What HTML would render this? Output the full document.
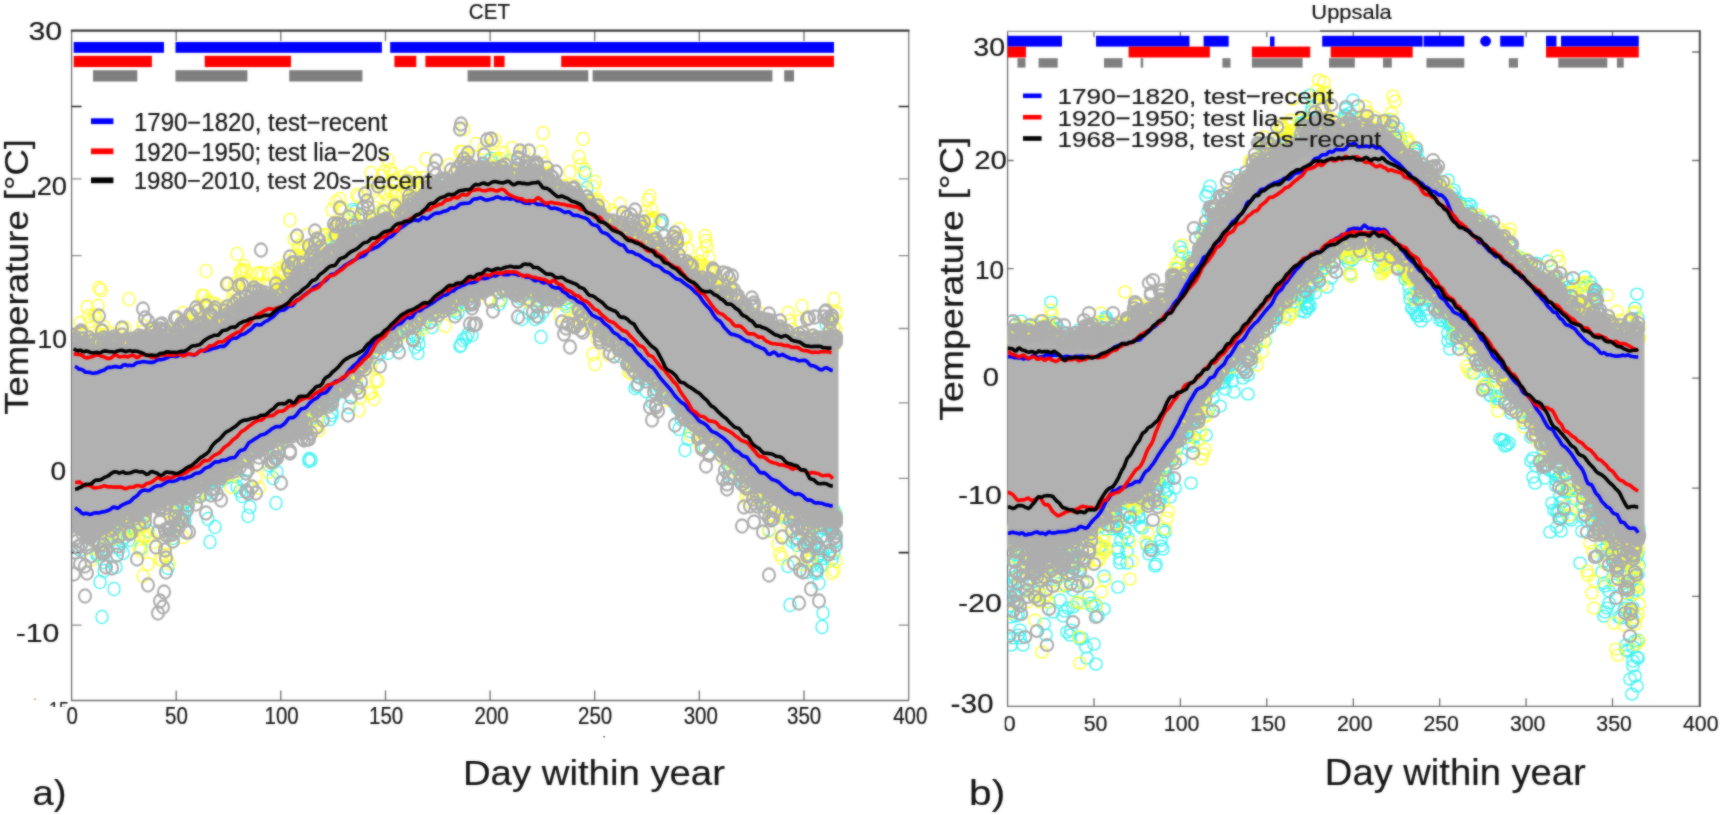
<!DOCTYPE html>
<html lang="en"><head><meta charset="utf-8"><title>Temperature by day within year: CET and Uppsala</title>
<style>html,body{margin:0;padding:0;background:#fff}body{width:1720px;height:815px;overflow:hidden}svg{display:block;font-family:"Liberation Sans", sans-serif}</style>
</head><body>
<svg width="1720" height="815" viewBox="0 0 1720 815">
<defs>
<marker id="mga" markerUnits="userSpaceOnUse" markerWidth="20" markerHeight="20" refX="10" refY="10" viewBox="0 0 20 20"><ellipse cx="10" cy="10" rx="6.0" ry="6.6" fill="none" stroke="#adadad" stroke-width="2.1"/></marker>
<marker id="mya" markerUnits="userSpaceOnUse" markerWidth="20" markerHeight="20" refX="10" refY="10" viewBox="0 0 20 20"><ellipse cx="10" cy="10" rx="6.0" ry="6.6" fill="none" stroke="#ffff30" stroke-width="1.3"/></marker>
<marker id="mca" markerUnits="userSpaceOnUse" markerWidth="20" markerHeight="20" refX="10" refY="10" viewBox="0 0 20 20"><ellipse cx="10" cy="10" rx="6.0" ry="6.6" fill="none" stroke="#3cf2f2" stroke-width="1.3"/></marker>
<marker id="mgb" markerUnits="userSpaceOnUse" markerWidth="20" markerHeight="20" refX="10" refY="10" viewBox="0 0 20 20"><ellipse cx="10" cy="10" rx="6.2" ry="5.9" fill="none" stroke="#adadad" stroke-width="2.1"/></marker>
<marker id="myb" markerUnits="userSpaceOnUse" markerWidth="20" markerHeight="20" refX="10" refY="10" viewBox="0 0 20 20"><ellipse cx="10" cy="10" rx="6.2" ry="5.9" fill="none" stroke="#ffff30" stroke-width="1.3"/></marker>
<marker id="mcb" markerUnits="userSpaceOnUse" markerWidth="20" markerHeight="20" refX="10" refY="10" viewBox="0 0 20 20"><ellipse cx="10" cy="10" rx="6.2" ry="5.9" fill="none" stroke="#3cf2f2" stroke-width="1.3"/></marker>
<clipPath id="ca"><rect x="72" y="31" width="836.5" height="669"/></clipPath>
<clipPath id="cb"><rect x="1007.6" y="31" width="692" height="675"/></clipPath>
<clipPath id="c15"><rect x="40" y="700.5" width="30" height="6.5"/></clipPath>
<clipPath id="c0b"><rect x="1004.8" y="710" width="20" height="30"/></clipPath>
<filter id="soft" x="0" y="0" width="1720" height="815" filterUnits="userSpaceOnUse" color-interpolation-filters="sRGB"><feGaussianBlur stdDeviation="0.80" result="b"/><feComposite in="SourceGraphic" in2="b" operator="arithmetic" k1="0" k2="0.45" k3="0.55" k4="0"/></filter>
</defs>
<rect width="1720" height="815" fill="#fff"/>
<g filter="url(#soft)">
<g stroke="#6e6e6e" stroke-width="1.3" fill="none">
<path d="M71.6 30.5V700.5H909"/>
<path d="M908.7 30.5V700.5" stroke="#7a7a7a"/>
<path d="M71.6 106.5h10M908.7 106.5h-10" stroke="#222" stroke-width="1.7"/>
<path d="M71.6 178.8h10M908.7 178.8h-10" stroke="#8a8a8a"/>
<path d="M71.6 255.7h10M908.7 255.7h-10" stroke="#8a8a8a"/>
<path d="M71.6 328.5h10M908.7 328.5h-10" stroke="#8a8a8a"/>
<path d="M71.6 402.8h10M908.7 402.8h-10" stroke="#8a8a8a"/>
<path d="M71.6 478.4h10M908.7 478.4h-10" stroke="#8a8a8a"/>
<path d="M71.6 552.6h10M908.7 552.6h-10" stroke="#222" stroke-width="1.7"/>
<path d="M71.6 625.2h10M908.7 625.2h-10" stroke="#8a8a8a"/>
<path d="M176.2 700.5v-10M176.2 31v10"/>
<path d="M280.8 700.5v-10M280.8 31v10"/>
<path d="M385.5 700.5v-10M385.5 31v10"/>
<path d="M490.1 700.5v-10M490.1 31v10"/>
<path d="M594.7 700.5v-10M594.7 31v10"/>
<path d="M699.3 700.5v-10M699.3 31v10"/>
<path d="M804.0 700.5v-10M804.0 31v10"/>
</g>
<path d="M70.9 30.6H909.4" stroke="#3a3a3a" stroke-width="2.2" fill="none"/>
<g stroke="#6e6e6e" stroke-width="1.3" fill="none">
<path d="M1007.6 31.3V706.3H1700.5"/>
<path d="M1007.6 52.0h6M1699.6 52.0h-7.5"/>
<path d="M1007.6 160.5h6M1699.6 160.5h-7.5"/>
<path d="M1007.6 268.7h6M1699.6 268.7h-7.5"/>
<path d="M1007.6 378.2h6M1699.6 378.2h-7.5"/>
<path d="M1007.6 488.1h6M1699.6 488.1h-7.5"/>
<path d="M1007.6 596.3h6M1699.6 596.3h-7.5"/>
<path d="M1094.0 706.3v-8M1094.0 31.3v6"/>
<path d="M1180.4 706.3v-8M1180.4 31.3v6"/>
<path d="M1266.8 706.3v-8M1266.8 31.3v6"/>
<path d="M1353.3 706.3v-8M1353.3 31.3v6"/>
<path d="M1439.7 706.3v-8M1439.7 31.3v6"/>
<path d="M1526.1 706.3v-8M1526.1 31.3v6"/>
<path d="M1612.5 706.3v-8M1612.5 31.3v6"/>
<path d="M1007 31.3H1320" stroke="#9a9a9a" stroke-width="1.2"/>
</g>
<path d="M1320 31.2H1700.6" stroke="#555" stroke-width="1.8" fill="none"/>
<path d="M1699.8 30.4V707" stroke="#4a4a4a" stroke-width="2" fill="none"/>
<g clip-path="url(#ca)">
<path d="M493 278 598 217 154 504 152 494 491 177 227 477 124 515 357 385 832 559 389 336 466 338 413 321 723 444 589 312 535 292 353 230 809 505 729 447 497 278 177 486 504 290 169 491 89 521 421 312 727 452 192 481 319 260 179 487 307 414 824 516 133 514 535 285 514 279 135 504 141 548 606 330 723 450 250 507 502 178 409 319 815 514 596 323 118 539 76 516 229 468 120 519 267 438 307 409 342 386 275 298 290 294 510 276 711 436 118 520 430 192 332 412 834 520 656 376 629 348 183 505 221 466 729 474 727 457 416 315 616 335 834 533 125 510 75 513 405 215 353 376 108 526 185 521 415 347 152 497 824 558 129 515 242 496 100 533 83 521 819 514 825 519 548 283 827 521 288 422 242 454 717 448 437 301 795 539 543 289 200 334 152 353 347 383 735 453 175 516 426 309 832 340 315 267 158 496 127 514 349 407 834 520 778 494 122 514 472 302 376 357 827 513 144 503 719 443 545 187 671 396 173 488 185 515 380 338 723 442 101 526 334 393 395 328 363 359 300 283 129 508 135 529 712 439 821 510 545 291 570 302 813 519 750 465 292 291 836 521 773 488 541 337 171 489 394 327 820 522 353 210 705 447 530 281 275 302 641 357 240 491 382 338 811 508 158 492 776 497 300 420 806 508 656 378 380 339 363 356 122 517 614 334 765 506 168 343 681 409 708 294 778 494 463 340 453 306 832 510 114 589 662 392 591 317 131 505 661 388 807 506 127 510 386 339 415 336 487 176 648 248 131 512 192 479 240 467 537 177 489 282 236 459 795 498 398 213 204 478 424 324 585 173 666 397 560 289 621 347 440 305 432 198 518 283 154 492 577 203 832 521 158 492 317 403 797 545 719 441 744 484 825 511 644 362 93 519 721 445 169 488 443 185 514 277 727 445 719 439 260 440 307 430 355 230 311 419 803 506 815 572 794 498 830 511 181 488 208 473 223 467 549 190 244 481 786 500 294 290 267 443 558 299 495 171 99 536 280 433 319 404 185 492 769 481 819 521 89 521 116 517 581 207 585 307 93 530 430 313 106 526 815 512 237 487 254 447 809 541 526 178 384 343 334 397 378 347 204 472 746 462 110 515 355 212 369 235 704 428 828 512 390 333 641 360 658 380 305 281 302 411 668 267 122 521 836 517 414 321 629 348 610 337 97 555 650 370 537 178 313 409 271 442 106 524 419 344 294 287 807 507 167 352 710 432 110 514 482 281 263 441 282 436 648 364 97 525 407 321 340 387 305 277 721 439 529 313 118 523 624 345 436 303 526 181 690 431 572 199 206 494 171 486 127 518 202 480 645 366 129 509 397 220 436 191 547 282 631 349 317 260 112 538 183 512 451 310 393 334 302 422 790 605 665 385 836 541 328 402 587 188 562 191 460 292 309 270 302 414 367 355 455 311 340 381 788 501 426 309 139 502 455 297 700 425 340 382 207 476 834 510 192 479 545 298 796 499 81 517 225 464 127 530 156 498 190 481 526 281 625 346 181 510 807 572 482 288 380 214 792 519 836 540 83 521 121 518 388 333 799 502 700 424 154 491 631 348 677 408 281 427 455 298 490 288 397 326 455 297 332 249 195 496 757 483 275 447 687 280 87 519 131 506 434 303 97 523 788 566 85 349 589 312 644 363 596 218 478 279 279 433 231 470 164 489 346 247 403 328 828 511 338 388 275 437 809 504 669 390 474 325 774 488 301 284 160 492 730 467 668 395 470 288 823 613 183 485 309 459 455 291 102 522 662 224 405 324 156 496 129 509 319 399 397 346 141 524 171 346 345 378 811 547 717 435 304 422 369 354 298 416 351 372 177 507 656 252 652 402 456 190 813 565 817 558 95 519 801 507 821 518 508 280 342 384 566 306 587 309 688 439 167 346 311 406 175 493 122 513 459 292 246 304 754 325 489 161 483 182 691 416 179 488 376 344 825 529 828 519 721 451 323 267 524 282 313 408 100 582 834 520 526 293 384 341 319 397 141 498 108 532 118 351 648 366 773 484 830 520 202 476 350 378 349 376 336 391 723 448 664 253 204 480 394 334 158 491 725 450 355 372 154 491 704 429 123 513 436 196 158 493 137 508 162 498 595 219 560 297 683 410 104 571 476 180 666 259 646 391 279 447 497 176 784 517 447 299 815 543 807 514 112 517 804 509 411 209 342 383 242 317 472 335 108 522 759 495 80 550 809 505 547 283 112 519 677 407 560 289 817 573 319 268 386 332 525 291 330 390 131 506 328 390 361 360 418 353 359 235 480 285 112 515 769 487 823 527 679 406 792 502 229 463 342 252 648 368 150 493 257 444 388 331 635 388 750 473 420 206 350 246 434 307 382 338 457 297 802 508 505 174 809 524 121 519 612 333 206 470 683 409 118 516 623 350 342 382 794 498 623 343 813 538 665 392 750 316 827 517 539 317 658 251 150 496 363 239 198 480 817 527 733 456 453 298 514 279 432 327 821 566 807 514 562 295 809 511 788 496 664 390 775 488 508 178 229 462 137 502 77 343 658 378 317 400 493 171 227 469 796 503 307 408 348 377 633 349 832 518 221 466 644 368 520 298 817 518 116 519 828 338 395 338 133 510 802 503 504 178 836 536 225 472 740 459 313 269 564 299 332 397 782 338 449 301 671 391 392 331 395 329 767 479 811 527 595 219 177 487 311 460 252 452 145 502 120 516 426 306 555 292 125 518 715 434 826 548 421 317 635 361 706 435 493 276 330 419 654 373 660 223 811 506 805 529 365 354 346 381 658 377 522 319 123 553 794 503 650 377 644 366 771 483 340 389 411 317 334 236 560 196 200 481 122 522 832 517 353 376 336 394 119 549 303 275 738 463 428 308 269 444 309 461 355 371 706 430 470 292 484 179 85 526 709 430 819 525 298 276 348 233 315 408 732 451 420 318 677 404 708 429 286 425 273 463 345 379 771 494 796 499 150 498 231 465 767 480 823 511 148 531 746 471 796 504 633 366 564 291 187 501 707 436 825 520 225 464 516 282 160 492 106 524 198 495 771 482 654 252 166 493 217 466 382 335 710 434 748 313 238 463 683 409 221 470 438 301 541 181 378 225 95 528 441 187 763 485 472 289 380 353 495 277 510 161 443 189 129 533 127 515 455 186 112 525 269 465 74 348 187 481 710 287 298 275 834 512 139 504 545 283 826 514 168 489 221 465 819 583 208 519 627 344 96 526 445 297 755 469 660 388 459 299 484 282 708 438 799 511 541 297 481 285 121 515 568 298 123 510 652 373 792 541 786 516 177 344 338 384 765 484 156 497 93 528 539 280 428 311 447 193 371 348 79 523 301 277 190 481 116 536 646 367 225 466 715 435 392 337 397 332 215 527 267 440 196 482 263 440 543 297 259 445 539 290 468 334 329 404 807 505 263 439 336 391 662 381 627 348 116 567 704 433 282 435 131 507 106 519 210 542 334 391 172 488 424 322 667 387 780 493 780 491 539 180 332 387 668 388 271 306 117 520 522 286 681 419 344 382 374 352 420 313 522 278 589 206 426 310 125 514 200 476 648 372 277 472 388 353 537 300 371 348 391 345 637 386 137 500 399 331 512 280 597 218 357 240 732 449 640 356 185 485 112 515 797 500 493 276 823 347 332 415 367 235 537 289 102 617 185 347 458 313 212 480 418 337 493 278 125 537 167 492 497 277 231 461 817 508 219 466 359 366 487 278 156 496 639 370 99 525 719 447 150 353 259 442 167 487 830 346 236 468 265 448 361 238 729 448 152 349 121 511 803 503 765 483 392 224 830 521 242 459 583 193 594 212 248 516 733 456 763 482 501 300 685 450 282 431 414 327 299 415 533 295 648 368 834 553 681 408 307 274 828 521 780 337 315 402 530 286 83 346 121 512 125 515 625 346 662 386 300 418 154 497 529 178 181 488 821 550 349 383 330 393 189 483 223 479 168 568 378 226 391 333 275 438 193 478 124 513 453 292 233 466 457 305 376 234 830 513 185 481 225 469 250 312 760 497 123 510 156 499 171 528 535 319 160 497 221 469 832 520 468 305 461 345 836 518 179 487 242 458 131 513 338 383 591 317 715 433 183 342 713 433 618 349 826 519 405 321 512 287 742 475 120 518 461 294 675 397 217 476 305 416 100 519 796 499 254 450 828 512 273 478 296 418 351 233 311 266 518 275 826 324 727 445 98 554 732 450 265 441 225 464 529 285 750 468 708 428 809 515 227 477 284 436 303 282 229 470 302 411 338 254 675 397 591 206 114 513 444 187 76 348 206 483 160 499 830 519 836 521 534 183 633 350 824 528 271 433 533 278 491 159 460 346 93 524 158 493 453 299 830 516 409 321 819 508 221 329 629 349 746 463 533 288 321 402 805 507 219 466 474 284 208 473 276 503 87 522 284 436 407 319 753 475 122 541 135 526 836 514 257 440 91 520 794 497 687 412 794 505 415 314 730 447 98 523 114 513 539 282 187 491 114 526 380 337 566 303 434 195 834 523 432 304 261 446 819 555 133 503 137 516 120 513 543 312 133 508 436 319 458 186 323 400 344 377 537 294 432 305 187 487 570 297 767 498 95 524 378 343 145 514 411 332 118 513 137 507 315 411 415 314 357 243 179 485 443 191 817 533 271 442 809 508 778 496 217 478 744 461 815 512 219 482 541 301 296 283 173 538 129 540 530 178 213 492 162 489 552 287 822 627 821 517 620 356 123 512 476 286 104 562 407 318 234 465 642 369 129 512 830 517 800 505 604 328 319 399 382 232 748 470 721 439 417 316 679 429 828 514 524 284 133 511 285 427 237 476 769 530 725 445 470 292 147 346 273 437 394 334 265 436 499 304 246 470 278 433 439 193 438 299 160 489 131 510 166 504 679 401 527 279 441 191 305 413 187 490 798 503 300 285 799 506 237 460 190 490 522 282 214 467 137 500 307 408 102 517" fill="none" stroke="none" marker-start="url(#mca)" marker-mid="url(#mca)" marker-end="url(#mca)"/>
<path d="M830 346 119 335 315 426 229 310 499 300 602 214 317 263 317 404 646 229 384 172 480 283 669 263 629 230 599 222 367 233 596 207 384 335 784 514 141 519 321 249 409 216 420 320 405 217 581 202 371 234 424 184 587 211 788 496 192 347 526 297 177 345 644 238 495 140 352 215 755 323 463 180 166 512 367 237 566 199 790 321 763 486 417 206 834 299 811 527 317 261 388 226 344 377 476 179 447 188 336 256 171 346 710 434 683 278 296 285 476 177 792 500 474 182 250 302 803 564 660 255 315 250 332 261 376 234 211 330 340 199 705 236 397 221 401 210 95 343 505 171 202 326 702 288 125 349 723 299 428 198 432 192 579 157 727 284 443 193 179 343 491 279 434 191 206 271 357 195 815 346 412 197 93 350 834 326 355 239 689 277 417 320 746 496 533 280 595 319 344 249 167 349 669 267 734 306 606 227 283 285 124 511 79 341 265 307 304 248 369 233 317 420 694 283 589 208 403 177 139 338 442 299 172 513 233 317 97 351 629 242 788 313 202 339 150 332 145 349 367 237 782 501 102 352 271 285 135 505 748 469 593 354 246 310 376 229 143 500 396 196 399 214 683 274 210 470 388 344 692 263 780 554 739 464 200 477 194 487 401 215 459 182 390 170 673 264 426 159 188 344 589 202 535 281 696 286 480 175 759 319 430 201 765 326 589 215 254 443 322 263 545 187 413 204 150 495 568 194 183 537 665 257 200 482 453 191 443 308 110 514 690 283 596 216 344 242 332 393 761 475 436 308 520 283 223 328 436 194 227 317 177 346 572 193 411 212 196 497 269 439 543 173 187 349 483 182 244 304 114 350 198 495 114 519 227 318 466 285 642 242 338 223 311 266 259 306 788 498 334 257 79 515 294 239 141 505 692 277 104 335 162 351 290 220 794 502 368 235 646 243 250 313 637 238 798 500 380 344 143 501 509 173 363 361 700 277 357 370 809 345 254 288 819 345 424 207 269 304 102 332 386 341 778 544 80 516 702 290 602 219 616 232 210 332 156 498 531 280 280 427 210 335 141 501 709 288 392 225 357 238 208 334 802 502 537 174 800 515 154 491 550 181 277 296 106 518 198 477 208 330 656 254 673 262 460 187 644 245 562 292 348 376 543 186 112 340 474 182 638 230 342 244 175 492 669 243 319 404 368 236 598 213 227 462 684 273 610 337 612 232 145 500 313 260 384 336 390 335 418 199 284 430 761 321 694 282 279 269 539 181 625 353 129 299 87 345 545 181 148 345 619 230 807 347 635 244 616 334 727 447 623 238 401 217 380 226 146 504 780 498 696 288 461 304 576 309 158 493 242 270 150 495 712 286 87 307 117 343 717 438 317 267 332 257 196 331 818 348 196 340 171 492 236 464 734 308 191 326 363 358 202 473 323 267 298 265 721 447 210 331 664 263 263 274 677 237 357 243 281 272 805 345 313 414 298 415 296 270 372 233 116 349 455 185 175 495 189 338 307 235 122 341 87 522 548 183 832 321 514 275 351 377 685 265 430 198 258 306 533 177 259 488 361 232 116 344 488 178 594 209 85 526 390 223 290 427 715 282 193 344 114 347 667 254 673 260 623 227 200 325 137 347 750 489 91 560 535 180 91 523 162 490 583 208 696 420 422 206 292 288 412 216 826 511 276 434 352 246 177 347 581 200 782 333 167 350 516 172 687 278 179 350 133 504 181 343 650 244 673 270 817 509 401 216 384 338 642 244 269 472 721 298 570 197 117 348 528 283 345 252 712 285 721 441 229 473 336 392 717 279 357 369 564 189 204 330 152 492 677 269 466 170 740 459 202 482 397 221 813 517 336 384 426 307 340 382 440 194 413 187 754 470 122 351 240 319 206 325 593 215 832 518 323 266 229 324 481 173 585 201 212 330 171 348 673 266 629 372 154 352 748 477 80 323 470 179 677 268 434 305 641 246 160 348 275 294 769 495 93 349 489 173 652 374 532 280 372 235 621 339 729 284 116 339 543 169 340 255 290 277 158 491 526 279 319 255 340 207 137 530 367 226 457 289 537 181 355 239 807 341 212 330 313 403 539 173 419 206 462 175 177 521 489 277 773 496 593 208 813 348 338 236 206 472 413 214 227 318 512 276 394 335 463 181 658 253 156 497 87 527 139 508 723 441 342 249 537 182 514 173 181 349 723 301 656 249 637 240 275 301 702 284 716 273 608 225 784 536 148 499 282 285 679 229 87 348 679 274 177 484 127 345 725 454 580 318 748 471 717 446 723 284 430 199 294 275 543 133 633 231 497 179 591 211 664 400 202 337 242 313 610 224 541 302 305 279 583 139 262 307 660 379 476 177 689 276 413 319 234 460 409 185 451 192 746 320 214 314 412 339 577 201 366 239 667 386 834 570 382 176 223 318 242 311 246 309 422 199 518 181 83 521 367 228 721 298 342 379 185 481 468 181 206 309 463 187 773 492 618 336 775 327 432 312 116 513 365 362 547 186 794 498 95 524 700 281 305 277 353 247 273 434 420 210 355 245 137 505 131 509 275 433 409 320 493 276 698 285 627 232 244 283 606 223 593 321 223 324 359 235 129 345 591 327 650 196 352 380 173 351 809 507 288 292 675 270 528 301 591 313 480 179 646 247 652 220 765 497 735 462 363 241 183 487 336 202 478 294 510 278 499 180 757 325 820 342 696 426 96 319 77 349 468 174 234 474 585 170 437 308 506 275 131 351 233 295 110 347 216 326 273 299 610 228 250 304 464 129 629 232 261 303 386 211 378 225 803 504 700 423 372 235 834 337 315 427 705 288 635 367 334 386 311 404 350 240 296 283 482 180 696 284 121 329 79 527 640 236 340 381 562 197 258 308 135 514 256 309 671 264 604 336 641 239 405 188 200 332 698 282 778 330 428 193 267 435 434 305 140 535 376 231 631 233 369 231 219 471 530 179 267 440 499 176 76 347 455 182 238 315 191 338 256 292 501 159 277 292 160 492 418 208 250 313 830 520 767 487 294 418 650 252 627 355 135 350 685 278 196 340 798 505 305 276 393 207 250 311 668 265 830 342 76 526 574 203 380 213 323 267 99 347 737 459 773 332 200 477 260 298 154 354 95 524 384 228 119 514 713 284 792 330 330 394 575 316 131 508 830 334 150 493 752 315 474 283 708 428 102 520 652 250 254 309 602 214 694 286 300 246 497 159 135 502 535 173 286 430 407 215 298 276 562 190 533 281 365 217 135 502 326 394 321 399 719 297 328 259 633 363 127 528 167 351 823 346 120 344 663 262 470 182 319 263 165 493 371 173 240 317 189 324 414 197 265 286 98 519 753 472 541 152 497 277 370 234 380 223 667 255 698 422 742 463 76 514 120 528 401 331 305 410 282 293 416 178 612 232 238 315 388 160 298 419 587 208 746 489 738 464 343 245 181 343 715 280 501 180 154 493 568 197 422 329 529 300 273 303 367 367 325 246 211 326 399 221 493 179 424 308 221 329 593 187 637 367 568 198 535 287 836 314 315 267 145 500 405 208 419 199 594 318 551 184 424 200 240 272 263 438 595 182 750 487 79 515 595 203 244 266 786 337 526 176 832 340 104 327 696 285 332 210 278 429 177 347 253 307 643 243 95 348 416 314 233 460 324 235 547 180 231 323 296 288 213 329 85 334 418 207 388 200 145 535 658 254 300 281 811 345 438 305 79 334 627 238 673 266 520 176 204 337 474 157 445 193 415 212 828 512 615 214 158 352 355 369 162 331 219 323 146 507 625 240 185 482 280 434 137 506 708 428 631 220 834 513 229 317 675 270 723 442 95 523 290 431 612 211 371 366 206 336 133 507 206 335 355 372 616 231 98 522 160 493 280 430 692 278 827 344 589 209 194 320 512 148 593 212 466 186 625 236 81 521 537 286 208 477 468 182 144 517 319 254 606 336 319 407 692 267 235 459 390 217 733 454 652 210 271 304 412 200 799 506 405 218 589 212 805 511 254 446 631 373 152 499 212 332 361 397 290 288 156 352 237 309 794 506 311 267 463 159 405 183 488 179 495 180 436 195 357 377 250 311 256 478 281 427 532 172 158 502 493 177 208 334 365 236 277 438 508 172 553 188 280 440 671 264 393 225 725 444 750 323 252 312 232 465 815 517 327 264 411 216 273 434 298 419 133 531 158 499 325 394 102 345 604 222 499 181 706 435 430 197 709 291 348 239 345 379 528 180 807 515 748 320 453 309 357 241 692 276 208 328 263 303 729 449 418 204 246 315 830 514 361 361 689 275 76 342 209 327 242 311 204 296 589 317 278 435 313 414 275 449 401 216 809 562 616 227 734 452 447 297 257 285 422 197 769 484 537 178 363 358 479 290 462 152 147 494 617 233 554 290 597 215 631 241 738 473 81 517 572 199 474 281 497 177 704 431 202 477 487 181 206 306 319 430 807 520 434 197 357 240 803 339 790 499 804 507 821 508 112 517 514 275 277 302 139 499 342 244 187 345 154 542 815 348 294 282 409 209 817 348 95 315 484 148 369 191 466 182 792 496 104 529 137 509 232 466 836 561 164 491 169 487 648 248 732 304 192 483 152 504 104 346 325 236 315 412 733 460 108 347 98 306 365 240 704 289 273 304 108 344 420 326 828 347 650 221 221 473 248 284 319 268 518 277 229 469 832 511 202 335 641 236 526 282 307 273 409 205 635 238 286 291 597 331 579 324 612 336 771 514 527 292 759 313 231 487 811 507 819 514 340 232 836 330 227 463 127 348 585 204 123 346 773 490 373 192 309 273 102 522 707 246 641 233 97 546 501 180 654 218 581 305 321 265 441 309 395 180 231 321 644 243 731 288 217 322 461 180 742 316 656 242 631 243 384 335 539 183 257 307 265 308 250 310 288 287 225 324 451 192 405 217 698 286 773 487 662 250 629 240 198 306 120 340 131 506 183 343 110 519 93 339 164 491 415 206 409 212 242 297 386 334 639 243 805 532 595 316 284 271 698 280 740 457 89 529 204 306 675 248 120 512 591 216 231 321 160 353 101 339 719 298 125 514 102 351 342 208 397 218 340 241 688 249 495 180 501 166 600 215 595 364 215 328 119 343 200 336 125 515 125 513 391 191 135 525 757 323 372 234 196 330 654 255 258 292 257 274 269 437 644 217 386 194 252 306 669 263 164 495 148 352 644 240 306 270 306 276 549 190 143 497 462 181 355 377 564 186 271 440 520 175 125 510 677 274 645 238 620 223 600 326 415 201 83 519 497 160 303 282 83 524 334 228 439 195 200 340 296 256 763 325 300 281 215 304 198 329 775 517 727 305 750 491 106 342 652 252 786 521 466 155 612 229 357 242 709 257 99 350 715 441 271 441 277 301 481 177 215 322 486 177 363 358 300 283 501 287 204 480 710 290 474 292 256 309 160 493 518 284 317 407 145 351 413 213 633 243 458 179 587 210 487 284 315 269 650 220 593 216 761 482 654 244 225 323 399 336 537 178 371 233 575 201 171 351 393 174 675 260 694 425 706 284 769 325 284 271 779 335 235 284 164 349 633 240 179 488 753 475 599 223 572 188 370 234 560 315 221 326 811 559 275 295 280 302 99 288 346 219 775 491 350 245 168 341 698 421 700 282 187 482 265 438 248 455 568 193 223 321 445 326 219 326 167 488 817 523 290 294 602 323 181 492 570 199 179 504 711 440 324 396 355 221 727 450 277 287 694 264 825 343 116 528 432 198 658 255 234 289 236 319 301 260 284 296 775 492 148 498 124 340 257 311 123 351 367 237 439 301 344 377 267 300 375 208 380 348 93 527 430 202 78 524 662 396 143 326 568 196 646 242 407 206 286 294 575 186 81 518 350 243 746 319 451 300 822 518 336 250 612 331 395 216 143 519 298 286 604 221 742 311 108 342 597 339 97 347 704 266 401 211 378 381 524 276 259 309 104 518 637 240 731 451 145 510 775 332 248 313 765 481 426 195 426 202 411 173 604 220 75 513 499 178 137 500 813 507 696 429 660 256 79 522 823 343 474 173 457 180 591 206 223 327 179 350 804 333 801 554 114 350 599 220 522 174 648 200 204 320 539 280 292 269 491 171 704 270 323 410 401 216 616 228 702 429 491 167 746 308 236 463 761 474 127 347 108 350 709 268 242 312 311 275 131 343 123 518 348 376 756 471 729 453 700 423 618 226 100 337 407 179 828 347 414 212 267 436 767 493 692 280 344 243 828 518 329 239 212 474 95 524 432 190 344 231 179 351 700 262 359 368 803 343 501 173 261 310 554 191 411 204 625 230 531 176 585 203 328 258 407 319 369 393 748 501 196 331 79 348 227 320 541 183 112 345 172 350 237 316 342 253 116 350 671 251 158 349 784 338 620 204 688 277 809 534 455 295 168 496 836 312 139 348 710 286 221 317 290 289 227 465 141 551 261 302 618 226 260 273 545 184 403 212 524 277 292 277 462 288 805 508 189 349 346 382 545 294 503 180 156 499 643 243 614 229 359 242 120 533 74 529 715 289 472 293 169 352 717 298 710 271 277 303 763 497 499 171 614 226 229 317 759 479 143 349 183 313 568 322 110 351 654 219 185 338 77 514 606 220 784 492 143 576 269 274 317 271 729 303 644 248 110 341 300 264 399 220 493 143 384 192 686 236 361 235 342 379 282 276 208 333 374 399 240 307 520 289 250 308 709 289 623 213 784 336 185 341 830 520 160 559 711 281 438 302 359 410 583 206 455 299 505 177 744 466 688 279 639 237 280 291 763 482 294 290 505 177 690 416 189 346 74 338 106 530 108 340 336 233 359 368 326 262 409 212 187 482 746 470 158 349 449 165 524 287 353 372 731 461 317 427 449 297 321 398 684 238 483 175 771 487 572 198 254 303 480 174 482 278 359 230 480 172 185 334 257 300 179 348 409 207 313 268 727 453 260 302 231 463 660 253 283 294 152 331 566 187 721 292 434 194 87 532 288 295 311 268 453 189 625 341 617 230 277 282 627 233 698 422 229 462 148 502 539 172 347 246 413 213 89 524 524 153 183 343 618 341 702 279 420 315 146 506 570 172 124 340 635 240 363 216 160 493 271 434 246 306 591 325 725 285 380 221 721 447 212 468 395 222 571 199 711 291 426 202 648 239 539 292 156 350 668 264 389 219 158 495 114 349 468 177 106 520 127 347 168 340 520 181 642 243 560 192 719 442 723 451 564 298 574 197 353 239 131 512 133 510 167 497 786 337 553 185 566 292 332 245 129 516 165 543 662 382 562 293 744 473 727 449 330 253 145 353 173 336 834 346 407 192 639 361 248 303 388 332 708 295 468 167 549 288 495 170 348 249 263 306 169 487 631 234 342 383 229 284 309 249 640 247 545 164 417 318 650 253 618 338 723 458 127 515 99 345 342 380 464 186 114 518 348 245 648 221 763 328 244 313 522 286 365 238 242 271 767 495 581 165 589 315 167 499 200 333 142 509 252 302 543 174 135 504 227 319 77 349 141 497 702 253 556 295 694 419 807 504 177 349 376 380 361 236 589 214 89 527 549 182 579 204 696 280 367 238 196 337 489 178 504 153 691 435 294 285 725 446 732 464 137 346 188 489 139 504 345 380 476 281 497 175 549 187 652 236 413 199 282 432 608 333 110 344 154 497 309 257 328 261 160 353 714 434 286 291 825 342 597 219 315 267 526 178 675 268 135 351 118 349 405 323 217 311 761 485 382 344 702 280 303 251 769 531 478 175 140 503 652 251 129 349 148 500 591 210 619 229 294 288 508 165 244 313 650 245 101 290 267 299 204 335 476 180 547 189 194 323 524 285 221 326 453 187 82 345 208 301 405 208 663 252 460 175 577 201 108 534 773 334 89 316 171 499 598 319 656 381 786 513 302 256 288 289 89 523 296 285 317 403 98 334 646 212 99 521 198 338 292 287 629 242 560 189 346 251 336 258 832 348 282 286 746 463 77 338 765 483 689 272 732 451 231 315 123 519 484 172 123 513 436 198 694 280 313 266 309 268 428 193 104 342 106 523 365 232 550 182 194 337 141 349 744 314 238 296 106 350 91 519 166 487 633 237 165 490 581 305 131 507 135 503 216 324 125 347 428 199 284 296 217 330 476 144 646 236 298 246 642 247 815 338 528 283 160 493 758 477 91 345 796 509 321 237 665 264 520 283 248 456 532 181 399 220 530 280 286 267 261 309 610 334 696 283 348 246 819 520 296 418 478 172 616 335 817 346 796 502 311 275 150 334 225 323 639 245 811 507 650 251 752 323 311 407 104 536 374 348 261 299 518 181 401 212 164 351 472 168 288 296 478 172 254 306 371 393 625 240 311 270 694 279 281 444 382 210 169 563 290 293 311 253 700 422 503 284 202 476 137 512 235 311 792 496 131 506 77 519 788 339 424 178 725 303 334 254 591 213 93 341 640 240 292 436 279 274 495 173 166 555 780 491 139 548 127 351 190 482 328 243 803 513 353 232 453 191 623 239 836 516 204 334 229 461 734 301 482 181 598 200 148 353 250 446 212 330 202 473 194 320 635 230 591 213 602 222 378 227 296 429 733 460 215 326 587 211 416 206 704 290 689 264 334 230 531 280 824 511 407 322 212 331 232 302 114 538 531 181 797 499 681 248 401 217 700 445 746 318 271 436 313 264 137 343 122 348 175 329 374 233 696 279 288 261 129 530 284 289 149 535 610 224 263 444 221 323 164 350 417 203 596 317 472 180 643 236 723 441 734 454 334 391 796 341 121 343 583 205 466 295 361 239 713 292 369 222 445 195 202 339 87 519 322 398 141 505 608 354 656 255 472 185 541 173 169 494 675 267 397 221 240 319 177 350 142 332 376 231 162 489 359 197 156 497 800 509 719 285 227 322 237 254 200 331 144 537 209 303 610 223 173 348 654 255 259 310 629 238 474 181 548 189 633 244 424 187 777 505 149 498 790 503 646 248 788 507 587 208 752 468 698 265 218 306 681 277 593 315 246 271 137 506 470 182 554 186 798 337 405 215 451 301 489 278 104 520 744 309 112 346 647 246 702 423 173 343 338 230 162 560 815 348 102 522 684 277 369 235 156 495 110 333 353 246 493 175 807 514 248 448 652 246 482 182 221 321 246 461 719 438 175 342 399 203 336 389 832 339 378 225 363 230 91 321 175 331 363 236 394 221 539 181 202 296 539 289 732 451 292 265 407 214 252 305 281 429 292 284 359 239 587 208 694 269 430 316 80 520 742 467 832 573 166 490 479 176 449 192 139 504 557 294 746 316 165 489 248 309 782 558 597 202 432 201 83 343 148 564 99 346 516 279 516 275 531 279 403 219 736 457 112 350 236 307 802 306 166 488 242 308 225 315 671 244 681 271 685 279 277 432 279 297 706 241 633 239 355 240 744 314 120 343 349 245 622 349 403 195 616 233 696 264 177 340 800 321 127 518 489 298 248 281 125 328 460 152 413 191 604 207 434 198 798 514 644 247 403 219 129 512 589 211 658 251 150 338 223 323 141 496 317 264 376 342 98 348 415 213 765 504 476 289 172 490 210 324" fill="none" stroke="none" marker-start="url(#mya)" marker-mid="url(#mya)" marker-end="url(#mya)"/>
<path d="M68.3 341.4 74.4 341.5 76.5 342.0 78.6 342.4 80.7 342.8 82.8 343.2 84.9 343.6 86.9 343.9 89.0 344.2 91.1 344.4 93.2 344.5 95.3 344.7 97.4 344.7 99.5 344.7 101.6 344.6 103.7 344.6 105.8 344.5 107.9 344.4 110.0 344.3 112.1 344.2 114.1 344.1 116.2 344.0 118.3 344.0 120.4 343.9 122.5 343.9 124.6 343.9 126.7 344.1 128.8 344.4 130.9 344.7 133.0 345.1 135.1 345.5 137.2 345.9 139.3 346.3 141.4 346.6 143.4 346.9 145.5 347.1 147.6 347.2 149.7 347.2 151.8 347.1 153.9 347.0 156.0 346.8 158.1 346.6 160.2 346.4 162.3 346.2 164.4 345.9 166.5 345.6 168.6 345.3 170.6 345.0 172.7 344.8 174.8 344.5 176.9 344.2 179.0 343.9 181.1 343.6 183.2 343.3 185.3 342.8 187.4 342.4 189.5 341.8 191.6 341.1 193.7 339.7 195.8 337.8 197.8 335.7 199.9 333.7 202.0 332.2 204.1 330.9 206.2 329.7 208.3 328.5 210.4 327.4 212.5 326.3 214.6 325.3 216.7 324.2 218.8 323.1 220.9 322.0 223.0 320.9 225.1 319.7 227.1 318.5 229.2 317.3 231.3 316.1 233.4 314.9 235.5 313.8 237.6 312.6 239.7 311.5 241.8 310.5 243.9 309.4 246.0 308.4 248.1 307.4 250.2 306.4 252.3 305.7 254.3 305.0 256.4 304.3 258.5 303.5 260.6 302.8 262.7 302.1 264.8 301.5 266.9 300.8 269.0 300.1 271.1 299.4 273.2 298.6 275.3 297.6 277.4 296.6 279.5 295.3 281.5 293.8 283.6 292.2 285.7 290.5 287.8 288.8 289.9 287.0 292.0 285.3 294.1 283.6 296.2 281.8 298.3 279.9 300.4 278.0 302.5 276.1 304.6 274.3 306.7 272.5 308.8 270.8 310.8 269.2 312.9 267.6 315.0 266.0 317.1 264.5 319.2 263.0 321.3 261.5 323.4 260.0 325.5 258.6 327.6 257.1 329.7 255.7 331.8 254.3 333.9 252.9 336.0 251.5 338.0 250.0 340.1 248.6 342.2 247.2 344.3 245.8 346.4 244.3 348.5 242.9 350.6 241.5 352.7 240.1 354.8 238.8 356.9 237.5 359.0 236.2 361.1 235.0 363.2 233.8 365.2 232.7 367.3 231.6 369.4 230.5 371.5 229.5 373.6 228.5 375.7 227.4 377.8 226.4 379.9 225.4 382.0 224.4 384.1 223.4 386.2 222.4 388.3 221.3 390.4 220.2 392.5 219.1 394.5 218.0 396.6 216.9 398.7 215.8 400.8 214.7 402.9 213.6 405.0 212.5 407.1 211.3 409.2 210.1 411.3 208.9 413.4 207.6 415.5 206.2 417.6 204.7 419.7 203.2 421.7 201.6 423.8 200.0 425.9 198.4 428.0 196.9 430.1 195.4 432.2 194.0 434.3 192.7 436.4 191.5 438.5 190.5 440.6 189.5 442.7 188.5 444.8 187.6 446.9 186.8 448.9 186.0 451.0 185.2 453.1 184.4 455.2 183.7 457.3 183.0 459.4 182.2 461.5 181.5 463.6 180.8 465.7 180.0 467.8 179.3 469.9 178.6 472.0 177.9 474.1 177.3 476.2 176.7 478.2 176.3 480.3 175.8 482.4 175.3 484.5 174.9 486.6 174.4 488.7 174.1 490.8 173.8 492.9 173.7 495.0 173.7 497.1 173.7 499.2 173.8 501.3 173.9 503.4 174.0 505.4 174.1 507.5 174.2 509.6 174.3 511.7 174.4 513.8 174.5 515.9 174.7 518.0 174.8 520.1 174.9 522.2 175.0 524.3 175.2 526.4 175.3 528.5 175.5 530.6 175.7 532.6 175.8 534.7 176.0 536.8 176.2 538.9 176.5 541.0 177.4 543.1 178.9 545.2 180.7 547.3 182.6 549.4 184.3 551.5 185.6 553.6 186.7 555.7 187.8 557.8 188.8 559.9 189.7 561.9 190.6 564.0 191.6 566.1 192.5 568.2 193.4 570.3 194.4 572.4 195.5 574.5 196.6 576.6 197.9 578.7 199.3 580.8 200.8 582.9 202.4 585.0 204.0 587.1 205.8 589.1 207.5 591.2 209.3 593.3 211.1 595.4 212.8 597.5 214.4 599.6 216.0 601.7 217.5 603.8 219.0 605.9 220.5 608.0 221.9 610.1 223.4 612.2 224.8 614.3 226.2 616.3 227.6 618.4 229.0 620.5 230.3 622.6 231.6 624.7 232.8 626.8 234.1 628.9 235.2 631.0 236.3 633.1 237.3 635.2 238.3 637.3 239.2 639.4 240.2 641.5 241.2 643.6 242.2 645.6 243.3 647.7 244.4 649.8 245.6 651.9 246.9 654.0 248.3 656.1 249.9 658.2 251.5 660.3 253.2 662.4 255.0 664.5 256.8 666.6 258.7 668.7 260.5 670.8 262.3 672.8 264.0 674.9 265.7 677.0 267.3 679.1 268.9 681.2 270.5 683.3 272.0 685.4 273.6 687.5 275.1 689.6 276.6 691.7 278.1 693.8 279.6 695.9 281.0 698.0 282.4 700.0 283.8 702.1 285.0 704.2 286.2 706.3 287.4 708.4 288.5 710.5 289.5 712.6 290.6 714.7 291.6 716.8 292.6 718.9 293.7 721.0 294.8 723.1 296.0 725.2 297.2 727.3 298.4 729.3 299.8 731.4 301.4 733.5 302.9 735.6 304.6 737.7 306.3 739.8 308.0 741.9 309.6 744.0 311.3 746.1 312.9 748.2 314.3 750.3 315.7 752.4 317.0 754.5 318.2 756.5 319.3 758.6 320.4 760.7 321.4 762.8 322.4 764.9 323.4 767.0 324.3 769.1 325.3 771.2 326.2 773.3 327.1 775.4 328.0 777.5 328.9 779.6 329.8 781.7 330.7 783.7 331.6 785.8 332.5 787.9 333.4 790.0 334.2 792.1 335.1 794.2 335.9 796.3 336.6 798.4 337.4 800.5 338.2 802.6 339.0 804.7 339.8 806.8 340.5 808.9 341.1 811.0 341.4 813.0 341.5 815.1 341.6 817.2 341.6 819.3 341.7 821.4 341.7 823.5 341.7 825.6 341.7 827.7 341.7 829.8 341.6 831.9 341.6 834.0 341.5 836.1 341.5 838.5 341.4 L838.5 517.5 836.1 517.5 834.0 517.4 831.9 517.2 829.8 516.9 827.7 516.6 825.6 516.1 823.5 515.7 821.4 515.2 819.3 514.6 817.2 514.1 815.1 513.5 813.0 512.9 811.0 512.2 808.9 511.4 806.8 510.5 804.7 509.6 802.6 508.6 800.5 507.6 798.4 506.6 796.3 505.5 794.2 504.3 792.1 503.2 790.0 502.0 787.9 500.8 785.8 499.5 783.7 498.2 781.7 496.7 779.6 495.3 777.5 493.7 775.4 492.2 773.3 490.6 771.2 489.0 769.1 487.3 767.0 485.7 764.9 484.0 762.8 482.4 760.7 480.8 758.6 479.1 756.5 477.4 754.5 475.7 752.4 474.0 750.3 472.2 748.2 470.5 746.1 468.7 744.0 466.9 741.9 465.1 739.8 463.3 737.7 461.5 735.6 459.6 733.5 457.6 731.4 455.7 729.3 453.7 727.3 451.7 725.2 449.7 723.1 447.7 721.0 445.8 718.9 443.8 716.8 441.9 714.7 440.1 712.6 438.3 710.5 436.6 708.4 435.0 706.3 433.4 704.2 431.8 702.1 430.2 700.0 428.6 698.0 427.0 695.9 425.3 693.8 423.5 691.7 421.6 689.6 419.6 687.5 417.4 685.4 415.0 683.3 412.6 681.2 410.1 679.1 407.6 677.0 405.1 674.9 402.5 672.8 400.0 670.8 397.6 668.7 395.2 666.6 392.8 664.5 390.4 662.4 388.0 660.3 385.6 658.2 383.2 656.1 380.8 654.0 378.4 651.9 376.1 649.8 373.7 647.7 371.4 645.6 369.0 643.6 366.6 641.5 364.2 639.4 361.9 637.3 359.6 635.2 357.4 633.1 355.3 631.0 353.3 628.9 351.4 626.8 349.5 624.7 347.8 622.6 346.0 620.5 344.4 618.4 342.7 616.3 341.1 614.3 339.5 612.2 337.8 610.1 336.2 608.0 334.5 605.9 332.7 603.8 330.8 601.7 328.9 599.6 327.0 597.5 325.0 595.4 323.0 593.3 321.1 591.2 319.2 589.1 317.3 587.1 315.5 585.0 313.7 582.9 312.1 580.8 310.4 578.7 308.8 576.6 307.2 574.5 305.6 572.4 304.0 570.3 302.5 568.2 301.0 566.1 299.6 564.0 298.2 561.9 296.9 559.9 295.7 557.8 294.6 555.7 293.6 553.6 292.5 551.5 291.5 549.4 290.5 547.3 289.6 545.2 288.7 543.1 287.8 541.0 287.1 538.9 286.3 536.8 285.7 534.7 285.1 532.6 284.6 530.6 284.2 528.5 283.7 526.4 283.3 524.3 282.8 522.2 282.4 520.1 282.1 518.0 281.7 515.9 281.4 513.8 281.2 511.7 281.0 509.6 280.9 507.5 280.9 505.4 280.9 503.4 281.1 501.3 281.3 499.2 281.5 497.1 281.8 495.0 282.2 492.9 282.6 490.8 283.0 488.7 283.5 486.6 284.0 484.5 284.6 482.4 285.1 480.3 285.7 478.2 286.3 476.2 286.9 474.1 287.5 472.0 288.2 469.9 289.1 467.8 290.0 465.7 291.0 463.6 292.1 461.5 293.2 459.4 294.4 457.3 295.6 455.2 296.8 453.1 297.9 451.0 299.1 448.9 300.2 446.9 301.3 444.8 302.4 442.7 303.5 440.6 304.6 438.5 305.7 436.4 306.9 434.3 308.0 432.2 309.2 430.1 310.4 428.0 311.6 425.9 312.8 423.8 314.1 421.7 315.3 419.7 316.6 417.6 317.9 415.5 319.3 413.4 320.6 411.3 322.0 409.2 323.4 407.1 324.8 405.0 326.2 402.9 327.6 400.8 329.1 398.7 330.5 396.6 332.0 394.5 333.4 392.5 334.8 390.4 336.2 388.3 337.6 386.2 339.1 384.1 340.6 382.0 342.2 379.9 344.0 377.8 345.8 375.7 347.7 373.6 349.7 371.5 352.2 369.4 354.9 367.3 357.6 365.2 360.1 363.2 362.7 361.1 365.2 359.0 367.8 356.9 370.3 354.8 372.7 352.7 375.0 350.6 377.3 348.5 379.4 346.4 381.4 344.3 383.4 342.2 385.3 340.1 387.1 338.0 388.9 336.0 390.7 333.9 392.4 331.8 394.1 329.7 395.8 327.6 397.5 325.5 399.3 323.4 401.0 321.3 402.7 319.2 404.4 317.1 406.1 315.0 407.8 312.9 409.5 310.8 411.2 308.8 412.8 306.7 414.5 304.6 416.1 302.5 417.7 300.4 419.3 298.3 420.9 296.2 422.5 294.1 424.1 292.0 425.7 289.9 427.2 287.8 428.8 285.7 430.3 283.6 431.8 281.5 433.2 279.5 434.6 277.4 435.9 275.3 437.1 273.2 438.2 271.1 439.3 269.0 440.3 266.9 441.2 264.8 442.2 262.7 443.2 260.6 444.3 258.5 445.4 256.4 446.7 254.3 448.2 252.3 449.9 250.2 451.9 248.1 454.0 246.0 456.1 243.9 458.2 241.8 460.3 239.7 462.1 237.6 463.7 235.5 465.0 233.4 466.1 231.3 467.1 229.2 468.1 227.1 468.9 225.1 469.7 223.0 470.5 220.9 471.2 218.8 472.0 216.7 472.8 214.6 473.6 212.5 474.4 210.4 475.4 208.3 476.4 206.2 477.5 204.1 478.6 202.0 479.8 199.9 481.0 197.8 482.1 195.8 483.4 193.7 484.6 191.6 485.7 189.5 486.7 187.4 487.7 185.3 488.5 183.2 489.3 181.1 490.0 179.0 490.6 176.9 491.2 174.8 491.8 172.7 492.3 170.6 492.9 168.6 493.4 166.5 494.0 164.4 494.6 162.3 495.3 160.2 496.0 158.1 496.8 156.0 497.5 153.9 498.2 151.8 498.9 149.7 499.6 147.6 500.4 145.5 501.3 143.4 502.2 141.4 503.3 139.3 504.5 137.2 506.1 135.1 508.1 133.0 510.2 130.9 512.3 128.8 514.1 126.7 515.6 124.6 516.5 122.5 517.2 120.4 517.7 118.3 518.2 116.2 518.6 114.1 519.0 112.1 519.5 110.0 520.1 107.9 520.9 105.8 521.8 103.7 522.8 101.6 523.8 99.5 524.7 97.4 525.5 95.3 526.0 93.2 526.3 91.1 526.3 89.0 526.0 86.9 525.6 84.9 525.0 82.8 524.3 80.7 523.4 78.6 522.2 76.5 521.0 74.4 520.0 68.3 520.0 Z" fill="#b1b1b1"/>
<path d="M279 434 164 497 139 507 633 236 434 190 447 189 591 207 376 226 99 316 593 212 635 357 506 290 474 173 108 345 221 322 732 276 664 256 87 537 629 225 557 185 181 488 208 475 470 174 767 320 87 345 752 298 420 199 571 193 160 498 177 331 152 345 736 296 577 196 131 514 825 516 445 179 493 170 813 522 474 303 256 301 520 284 704 287 311 267 662 221 802 339 119 519 365 229 164 332 727 489 539 295 171 497 137 513 801 512 319 409 168 337 292 424 765 486 118 523 690 418 443 184 414 199 587 197 296 281 516 169 457 184 598 206 198 486 436 175 738 460 556 188 285 432 384 225 472 179 472 308 417 207 384 222 819 515 533 312 788 500 600 331 738 460 510 280 374 230 179 491 549 179 351 378 256 493 432 192 771 488 704 285 190 315 378 346 367 358 478 288 470 288 760 319 562 296 487 175 600 342 380 224 288 434 714 271 97 524 296 424 750 506 690 421 453 301 485 284 652 420 163 338 104 345 625 232 828 516 248 493 269 442 635 372 165 550 80 564 481 170 194 339 405 213 133 346 807 510 275 436 344 391 242 308 771 489 248 308 631 365 428 195 698 283 206 306 819 548 342 388 522 173 95 527 608 344 760 486 76 341 807 509 183 323 799 334 428 183 444 188 258 444 528 283 443 311 658 243 208 475 556 172 219 320 137 345 167 497 141 506 118 523 761 323 736 300 296 424 535 288 175 495 179 517 709 453 250 451 832 519 137 511 330 399 698 281 503 168 430 322 462 180 292 431 803 507 805 515 815 518 286 436 675 425 158 532 796 504 520 291 244 460 214 311 378 186 298 274 391 336 533 284 179 491 740 467 173 534 190 343 386 338 324 259 374 227 265 296 512 281 321 403 487 283 434 192 87 573 476 287 465 179 514 294 518 159 771 508 524 284 93 531 637 238 796 526 200 496 99 530 140 503 154 348 602 332 757 476 530 172 807 319 752 472 428 187 482 173 368 208 144 346 740 307 246 310 145 349 545 179 171 344 478 177 368 231 162 324 681 272 152 329 135 346 275 298 464 166 137 510 487 169 642 370 177 346 183 489 478 177 297 236 673 258 102 331 482 177 290 257 186 487 258 298 713 269 819 520 254 307 87 547 595 213 798 511 188 505 118 341 277 446 150 345 135 342 154 337 98 340 248 308 836 518 309 270 535 294 773 492 484 283 683 414 769 327 476 293 811 589 579 197 143 309 302 274 204 478 193 487 472 302 541 291 549 186 491 285 145 318 183 489 420 319 246 459 439 182 421 203 555 300 154 342 317 411 326 402 466 292 147 502 141 507 298 420 687 262 415 326 828 340 300 418 449 187 815 317 298 420 292 263 608 337 342 389 74 336 635 361 104 346 645 370 148 336 568 324 727 484 819 601 145 522 156 336 470 302 76 523 345 244 466 166 158 505 723 452 541 175 165 330 510 283 516 281 759 483 277 458 221 476 112 519 821 341 460 178 675 263 447 301 476 288 836 337 175 491 786 502 683 270 89 338 282 294 133 345 832 319 769 325 677 269 254 302 106 340 206 329 240 306 545 288 543 290 348 415 217 324 236 313 112 537 560 191 179 526 530 166 331 393 459 299 183 521 175 343 261 293 635 358 754 475 667 244 347 244 702 284 614 222 616 340 430 309 125 517 782 537 776 492 250 450 757 478 286 436 254 288 239 286 811 513 129 534 173 495 172 498 74 523 317 406 635 228 140 506 587 207 438 305 401 332 290 435 464 172 127 343 541 289 127 522 338 224 599 214 160 500 300 424 225 473 179 491 658 383 158 613 537 285 164 592 470 303 763 484 204 332 539 176 832 531 311 433 91 525 763 506 240 308 558 296 834 343 451 307 824 317 825 312 834 522 79 527 786 499 158 500 629 350 81 331 188 498 758 319 344 246 522 296 566 328 259 291 505 282 715 441 440 191 260 443 321 403 380 342 116 339 740 481 219 470 198 311 148 585 91 531 330 253 146 506 261 298 700 427 145 338 709 455 573 196 830 551 146 509 813 515 171 494 533 174 173 343 185 326 76 343 832 339 102 553 568 194 401 214 221 319 158 348 419 205 200 485 332 251 299 421 303 265 363 366 261 298 106 567 832 517 799 338 483 290 212 316 476 285 160 496 553 292 173 493 160 503 240 299 192 337 719 447 641 368 189 532 476 324 658 384 160 329 493 285 824 514 426 199 193 335 271 462 489 289 286 287 78 342 719 292 181 520 149 343 177 495 166 340 771 520 535 173 403 212 189 333 156 497 281 483 710 435 512 289 767 486 650 373 529 151 110 519 455 181 773 491 574 197 255 451 313 252 560 188 547 299 89 530 156 342 625 352 503 290 85 566 374 352 265 293 633 357 294 263 822 514 721 455 802 528 175 336 579 200 520 293 441 181 137 346 545 180 823 517 574 197 296 422 797 509 288 429 332 251 74 339 139 503 675 233 177 342 669 260 769 314 160 507 359 392 200 329 453 182 82 533 177 494 170 528 669 257 255 450 252 451 648 375 160 495 600 213 409 205 560 295 217 472 804 545 363 365 146 339 700 284 93 526 271 300 367 232 175 511 754 303 252 292 621 226 323 420 489 172 154 339 100 545 104 338 173 345 248 461 219 474 342 243 694 276 188 486 361 366 744 304 753 499 507 290 354 236 782 497 363 208 815 547 357 232 294 424 296 283 263 302 99 524 627 364 396 342 541 178 514 175 596 322 171 342 127 339 524 282 227 468 635 210 169 528 373 225 529 176 227 307 179 328 640 223 256 447 822 519 769 490 122 328 742 308 234 304 108 524 734 460 480 288 662 396 279 452 692 421 137 347 719 294 232 469 579 311 633 370 355 237 166 558 148 321 631 355 303 433 246 297 744 312 426 195 470 324 336 226 300 263 223 322 334 254 330 253 240 467 652 378 834 518 773 519 758 480 679 255 365 369 140 340 537 289 760 320 819 343 533 176 212 489 179 341 162 494 813 336 727 293 363 365 91 525 150 349 740 310 141 342 275 299 767 486 656 389 198 324 344 382 455 316 712 437 326 401 304 440 292 433 765 487 152 349 550 182 105 524 638 384 384 212 804 341 298 426 463 297 794 563 242 461 830 520 91 526 811 512 424 199 181 493 664 392 160 331 411 325 512 175 830 322 717 293 484 171 757 486 763 532 187 510 108 519 813 515 809 555 733 456 481 286 231 318 234 313 361 236 759 484 169 492 206 481 171 493 811 540 746 476 181 345 784 503 734 457 631 215 324 257 78 547 727 450 104 524 102 528 834 521 167 502 244 310 288 289 200 483 725 452 412 205 518 301 595 324 369 228 779 330 188 341 428 310 805 546 685 273 294 283 119 536 294 428 252 303 627 350 348 238 160 342 288 267 575 327 585 318 248 470 256 452 315 231 461 174 386 221 345 235 200 479 782 330 171 492 204 478 294 285 315 407 361 227 706 466 826 311 204 324 564 192 819 518 91 533 461 293 491 301 150 506 217 494 330 397 489 287 807 543 418 321 112 568 200 326 537 165 721 293 815 519 160 601 610 353 763 482 160 521 820 514 754 306 510 281 744 466 334 224 359 234 468 291 267 298 442 302 767 489 336 235 158 501 468 169 255 305 332 401 805 338 780 498 367 201 552 292 256 305 263 445 790 500 725 453 177 318 809 318 717 285 169 535 612 221 355 239 725 450 759 481 351 380 836 338 144 349 108 522 177 496 522 282 618 229 371 230 343 229 166 495 235 315 142 346 334 251 731 460 298 281 759 482 234 312 328 406 74 574 786 331 275 440 834 518 702 449 367 227 187 341 624 348 675 402 432 193 589 207 290 272 562 322 470 180 163 607 470 174 384 223 817 514 788 332 413 204 259 457 645 371 256 306 815 513 250 305 459 179 727 274 355 238 581 200 365 359 167 495 660 250 485 289 583 332 775 511 378 223 811 513 331 254 758 482 79 523 656 239 740 466 309 246 75 524 487 140 212 474 77 523 319 404 235 314 332 255 792 502 196 504 85 528 725 293 468 299 317 239 788 508 581 330 221 478 173 494 177 507 501 174 813 340 158 495 158 333 710 280 148 347 804 508 405 212 602 218 98 525 181 345 510 287 539 292 828 515 265 442 797 506 516 295 438 315 786 502 819 515 712 437 776 494 599 326 834 516 135 515 325 258 91 556 518 158 514 175 288 433 359 235 368 230 677 239 248 305 679 270 483 164 317 261 478 174 365 362 150 342 152 345 514 294 296 282 135 508 499 171 633 358 175 531 160 509 154 500 162 343 169 497 591 209 175 490 290 453 543 287 261 299 514 284 104 346 610 338 478 178 827 338 344 382 422 198 422 200 821 537 623 230 435 313 216 478 372 230 438 188 142 337 170 499 742 467 694 422 800 570 776 493 520 281 654 379 144 502 426 195 259 451 380 366 755 503 608 334 89 531 252 487 673 237 464 293 326 258 650 374 627 235 688 418 650 407 455 180 619 350 160 522 698 438 313 264 208 475 219 473 114 529 252 307 231 469 426 311 122 335 344 242 284 437 93 525 160 496 104 344 637 237 468 153 449 305 802 341 183 344 744 507 707 284 445 307 474 325 81 333 656 407 214 488 190 486 225 311 598 324 809 531 309 269 108 521 175 492 125 344 704 434 209 316 319 262 99 526 484 155 83 339 761 485 166 535 238 310 602 217 483 292 116 343 93 525 204 328 794 520 193 484 664 236 541 178 302 423 93 341 97 530 545 295 828 519 296 425 493 169 183 497 727 453 784 333 809 524 692 266 300 427 802 339 193 333 156 499 570 347 577 193 796 506 781 331 642 227 338 249 746 306 750 479 192 316 643 368 215 308 560 191 305 424 432 314 729 478 321 403 164 340 518 165 110 521 468 289 181 497 133 344 89 346 708 289 242 285 520 151 123 344 786 507 265 302 191 342 191 488 434 169 518 317 455 173 823 518 89 526 139 505 171 345 156 344 175 337 579 322 139 508 581 202 361 215 771 488 309 439 382 347 382 343 192 330 137 341 103 343 315 244 192 490 342 225 80 522 104 553 665 259 566 189 250 454 154 503 547 288 83 524 765 320 386 220 684 417 516 176 534 166 353 377 574 188 87 533 150 339 301 425 263 304 746 488 170 342 526 162 493 311 351 397 392 335 485 175 393 345 407 182 81 344 805 527 296 282 573 189 129 513 673 401 135 511 156 341 223 320 384 220 713 438 258 297 537 166 535 284 426 199 796 506 643 239 821 515 503 168 302 422 409 201 526 283 171 335 771 493 169 493 370 217 776 491 763 483 338 391 533 177 529 286 223 321 189 340 681 409 457 169 658 411 646 245 319 240 210 474 499 292 832 531 430 195 77 541 790 520 654 392 280 435 300 430 778 492 708 284 196 491 525 167 472 304 809 539 691 421 761 479 486 283 183 344 273 438 547 306 728 465 725 296 486 172 177 524 738 296 755 319 345 383 560 297 516 290 685 419 259 300 227 284 512 291 413 340 298 421 621 223 269 302 424 201 834 516 813 515 292 431 629 364 83 522 281 432 204 484 175 318 254 301 765 483 160 344 137 559 463 180 418 205 817 515 832 519 441 305 537 163 83 529 357 239 811 517 141 506 210 474 81 522 177 492 480 284 229 313 349 386 759 318 181 327 757 477 298 277 156 344 384 341 455 182 595 215 106 526 506 173 349 217 735 458 311 265 478 285 491 139 422 199 595 212 780 496 696 425 795 507 233 316 599 335 292 282 104 545 809 514 139 524 307 439 459 184 409 209 209 328 742 476 803 333 836 536 340 389 799 603 771 326 114 346 717 446 135 514 259 303 707 433 181 489 234 471 681 261 709 279 85 525 167 498 635 234 560 295 162 498 792 531 382 346 108 523 271 442 246 310 589 201 832 338 830 521 465 291 493 284 551 176 288 287 229 314 321 247 273 437 173 541 189 490 211 495 637 366 807 339 679 409 424 195 832 337 499 284 798 527 487 284 466 174 564 191 782 498 451 182 273 452 206 327 757 496 834 337 332 404 173 494 74 341 359 369 198 483 551 299 290 288 602 333 731 289 169 342 206 513 464 159 353 226 734 290 539 290 627 235 85 596 464 182 382 222 481 176 781 331 461 164 142 508 817 519 742 464 267 301 771 496 399 352 330 253 836 521 819 516 501 280 152 348 677 243 460 129 313 260 81 545 503 280 395 206 700 429 290 451 416 322 432 189 110 342 355 375 428 182 173 498 549 184 671 398 614 356 451 170 202 479 169 530 725 470 675 262 210 329 522 283 702 281 610 223 637 362 144 340 832 520 265 444 765 513 458 179 620 345 227 319 682 414 179 494 393 339 524 285 512 290 311 256 658 252 832 528 91 537 135 518 129 343 522 286 276 284 162 343 158 335 386 343 633 235 693 424 198 484 143 501 435 306 123 519 301 275 579 309 131 533 348 387 826 518 545 298 740 309 529 299 252 303 728 450 532 173 641 365 618 230 133 510 179 492 187 329 309 414 593 213 549 292 803 511 466 175 158 501 81 527 597 215 742 484 702 287 554 298 797 538 497 282 407 212 769 486 690 265 204 330 478 287 269 440 679 265 828 319 357 388 258 448 769 575 334 394 744 468 526 170 518 292 704 285 104 521 598 324 752 307 93 341 817 544 413 209 357 239 558 300 648 374 263 304 537 177 200 333 660 247 612 341 644 369 242 312 696 281 813 514 777 498 323 405 89 535 798 528 817 338 141 346 792 513 803 572 317 427 116 517 497 174 250 298 529 173 81 339 181 324 413 339 600 339 162 498 541 286 74 518 683 267 269 301 407 328 250 307 549 182 177 490 181 493 74 522 754 522 671 254 483 292 139 336 388 340 811 343 359 367 256 291 313 253 340 249 466 181 181 339 725 454 296 423 150 343 721 446 246 491 294 424 639 377 267 443 237 301 242 309 487 288 261 445 650 244 76 538 702 447 166 572 202 481 727 297 817 514 773 494 826 516 549 291 273 461 231 317 834 538 656 405 165 508 246 473 186 532 110 530 821 520 449 299 813 515 606 220 416 207 75 552 221 472 681 408 422 202 780 321 501 280 221 500 152 343 769 518 183 340 353 236 141 504 265 441 296 279 78 342 336 252 581 315 160 498 763 484 801 512 432 308 606 338 125 341 340 250 757 506 547 168 445 304 351 241 223 321 685 275 185 338 89 528 767 322 418 204 760 495 332 394 457 297 539 178 114 342 355 232 233 316 143 510 811 342 93 540 558 293 378 227 533 177 481 177 778 499 441 306 594 209 217 323 553 178 646 381 298 276 426 198 763 486 340 386 700 437 292 436 305 431 501 167 177 344 156 338 169 496 321 262 202 478 106 551 407 213 386 219 656 251 173 342 319 403 472 295 440 305 430 188 118 546 761 322 150 498 645 372 123 345 196 333 763 322 461 124 822 524 160 500 424 199 183 489 85 530 369 231 386 338 407 327 179 489 654 240 261 250 112 340 154 342 539 176 361 382 504 280 836 522 472 167 518 285 298 424 535 171 554 298 740 463 573 325 696 280 510 283 342 390 352 237 667 397 152 344 731 296 304 273 210 475 280 433 114 337 482 170 694 280 507 284 121 343 328 253 627 217 617 345 112 341 117 555 746 486 817 514 447 186 229 466 664 390 162 497 468 163 771 321 742 526 700 429 173 346 209 479 250 306 259 305 512 282 160 325 746 472 168 498 443 181 428 310 156 496 271 440 188 486 305 273 633 221 147 501 200 486 173 338 175 517 767 488 311 412 185 342 822 338 818 339 784 497 250 302 780 330 388 221 723 479 143 503 507 174 125 520 152 342 461 293 169 342 436 161 673 248 505 172 677 405 807 509 740 466 530 291 83 528 608 221 156 547 227 472 382 225 179 343 418 316 145 516 505 165 196 338 702 278 154 497 644 222 484 284 257 464 830 330 275 458 165 530 807 556 167 504 321 405 438 187 95 530 526 282 564 334 524 173 319 409 621 349 277 290 830 337 608 339 648 241 229 472 528 175 306 269 514 280 102 550 376 225 823 515 133 339 468 175 139 346 795 505 474 179 350 243 347 236 589 206 836 520 210 314 481 168 242 308 723 273 784 498 114 342 89 537 97 524 91 525 437 188 175 492 742 308 319 404 696 426 232 314 219 475 263 449 252 306 231 315 189 489 426 196 474 179 746 481 827 517 196 308 836 545 397 334 729 278 537 306 355 375 829 554 353 376 340 208 830 528 78 343 832 316 252 451 284 434 811 512 788 503 637 229 179 335 474 287 457 180 409 196 836 342 162 496 694 277 773 328 780 327 256 305 98 526 803 508 95 345 416 205 102 524 623 213 807 519 302 438 537 316 821 517 836 517 177 495 275 436 631 357 141 503 345 240 181 489 748 310 763 321 177 346 684 418 646 244 794 503 322 404 133 345 735 460 480 174 817 570 190 343 349 243 600 331 315 407 583 315 566 192 250 451 365 194 826 520" fill="none" stroke="none" marker-start="url(#mga)" marker-mid="url(#mga)" marker-end="url(#mga)"/>
</g>
<g clip-path="url(#cb)">
<path d="M1486 366 1609 328 1268 309 1013 532 1108 322 1199 400 1405 257 1059 529 1326 257 1265 341 1405 279 1238 345 1625 608 1450 349 1066 529 1077 530 1443 321 1065 537 1575 465 1496 396 1637 686 1516 260 1322 250 1104 576 1419 278 1203 229 1168 445 1141 328 1353 245 1179 430 1433 290 1041 537 1505 374 1573 458 1555 296 1620 335 1134 494 1421 167 1218 376 1633 661 1388 150 1071 344 1554 441 1298 275 1103 507 1478 336 1507 377 1595 502 1027 536 1306 152 1130 327 1246 337 1015 584 1478 224 1128 335 1296 156 1139 318 1044 531 1326 144 1310 259 1044 341 1473 355 1616 517 1125 334 1457 313 1348 118 1113 503 1072 529 1550 443 1175 434 1576 462 1077 538 1348 233 1600 497 1362 143 1476 332 1336 139 1450 316 1134 332 1051 566 1623 557 1630 554 1236 350 1193 446 1130 324 1445 205 1626 534 1201 253 1369 236 1306 293 1103 514 1089 524 1407 163 1275 311 1086 647 1132 330 1639 565 1405 267 1495 363 1400 160 1564 446 1450 306 1601 500 1597 519 1619 617 1599 493 1492 359 1464 323 1142 322 1578 466 1372 139 1497 250 1168 479 1170 447 1569 295 1324 268 1348 142 1374 133 1455 213 1277 308 1106 339 1122 327 1614 519 1104 334 1471 217 1170 298 1438 193 1099 513 1377 238 1587 321 1403 251 1213 398 1319 256 1063 538 1308 146 1592 487 1614 515 1246 195 1632 595 1011 536 1402 252 1123 499 1139 328 1058 537 1538 412 1013 531 1568 471 1117 516 1585 484 1329 139 1454 309 1032 542 1545 426 1229 209 1196 399 1536 279 1056 540 1450 308 1312 272 1346 235 1407 275 1274 297 1450 197 1267 310 1270 174 1499 361 1087 524 1129 492 1244 335 1172 276 1452 309 1488 349 1556 436 1582 318 1094 345 1277 314 1552 459 1260 318 1059 541 1172 440 1542 289 1383 238 1284 288 1151 547 1151 476 1452 324 1495 237 1524 393 1550 431 1227 212 1611 552 1229 217 1460 317 1626 530 1136 324 1416 164 1180 423 1175 433 1047 532 1367 239 1272 308 1455 332 1599 498 1417 292 1536 406 1115 511 1509 259 1080 639 1070 536 1146 484 1310 95 1075 528 1034 341 1586 480 1125 492 1447 311 1065 611 1279 292 1486 361 1124 486 1582 531 1255 186 1376 234 1141 481 1288 287 1219 375 1600 324 1613 512 1125 323 1626 523 1521 265 1286 155 1594 292 1208 211 1500 363 1381 148 1196 421 1306 269 1256 179 1488 372 1528 274 1212 231 1499 241 1144 481 1080 334 1232 357 1082 559 1628 523 1327 248 1274 299 1369 238 1461 318 1389 253 1189 413 1130 493 1353 236 1465 322 1332 147 1350 240 1156 464 1571 311 1585 476 1588 479 1450 212 1395 242 1623 522 1054 539 1372 234 1203 391 1469 216 1631 529 1201 251 1341 238 1054 538 1350 237 1011 331 1277 295 1058 340 1149 475 1540 285 1452 211 1310 147 1135 328 1450 325 1637 533 1303 297 1279 298 1436 186 1412 160 1052 340 1210 381 1552 433 1070 534 1109 341 1147 320 1378 246 1021 531 1046 530 1184 422 1485 348 1573 286 1390 239 1379 142 1417 278 1219 370 1450 318 1562 444 1187 407 1013 332 1516 265 1120 559 1619 337 1557 446 1193 400 1068 567 1016 337 1229 219 1554 280 1070 348 1440 195 1322 259 1203 391 1637 657 1047 531 1215 231 1486 348 1350 138 1550 454 1386 237 1381 233 1338 146 1016 535 1308 141 1084 529 1564 450 1059 346 1189 402 1056 580 1047 563 1032 336 1165 493 1519 262 1023 588 1403 161 1162 310 1212 237 1115 518 1443 201 1248 190 1462 225 1554 440 1633 531 1265 312 1630 525 1155 470 1635 308 1015 338 1462 215 1481 337 1191 275 1462 319 1132 325 1488 350 1108 498 1155 468 1200 251 1231 354 1473 226 1092 527 1113 499 1189 405 1227 199 1588 484 1438 296 1389 142 1526 397 1158 503 1635 578 1019 531 1239 342 1134 329 1550 277 1265 174 1372 233 1568 287 1135 308 1481 345 1144 310 1073 534 1058 328 1633 534 1341 242 1631 530 1070 529 1379 141 1630 531 1011 535 1379 239 1614 521 1630 679 1560 496 1457 221 1393 242 1317 261 1471 332 1517 269 1229 358 1097 523 1298 278 1165 299 1110 497 1556 447 1079 525 1357 146 1601 500 1033 536 1638 640 1504 370 1125 532 1068 348 1339 142 1227 358 1253 342 1303 270 1486 241 1108 504 1231 353 1051 329 1455 315 1593 492 1191 483 1067 632 1068 347 1305 304 1621 522 1027 529 1552 434 1336 245 1011 539 1110 501 1068 532 1181 421 1296 275 1564 460 1109 334 1388 150 1249 187 1618 519 1303 152 1332 245 1599 527 1630 558 1173 286 1187 272 1422 291 1405 251 1630 524 1626 522 1307 146 1290 159 1597 292 1200 389 1377 142 1353 242 1310 257 1507 373 1544 419 1319 148 1533 283 1324 252 1636 542 1218 384 1217 370 1588 478 1379 234 1315 262 1595 492 1016 603 1279 290 1020 529 1286 280 1554 444 1635 535 1604 501 1141 320 1124 488 1322 261 1408 278 1633 531 1061 537 1535 268 1336 134 1082 638 1462 221 1182 417 1607 503 1158 464 1066 539 1289 293 1215 372 1286 283 1628 323 1098 514 1084 524 1438 195 1566 455 1208 384 1407 257 1388 245 1606 516 1016 532 1058 537 1289 285 1343 238 1571 292 1620 530 1298 155 1263 144 1604 583 1167 449 1101 516 1127 485 1552 440 1022 592 1166 302 1123 489 1607 331 1056 340 1346 116 1447 301 1377 147 1412 274 1089 520 1445 302 1398 150 1327 250 1120 490 1578 470 1312 258 1607 513 1125 486 1186 412 1134 323 1587 521 1235 206 1459 218 1011 534 1042 541 1569 456 1201 235 1047 562 1571 458 1269 313 1175 294 1421 321 1616 329 1507 255 1168 448 1158 492 1243 200 1538 420 1597 500 1077 531 1302 285 1467 211 1066 533 1633 328 1051 302 1051 552 1082 534 1056 539 1260 318 1078 528 1552 290 1301 311 1265 311 1135 484 1018 540 1236 210 1014 594 1120 490 1078 534 1154 462 1068 349 1460 216 1628 529 1181 286 1134 330 1317 254 1276 310 1177 430 1341 244 1448 319 1351 237 1454 218 1181 459 1023 645 1022 550 1372 232 1376 237 1314 265 1384 237 1187 409 1576 470 1039 537 1402 249 1336 243 1231 215 1082 529 1537 410 1454 319 1386 239 1545 290 1139 507 1255 329 1310 277 1341 145 1338 129 1571 305 1327 139 1165 448 1293 271 1488 347 1269 308 1225 369 1407 265 1218 226 1212 378 1343 142 1521 389 1605 586 1194 271 1160 458 1040 532 1103 333 1557 511 1346 109 1483 356 1039 533 1538 413 1505 255 1547 292 1369 243 1344 143 1025 536 1502 366 1526 394 1618 538 1405 254 1118 587 1037 531 1137 512 1624 521 1633 666 1053 612 1384 239 1037 340 1498 399 1576 500 1600 495 1175 297 1312 143 1347 128 1328 130 1606 503 1038 337 1602 503 1132 490 1011 617 1312 283 1416 169 1493 357 1141 487 1571 520 1575 462 1206 382 1060 555 1436 191 1549 428 1219 220 1602 505 1334 147 1410 266 1127 486 1168 452 1156 459 1189 269 1576 471 1028 530 1597 492 1162 460 1448 209 1018 331 1061 528 1511 393 1372 129 1239 207 1549 470 1227 359 1041 335 1628 532 1609 509 1555 444 1388 243 1574 464 1146 481 1324 262 1032 535 1604 331 1096 664 1298 265 1222 375 1312 108 1156 460 1471 326 1612 333 1307 308 1601 504 1246 341 1090 522 1172 302 1127 489 1147 545 1139 482 1408 166 1275 298 1262 318 1177 439 1362 232 1018 540 1392 152 1621 526 1251 330 1052 541 1158 305 1042 540 1272 306 1523 395 1196 395 1383 252 1635 535 1315 257 1599 527 1177 448 1458 313 1236 212 1144 482 1146 316 1552 430 1378 243 1588 295 1035 535 1049 533 1064 342 1037 337 1023 539 1411 261 1426 179 1009 535 1189 404 1099 513 1058 535 1023 539 1249 191 1609 603 1231 354 1212 377 1149 476 1092 348 1215 220 1274 297 1620 516 1180 426 1182 424 1571 461 1272 172 1087 530 1113 493 1414 164 1101 548 1268 313 1602 497 1348 234 1524 274 1089 521 1155 475 1229 217 1624 577 1322 250 1239 207 1090 525 1046 530 1313 262 1141 487 1032 534 1530 271 1512 378 1165 457 1561 449 1338 250 1025 539 1582 470 1141 323 1417 171 1613 534 1613 519 1362 232 1337 137 1585 277 1037 596 1205 250 1434 193 1115 340 1291 279 1205 237 1459 211 1054 530 1540 462 1034 339 1568 484 1191 397 1493 354 1039 336 1490 356 1248 341 1129 493 1581 472 1091 526 1536 466 1175 438 1481 235 1555 472 1564 454 1251 187 1177 269 1246 336 1523 400 1621 618 1199 390 1279 303 1068 536 1123 488 1061 339 1158 481 1583 489 1445 303 1592 287 1243 201 1365 146 1217 231 1548 432 1200 260 1089 526 1599 313 1239 352 1534 413 1326 139 1009 536 1040 533 1301 268 1137 492 1557 437 1222 226 1383 233 1628 530 1573 459 1049 325 1626 523 1623 527 1056 530 1346 238 1187 406 1159 462 1486 240 1296 157 1552 292 1398 244 1300 299 1087 526 1388 246 1441 301 1357 146 1018 542 1179 282 1490 371 1423 272 1048 539 1070 527 1528 278 1625 341 1623 551 1125 513 1490 357 1303 154 1078 528 1260 172 1078 570 1571 310 1557 444 1493 240 1065 349 1440 299 1296 272 1288 298 1265 313 1631 336 1009 536 1291 279 1381 145 1611 557 1632 612 1426 279 1523 267 1092 520 1541 418 1244 340 1173 286 1200 389 1587 479 1270 305 1302 148 1553 439 1013 536 1327 132 1018 340 1339 240 1032 334 1094 518 1059 342 1236 347 1343 137 1020 330 1512 384 1379 267 1160 500 1561 502 1184 421 1084 526 1519 390 1163 530 1123 336 1189 444 1111 525 1072 347 1324 253 1186 412 1105 505 1504 373 1559 286 1331 245 1274 153 1339 144 1310 151 1630 332 1633 531 1041 571 1452 316 1127 330 1301 125 1500 251 1635 558 1061 534 1569 490 1016 531 1269 306 1065 533 1490 356 1251 338 1540 413 1242 191 1099 340 1073 607 1066 586 1511 389 1165 307 1521 389 1509 262 1120 492 1379 244 1592 486 1258 323 1194 396 1523 401 1633 530 1295 283 1348 247 1023 338 1383 143 1466 326 1421 281 1168 305 1156 564 1144 477 1561 445 1350 131 1142 325 1505 371 1604 510 1438 294 1578 471 1129 334 1467 218 1255 187 1061 530 1082 533 1013 540 1336 144 1595 492 1626 645 1594 488 1359 234 1480 338 1220 221 1020 540 1547 443 1286 281 1136 326 1291 275 1106 502 1510 261 1284 283 1443 298 1246 372 1098 515 1415 168 1023 532 1158 305 1222 370 1158 457 1588 480 1538 418 1550 532 1443 199 1573 302 1296 139 1291 153 1089 528 1315 145 1198 259 1192 399 1174 300 1009 335 1184 423 1537 407 1241 193 1189 258 1156 491 1588 485 1276 302 1110 507 1512 259 1243 202 1441 317 1519 393 1602 327 1599 497 1410 157 1448 180 1205 412 1065 546 1392 258 1246 196 1466 338 1301 264 1274 298 1011 645 1614 518 1121 540 1334 131 1191 261 1419 316 1498 242 1203 390 1580 563 1174 432 1345 140 1276 171 1042 534 1341 138 1016 536 1253 185 1134 325 1611 539 1635 538 1132 329 1480 335 1167 450 1075 349 1638 658 1542 417 1523 270 1137 485 1592 492 1602 521 1302 298 1066 533 1068 608 1376 130 1038 341 1633 339 1409 164 1469 330 1638 534 1485 386 1336 242 1637 294 1161 540 1129 487 1597 498 1575 459 1630 328 1073 590 1595 511 1630 339 1464 222 1270 327 1232 381 1511 413 1115 492 1085 527 1412 260 1303 261 1402 249 1186 416 1163 449 1631 560 1080 526 1440 198 1274 321 1277 311 1082 348 1146 324 1533 414 1462 223 1630 535 1547 288 1227 214 1023 328 1293 281 1602 507 1269 305 1303 264 1585 515 1103 346 1046 334 1122 491 1023 531 1605 509 1027 530 1360 236 1066 534 1016 531 1098 343 1025 532 1469 329 1087 340 1286 280 1616 549 1058 533 1184 416 1253 184 1623 551 1262 177 1288 278 1161 310 1516 258 1137 484 1141 320 1290 284 1210 243 1080 527 1066 531 1094 526 1454 218 1199 259 1472 226 1087 522 1616 516 1063 528 1121 495 1599 496 1440 320 1154 318 1260 176 1120 330 1013 638 1578 465 1258 181 1118 332 1576 461 1010 532 1289 278 1070 347 1053 541 1635 538 1525 403 1186 414 1526 400 1429 301 1099 511 1479 341 1327 146 1602 572 1083 582 1386 236 1251 187 1580 474 1042 330 1165 306 1046 635 1367 135 1203 386 1495 363 1120 493 1469 323 1272 310 1116 336 1063 539 1461 224 1415 268 1471 224 1384 237 1099 510 1507 256 1531 418 1125 514 1099 527 1557 527 1559 477 1312 150 1104 345 1136 486 1607 506 1286 166 1488 347 1042 536 1018 534 1258 180 1638 552 1633 338 1374 145 1065 540 1284 301 1037 339 1396 243 1326 148 1469 211 1175 297 1580 470 1317 264 1628 523 1141 322 1569 489 1193 265 1638 529 1564 302 1246 196 1467 323 1103 508 1063 533 1464 316 1276 299 1345 135 1025 539 1009 567 1182 432 1037 537 1300 145 1191 403 1165 477 1169 442 1030 536 1586 485 1417 268 1134 520 1270 174 1568 459 1525 270 1066 576 1257 328 1123 514 1329 245 1261 323 1091 603 1060 341 1009 531 1113 492 1196 396 1060 552 1284 289 1336 250 1091 530 1144 324 1625 562 1466 218 1455 337 1465 320 1422 177 1599 495 1379 235 1061 536 1476 331 1453 331 1269 310 1111 505 1210 380 1206 247 1604 498 1545 478 1485 342 1350 237 1085 523 1294 271 1120 487 1158 314 1469 218 1606 512 1600 516 1495 376 1238 343 1498 363 1557 295 1633 608 1582 504 1433 288 1143 486 1571 303 1066 531 1182 282 1628 547 1557 442 1569 308 1341 244 1053 336 1341 142 1128 332 1132 324 1071 554 1343 238 1376 250 1134 486 1151 316 1078 529 1408 167 1338 240 1144 477 1246 337 1483 350 1594 492 1173 295 1407 258 1549 428 1633 540 1065 531 1039 563 1478 343 1452 193 1588 321 1530 417 1305 134 1355 144 1493 354 1015 335 1071 630 1298 148 1626 524 1383 236 1127 497 1123 488 1348 127 1075 529 1156 460 1177 293 1540 415 1434 192 1431 286 1227 374 1412 261 1592 323 1305 150 1172 440 1548 261 1514 386 1381 261 1253 343 1576 317 1582 309 1547 423 1053 338 1550 289 1329 136 1423 278 1037 339 1130 495 1548 435 1023 540 1196 394 1490 395 1123 335 1448 198 1082 524 1621 520 1635 528 1277 312 1476 221 1609 332 1359 145 1374 243 1547 427 1072 565 1552 471 1068 715 1049 536 1101 339 1412 268 1336 135 1291 286 1488 389 1607 502 1070 542 1459 312 1286 286 1490 243 1065 555 1134 485 1322 147 1307 308 1032 536 1127 486 1578 464 1372 142 1505 371 1130 491 1011 535 1334 144 1521 272 1073 528 1623 575 1146 320 1324 264 1360 234 1132 321 1371 256 1169 300 1241 351 1433 186 1483 232 1454 329 1566 308 1517 269 1436 185 1070 530 1607 546 1416 313 1616 553 1595 495 1020 536 1574 463 1341 143 1440 200 1020 638 1244 199 1032 340 1336 247 1355 248 1367 145 1289 281 1120 487 1635 336 1071 531 1314 145 1609 523 1624 525 1184 415 1340 240 1205 390 1037 541 1227 367 1559 439 1576 463 1536 411 1039 592 1333 140 1355 233 1582 469 1058 533 1033 331 1637 539 1015 338 1208 389 1460 317 1241 200 1325 250 1163 459 1070 534 1011 322 1137 487 1281 295 1305 260 1225 368 1025 538 1082 528 1457 203 1056 343 1628 594 1077 530 1034 536 1139 328 1312 128 1403 250 1267 165 1011 540 1286 162 1483 342 1271 316 1462 318 1628 528 1340 137 1035 542 1021 534 1576 491 1328 247 1021 336 1267 328 1621 559 1141 489 1459 220 1298 147 1448 308 1476 232 1270 169 1567 474 1412 261 1187 407 1210 379 1084 530 1435 193 1467 326 1248 191 1443 200 1391 239 1531 405 1151 466 1092 521 1606 331 1417 151 1289 279 1400 253 1431 187 1160 483 1588 321 1637 556 1371 241 1454 206 1604 499 1079 330 1523 265 1044 624 1549 293 1609 519 1203 249 1384 264 1512 248 1125 331 1173 299 1222 383 1282 150 1341 246 1491 396 1199 250 1417 266 1428 280 1630 579 1058 577 1319 146 1113 529 1283 289 1276 295 1353 100 1353 232 1208 247 1581 471 1452 215 1431 285 1395 155 1571 456 1614 556 1177 432 1264 177 1348 257 1587 483 1011 534 1426 285 1072 336 1580 476 1092 606 1163 304 1180 247 1089 526 1469 226 1481 338 1554 439 1229 363 1165 468 1016 616 1352 235 1251 328 1599 514 1101 338 1593 492 1255 181 1566 304 1054 536 1084 527 1511 378 1545 289 1423 174 1148 496 1030 530 1281 159 1556 486 1147 477 1085 335 1524 275 1215 216 1274 299 1317 256 1308 144 1267 310 1111 497 1414 150 1313 132 1210 238 1172 442 1082 532 1097 343 1231 355 1284 150 1239 201 1407 261 1118 551 1284 141 1305 128 1479 340 1063 616 1249 339 1025 564 1165 449 1263 179 1173 435 1051 535 1189 411 1201 396 1077 533 1267 328 1445 306 1104 510 1450 212 1626 522 1310 261 1561 294 1056 547 1075 348 1089 525 1215 378 1185 281 1376 247 1089 532 1060 536 1597 313 1580 465 1602 550 1543 424 1325 253 1139 325 1299 275 1583 507 1340 240 1275 294 1295 279 1573 465 1586 319 1281 306 1111 503 1281 169 1364 235 1212 391 1383 235 1125 515 1102 505 1153 466 1343 145 1597 494 1044 327 1504 440 1013 542 1287 165 1626 650 1465 224 1377 243 1429 187 1576 316 1296 279 1255 348 1248 335 1191 402 1633 526 1242 202 1473 230 1326 268 1616 545 1013 561 1251 185 1163 449 1253 184 1639 528 1068 554 1590 484 1272 308 1267 308 1011 536 1211 241 1130 334 1326 254 1124 533 1090 520 1295 273 1473 332 1019 536 1075 568 1175 435 1625 529 1414 150 1015 595 1440 193 1345 240 1025 533 1094 644 1623 519 1519 257 1604 561 1433 286 1153 466 1089 524 1305 260 1628 533 1072 529 1080 556 1429 281 1630 526 1378 237 1305 296 1274 318 1601 509 1464 217 1167 447 1060 600 1104 609 1469 325 1618 521 1280 170 1554 510 1422 275 1619 333 1030 542 1461 325 1567 279 1488 350 1192 272 1555 474 1063 540 1595 300 1282 162 1253 174 1238 201 1559 445 1205 248 1016 533 1302 148 1414 310 1139 325 1493 235 1486 347 1352 260 1583 318 1336 241 1244 197 1025 530 1052 537 1331 136 1298 283 1139 485 1606 503 1027 533 1535 406 1319 251 1632 336 1122 336 1505 258 1566 492 1635 676 1412 168 1239 343 1080 531 1187 280 1502 374 1386 243 1412 163 1229 355 1013 534 1345 244 1348 124 1124 331 1125 493 1155 566 1466 318 1578 465 1014 541 1275 295 1137 325 1593 309 1128 493 1018 534 1357 255 1379 241 1334 244 1048 530 1035 338 1143 483 1381 233 1611 515 1239 203 1473 221 1279 301 1256 345 1417 316 1184 412 1528 399 1303 150 1474 327 1201 253 1065 540 1077 347 1614 557 1009 334 1633 647 1625 525 1098 616 1502 440 1063 344 1128 538 1611 334 1365 236 1111 337 1312 260 1127 330 1094 525 1492 248 1498 399 1191 423 1580 315 1462 330 1234 357 1433 285 1632 529 1573 461 1058 534 1595 489 1557 465 1170 440 1585 476 1220 406 1298 282 1637 537 1085 534 1115 498 1132 487 1105 508 1604 507 1301 262 1016 555 1099 340 1077 349 1032 544 1206 247 1177 294 1414 269 1352 128 1421 176 1089 525 1092 343 1291 295 1092 521 1459 223 1080 527 1488 241 1423 273 1505 399 1549 439 1402 248 1137 483 1630 531 1177 430 1573 460 1023 535 1566 298 1223 382 1018 614 1359 238 1464 319 1137 329 1381 244 1521 269 1275 297 1434 286 1229 366 1163 456 1068 349 1053 338 1013 536 1109 337 1594 505 1476 330 1243 378 1032 330 1286 289 1238 208 1576 463 1270 312 1427 294 1125 487 1450 203 1315 293 1600 504 1244 345 1350 136 1194 437 1493 376 1163 301 1391 238 1376 247 1599 496 1528 401 1294 152 1158 456 1533 477 1187 412 1350 240 1132 327 1364 234 1251 363 1078 531 1553 296 1594 323 1021 321 1351 240 1239 341 1384 149 1101 334 1509 381 1618 531 1201 259 1535 483 1613 546 1022 530 1293 157 1096 344 1488 226 1507 445 1092 344 1324 131 1303 149 1623 530 1592 486 1274 300 1550 432 1530 403 1063 534 1371 234 1514 266 1068 348 1519 402 1058 572 1054 335 1583 475 1295 281 1575 309 1179 288 1628 535 1439 186 1620 520 1234 349 1194 398 1305 312 1121 495 1512 384 1542 442 1049 602 1557 450 1020 630 1218 224 1606 507 1419 173 1071 532 1459 334 1476 233 1428 309 1210 381 1376 242 1042 536 1066 528 1536 263 1599 495 1220 367 1184 282 1161 546 1310 306 1623 523 1618 515 1384 148 1300 287 1312 111 1305 144 1602 501 1410 299 1158 469 1625 522 1122 499 1084 345 1165 301 1210 228 1020 535 1054 336 1378 143 1424 299 1609 591 1350 237 1130 335 1346 235 1602 513 1556 472 1130 328 1296 289 1288 286 1020 564 1635 641 1313 147 1028 534 1172 295 1070 543 1039 539 1193 420 1447 204 1058 344 1528 397 1531 278 1445 203 1189 404 1505 446 1291 141 1118 548 1146 477 1535 405 1137 326 1416 169 1592 487 1099 547 1098 522 1279 307 1403 252 1249 359 1348 134 1529 408 1184 411 1269 170 1374 146 1333 144 1435 292 1398 141 1340 143 1472 331 1557 436 1186 432 1630 339 1158 485 1578 468 1403 268 1245 359 1590 488 1275 168 1556 439 1562 444 1575 466 1134 487 1206 196 1374 144 1578 314 1091 523 1051 536 1618 332 1191 400 1637 531 1405 257 1637 530 1020 331 1433 189 1115 514 1597 328 1609 532 1059 345 1243 197 1049 571 1108 506 1170 438 1571 305 1063 537 1314 261 1367 236 1331 145 1275 298 1234 392 1605 612 1398 128 1226 360 1379 143 1377 237 1173 435 1215 237 1608 503 1160 454 1371 237 1286 286 1075 529 1241 366 1490 243 1578 470 1611 517 1348 245 1355 119 1357 236 1270 163 1118 327 1293 153 1118 339 1170 304 1301 152 1433 186 1476 338 1550 436 1605 326 1103 513 1118 519 1353 234 1184 284 1573 308 1471 327 1167 298 1529 399 1042 530 1626 337 1070 528 1163 449 1113 491 1142 314 1346 258 1018 530 1628 528 1158 480 1408 261 1554 433 1319 264 1101 512 1015 577 1035 534 1089 597 1166 482 1497 368 1595 521 1571 459 1153 551 1300 145 1416 168 1559 518 1493 353 1051 551 1583 303 1612 509 1487 356 1448 341 1576 314 1141 482 1149 320 1075 536 1267 314 1415 304 1352 134 1030 330 1243 339 1197 399 1471 324 1248 195 1096 340 1345 240 1084 528 1267 161 1526 396 1059 536 1021 336 1398 247 1417 168 1272 312 1441 198 1075 548 1120 563 1142 484 1350 137 1237 356 1103 507 1262 156 1118 494 1396 241 1099 342 1163 456 1110 506 1500 396 1044 530 1327 248 1085 523 1514 261 1459 318 1061 540 1094 529 1628 524 1073 554 1461 221 1559 449 1054 341 1607 506 1115 337 1469 320 1433 179 1210 240 1362 234 1142 528 1630 538 1334 140 1533 274 1042 533 1569 305 1127 563 1466 322 1452 339 1531 461 1557 439 1142 483 1191 266 1552 297 1600 504 1595 297 1562 476 1370 135 1414 294 1360 241 1204 392 1595 497 1160 307 1211 240 1144 322 1187 277 1469 204 1134 328 1191 274 1018 530 1635 529 1276 294 1326 131 1467 207 1590 282 1300 269 1075 534 1400 246 1561 445 1037 530 1554 296 1196 393 1125 333 1033 334 1009 541 1014 547 1061 346 1158 456 1630 530 1483 387 1509 252 1393 148 1621 519 1569 457 1464 219 1199 388 1201 246 1524 393 1388 248 1146 478 1414 171 1065 529 1027 338 1485 354 1130 493 1388 143 1118 500 1318 147 1288 157 1161 452 1578 313 1217 371 1130 491 1583 517 1374 239 1561 442 1336 143 1472 223 1135 489 1210 226 1170 450 1025 341 1148 470 1562 517 1063 557 1521 392 1034 535 1481 349 1137 495 1448 315 1396 144 1144 475 1384 237 1134 493 1106 317 1053 322 1016 539 1549 433 1552 432 1571 455 1609 506 1025 530 1303 265 1460 203 1329 262 1203 250 1386 143 1431 292 1333 131 1310 258 1630 525 1581 309 1398 250 1563 445 1059 562 1028 340 1630 531 1362 141 1378 254 1358 144 1360 234 1625 523 1339 140 1460 343 1631 539 1030 341 1243 349 1198 418 1626 560 1307 137 1614 333 1041 334 1519 388 1319 144 1224 382 1386 236 1303 279 1261 180 1579 316 1180 280 1466 213 1198 261 1317 142 1308 308 1059 344 1104 322 1118 494 1277 168 1116 335 1599 514 1321 272 1612 529 1497 241 1063 533 1113 513 1550 430 1087 348 1106 343 1377 232 1154 462 1530 280 1327 251 1345 140 1317 257 1035 325 1519 272 1106 512 1559 441 1400 137 1277 297 1091 344 1118 490 1317 260 1280 289 1222 211 1467 329 1302 149 1072 529 1242 203 1294 279 1624 521 1391 240 1313 147 1077 531 1105 511 1073 565 1594 507 1571 453 1084 526 1087 530 1588 482 1505 376 1294 159 1402 159 1531 273 1085 344 1502 365 1160 306 1212 236 1403 268 1282 164 1305 265 1524 401 1464 317 1623 545 1312 264 1464 321 1350 144 1417 174 1611 507 1597 491 1333 254 1590 505 1101 518 1597 501 1562 306 1224 375 1061 536 1433 288 1083 528 1462 215 1471 230 1554 434 1162 305 1248 394 1621 519 1471 223 1329 247 1308 118 1028 536 1526 260 1075 527 1061 550 1521 405 1124 489 1156 312 1111 337 1412 308 1590 484 1103 510 1030 541 1192 419 1033 530 1198 393 1045 530 1588 489 1343 136 1225 389 1210 383 1457 325 1415 154 1034 581 1208 411 1174 440 1091 521 1207 393 1192 425 1068 535 1272 302 1593 487 1551 432 1099 514 1320 252 1624 610 1061 331 1578 471 1547 440 1046 538 1487 351 1343 241 1238 209 1604 616 1118 338 1144 476 1139 489 1324 140 1277 296 1310 125 1578 315 1360 140 1023 333 1422 305 1462 328 1206 382 1638 590 1027 536 1320 263 1628 531 1013 534 1009 340 1129 488 1191 399 1141 487 1301 123 1260 172 1569 452 1315 274 1455 198 1628 525 1454 190 1488 353 1061 548 1178 430 1322 145 1018 536 1561 444 1462 219 1165 466 1386 120 1250 189 1021 614 1089 522 1464 213 1601 505 1101 346 1132 496 1179 432 1272 175 1250 189 1419 160 1201 390 1287 165 1166 456 1144 497 1108 503 1497 370 1213 222 1296 154 1068 529 1182 431 1472 226 1632 694 1492 227 1552 295 1139 518 1263 314 1457 202 1234 210 1236 349 1191 275 1545 423 1296 267 1217 231 1346 235 1429 288 1087 523 1289 162 1065 540 1345 115 1117 528 1086 536 1308 264 1020 560 1065 530 1409 165 1103 337 1253 325 1524 423 1322 251 1129 332 1130 326 1137 332 1279 297 1122 332 1327 255 1376 142 1118 330 1213 375 1128 492 1464 318 1626 529 1548 432 1362 241 1111 494 1431 293 1445 301 1339 138 1334 252 1094 518 1204 229 1013 531 1159 456 1201 259 1084 347 1471 224 1358 251 1582 312 1315 148 1248 375 1179 423 1234 360 1077 603 1155 462 1436 187 1244 336 1127 495 1543 418 1139 516 1049 530 1258 175 1023 533 1172 299 1087 525 1214 376 1163 460 1343 246 1379 232 1469 229 1274 304 1313 254 1239 207 1187 409 1600 518 1257 184 1168 447 1054 534 1168 477 1189 405 1056 552 1165 532 1264 178 1080 528 1528 404 1153 463 1455 218 1410 294 1113 500 1170 497 1465 319 1056 340 1300 296 1011 538 1409 265 1116 522 1187 277 1447 310 1597 326 1382 143 1124 491 1559 511 1284 297 1284 317 1241 372 1092 522 1438 181 1400 159 1116 505 1453 213 1041 541 1309 268 1628 527 1490 239 1198 401 1378 140 1090 520 1027 531 1526 272 1239 349 1092 521 1462 222 1460 315 1108 504 1168 443 1433 190 1163 549 1122 491 1149 554 1379 234 1338 135 1277 297 1021 536 1633 526 1284 160 1326 146 1130 486 1094 346 1206 435 1484 353 1405 258 1625 524 1404 254 1291 153 1626 531 1295 270 1177 429 1588 487 1602 328 1286 304 1170 457 1592 319 1635 538 1300 153 1601 497 1284 292 1222 213 1507 252 1153 317 1415 268 1583 321 1191 407 1120 493 1040 331 1067 533 1607 329 1393 132 1026 530 1227 220 1628 527 1013 541 1402 258 1177 433 1140 526 1533 458 1016 571 1180 291 1018 635 1227 376 1116 499 1528 273 1443 306 1016 602 1101 340 1383 145 1225 363 1452 315 1080 527 1374 236 1225 362 1082 526 1298 283 1137 328 1087 523 1141 506 1090 520 1225 374 1344 125 1339 243 1573 463 1102 346 1125 495 1614 585 1177 292 1242 200 1185 281 1393 245 1294 271 1136 490 1020 534 1459 202 1630 583 1217 380 1440 191 1134 488 1203 251 1402 145 1471 206 1255 322 1009 598 1174 295 1305 150 1599 493 1127 551 1279 294 1087 658 1058 534 1265 157 1638 318 1025 341 1632 531 1293 302 1170 297 1397 149 1093 521 1594 494 1070 535 1099 510 1220 215 1321 146 1345 144 1320 253 1225 214 1061 529 1447 304 1462 219 1148 316 1101 507 1592 318 1381 140 1283 299 1604 506 1179 426 1200 251 1187 412 1322 141 1167 447 1353 239 1552 503 1108 508 1474 226 1621 518 1035 559 1530 408 1288 164 1554 298 1493 248 1331 252 1509 443 1200 391 1411 264 1288 284 1619 550 1096 605 1315 254 1592 485 1483 362 1182 421 1279 294 1115 495 1166 302 1208 192 1395 246 1468 326 1434 306 1139 482 1293 276 1182 432 1262 318 1587 286 1182 423 1179 432 1116 336 1607 512 1576 466 1636 538 1563 501 1514 388 1307 297 1314 286 1255 325 1423 273 1441 296 1172 435 1434 186 1478 220 1419 287 1569 518 1590 322 1308 294 1529 273 1509 375 1163 305 1116 494 1187 407 1058 533 1519 270 1217 229 1113 338 1352 139 1462 326 1070 528 1628 534 1302 270 1213 237 1155 464 1595 491 1210 186 1241 197 1180 422 1020 531 1574 459 1072 338 1071 552 1580 474 1268 312 1168 461 1118 490 1276 169 1592 490 1120 326 1555 299 1524 394 1144 484 1611 537 1184 430 1350 274 1136 490 1350 113 1561 531 1607 608 1310 141 1560 449 1628 651 1490 353 1310 258 1182 252 1175 433 1436 291 1135 323 1409 257 1381 239 1540 412 1015 338 1525 270 1540 416 1538 418 1466 222 1442 200 1502 250 1492 359 1409 287 1327 144 1156 459 1212 240 1632 571 1111 494 1381 142 1547 423 1191 406 1021 336 1073 526 1122 488 1396 151 1633 620 1632 532 1519 394 1599 503 1196 259 1540 422 1294 288 1385 141 1296 154 1200 397 1284 161 1531 437 1464 316 1258 183 1063 537 1039 535 1179 430 1308 266 1419 273 1015 579 1321 137 1305 123 1626 533 1612 329 1536 429 1210 235 1077 537 1306 147 1155 461 1542 426 1258 320 1189 402 1447 309 1056 333 1106 319 1296 275 1552 293 1346 134 1636 536 1077 342 1182 288 1104 338 1486 221 1175 282 1222 219 1255 322 1121 520 1279 140 1293 272 1625 544 1424 276 1185 273 1426 181 1543 429 1286 281 1239 196 1077 529 1213 233 1210 388 1626 525 1270 309 1298 144 1270 318 1602 506 1628 554 1588 489 1253 328 1127 499 1141 330 1597 510 1211 215 1363 242 1224 218 1172 288 1609 541 1407 276 1336 242 1611 508 1345 238 1175 488 1393 242 1009 534 1329 247 1343 145 1056 530 1277 297 1571 456 1293 280 1303 136 1303 277 1037 537 1201 389 1070 344 1638 574 1372 240 1099 515 1300 281 1303 296 1106 529 1011 532 1583 472 1175 440 1056 547 1167 490 1360 242 1194 412 1051 336 1135 489 1130 505 1559 443 1478 235 1367 142 1395 155 1376 146 1614 522 1421 277 1139 325 1474 225 1284 164 1424 299 1253 332 1550 429 1058 537 1305 267 1348 239 1104 512 1384 234 1303 148 1460 214 1028 537 1056 539 1115 493 1068 349 1293 159 1478 233 1503 366 1229 217 1476 231 1283 292 1189 264 1307 149 1582 478 1066 531 1621 537 1616 515 1263 322 1296 272 1143 481 1327 287 1479 218 1497 240 1260 179 1412 308 1379 232 1132 487 1305 268 1098 519 1189 407 1303 150 1184 280 1139 485 1433 288 1564 453 1507 252 1117 506 1142 487 1070 635 1528 276 1435 186 1626 532 1488 348 1621 524 1308 303 1611 507 1293 156 1080 534 1556 480 1374 235 1023 534 1281 289 1078 549 1313 281 1139 483 1519 260 1509 386 1053 341 1474 373 1457 212 1035 336 1312 263 1395 152 1125 488 1426 316 1543 449 1331 278 1054 329 1633 526 1188 405 1448 333 1548 291 1630 337 1319 145 1049 336 1294 155 1080 526 1512 386 1262 176 1174 439 1109 501 1479 233 1601 545 1521 270 1308 148 1495 366 1276 315 1468 320 1021 540 1623 533 1101 508 1237 175 1272 303 1313 145 1606 330 1322 250 1089 522 1274 301 1204 385 1481 236 1010 530 1146 491 1533 403 1016 337 1346 142 1111 342 1464 220 1495 361 1618 515 1471 227 1055 536 1220 371 1188 408 1500 439 1319 255 1229 355 1023 529 1433 189 1457 324 1630 529 1061 529 1552 430 1485 342 1447 208 1348 262 1165 452 1086 526 1305 150 1352 140 1051 327 1350 235 1279 169 1170 439 1393 151 1555 435 1087 527 1416 268 1445 317 1604 526 1414 273 1068 529 1590 492 1054 533 1286 138 1625 525 1281 294 1134 323 1434 289 1514 382" fill="none" stroke="none" marker-start="url(#mcb)" marker-mid="url(#mcb)" marker-end="url(#mcb)"/>
<path d="M1630 534 1391 146 1457 313 1440 293 1490 353 1392 153 1277 292 1519 271 1158 457 1457 317 1248 193 1431 189 1613 517 1039 555 1039 573 1260 341 1149 319 1353 137 1165 453 1483 229 1051 341 1111 494 1148 471 1502 375 1373 240 1244 335 1393 265 1218 224 1034 337 1181 257 1455 216 1604 321 1500 239 1560 441 1604 328 1009 530 1593 325 1104 344 1044 598 1025 341 1389 237 1120 492 1070 532 1571 458 1277 150 1151 470 1265 311 1320 147 1187 412 1393 244 1154 311 1314 147 1253 188 1106 339 1448 209 1468 218 1087 546 1575 311 1257 172 1201 247 1372 131 1594 321 1048 535 1469 370 1360 245 1547 423 1504 382 1573 460 1173 293 1405 252 1087 542 1587 483 1118 331 1383 149 1147 478 1365 141 1595 495 1120 492 1378 146 1402 150 1521 390 1073 536 1488 356 1602 497 1497 402 1509 374 1576 464 1569 515 1443 297 1446 205 1163 303 1604 502 1428 180 1631 540 1111 498 1170 303 1312 139 1403 254 1545 420 1056 534 1179 427 1533 282 1369 126 1053 538 1134 486 1210 385 1106 550 1018 577 1457 317 1431 282 1262 158 1034 333 1206 227 1479 217 1082 344 1277 171 1180 286 1352 248 1263 312 1452 314 1205 387 1279 164 1617 523 1148 533 1103 339 1430 289 1063 537 1540 283 1014 333 1196 411 1201 387 1042 339 1407 141 1503 367 1136 333 1289 158 1300 120 1398 244 1379 256 1286 149 1379 142 1582 475 1123 329 1533 282 1391 248 1607 503 1637 552 1533 418 1196 394 1607 504 1459 218 1066 584 1467 366 1587 480 1606 509 1338 240 1374 143 1023 540 1478 234 1294 135 1041 539 1341 129 1125 292 1288 296 1613 325 1282 151 1317 252 1219 211 1588 482 1575 301 1599 329 1314 149 1556 285 1125 332 1072 533 1431 187 1401 249 1407 138 1383 149 1367 141 1258 337 1288 149 1357 142 1438 195 1084 348 1199 262 1045 535 1518 410 1618 325 1326 139 1244 342 1424 277 1543 288 1479 215 1079 527 1616 517 1307 147 1440 190 1272 167 1118 337 1248 181 1296 155 1250 188 1315 257 1198 394 1120 336 1267 310 1059 538 1339 146 1102 507 1388 151 1536 431 1080 525 1573 309 1027 530 1419 279 1092 522 1573 311 1257 365 1507 379 1396 249 1125 497 1282 163 1125 487 1047 333 1573 490 1298 270 1106 510 1397 153 1600 496 1011 533 1386 234 1313 147 1586 283 1499 360 1293 130 1030 531 1364 242 1227 212 1163 451 1571 463 1347 142 1450 200 1326 135 1562 445 1284 164 1506 374 1426 283 1294 151 1468 334 1220 217 1205 449 1405 158 1623 526 1545 429 1457 209 1638 614 1554 433 1638 567 1604 498 1535 411 1566 449 1619 521 1616 512 1265 144 1291 155 1553 299 1104 541 1314 148 1632 578 1557 283 1612 330 1238 348 1588 308 1158 305 1443 189 1369 237 1257 183 1505 369 1042 339 1578 307 1579 288 1385 269 1312 259 1185 276 1011 542 1148 322 1218 231 1189 279 1134 509 1246 338 1340 249 1557 441 1611 549 1462 217 1606 326 1528 280 1094 524 1373 232 1602 503 1542 282 1338 252 1087 525 1564 447 1583 320 1561 299 1350 146 1089 341 1505 372 1485 343 1132 320 1032 589 1054 338 1104 513 1504 376 1049 539 1583 475 1313 143 1091 525 1018 531 1117 489 1016 533 1049 341 1405 254 1260 180 1602 524 1284 152 1276 295 1334 243 1632 537 1097 513 1476 229 1569 457 1343 140 1270 170 1337 145 1621 538 1066 534 1172 293 1510 229 1219 371 1455 214 1239 341 1058 532 1203 240 1562 292 1471 329 1291 283 1393 265 1566 307 1263 313 1473 330 1507 374 1570 303 1094 346 1277 170 1020 539 1246 343 1020 542 1351 237 1328 140 1341 143 1607 295 1396 131 1319 143 1046 539 1609 507 1130 490 1542 418 1120 330 1308 152 1223 362 1234 206 1343 143 1286 134 1493 359 1319 146 1238 194 1231 216 1400 260 1312 148 1029 535 1264 323 1360 139 1027 530 1462 318 1118 501 1220 226 1614 516 1058 536 1606 323 1255 331 1590 483 1538 268 1136 326 1027 339 1009 338 1137 332 1098 512 1282 129 1374 241 1078 342 1039 536 1277 295 1156 312 1097 345 1369 143 1103 325 1619 523 1179 290 1144 324 1234 350 1502 364 1447 207 1087 338 1265 177 1129 487 1222 367 1395 259 1533 281 1172 461 1455 205 1267 173 1068 343 1479 339 1376 137 1194 409 1044 329 1094 519 1519 394 1388 144 1094 517 1343 139 1632 535 1571 457 1543 431 1336 146 1351 276 1161 454 1497 250 1411 266 1227 216 1420 269 1542 415 1016 324 1362 232 1241 202 1633 555 1284 140 1113 499 1348 137 1061 586 1626 339 1371 253 1136 319 1253 328 1061 534 1412 279 1275 152 1030 553 1607 537 1598 327 1571 459 1595 491 1035 340 1305 142 1142 484 1178 424 1120 492 1521 397 1082 535 1594 490 1063 548 1314 140 1161 471 1077 602 1166 304 1514 256 1132 493 1554 297 1127 501 1287 319 1498 253 1291 275 1319 146 1237 206 1467 328 1630 550 1184 279 1229 210 1189 400 1379 134 1359 233 1416 274 1502 237 1477 222 1189 276 1047 531 1319 138 1293 306 1049 327 1628 330 1113 340 1047 565 1367 112 1621 573 1321 125 1315 264 1343 126 1607 553 1286 153 1376 141 1324 140 1077 535 1372 143 1276 151 1275 161 1220 366 1606 328 1378 244 1516 387 1082 525 1253 327 1561 442 1243 202 1269 162 1156 463 1370 241 1332 143 1485 384 1264 341 1258 321 1386 255 1393 150 1020 326 1170 288 1436 289 1353 245 1597 494 1032 533 1096 516 1327 254 1530 277 1623 537 1343 128 1369 256 1469 338 1160 456 1284 159 1367 235 1286 133 1071 530 1623 331 1341 138 1134 499 1535 265 1379 242 1148 323 1136 490 1514 380 1052 315 1027 539 1483 230 1175 294 1144 308 1367 126 1058 343 1018 540 1476 234 1163 452 1612 332 1353 249 1488 346 1162 457 1374 146 1040 331 1014 533 1635 338 1264 174 1321 144 1377 146 1412 264 1369 250 1488 348 1194 264 1258 182 1279 291 1338 143 1015 337 1027 340 1091 523 1191 407 1557 442 1308 152 1128 329 1389 252 1390 119 1370 137 1633 313 1294 152 1267 175 1032 539 1621 526 1189 405 1423 180 1561 304 1032 535 1557 256 1241 201 1089 345 1123 322 1227 219 1326 145 1262 178 1329 135 1364 140 1091 524 1179 425 1115 490 1628 609 1262 179 1597 317 1454 213 1274 174 1619 525 1121 338 1293 158 1054 333 1633 338 1110 502 1262 352 1015 339 1426 181 1600 327 1096 520 1331 146 1222 225 1117 330 1564 457 1047 535 1443 196 1352 142 1103 516 1025 533 1322 146 1464 318 1085 338 1120 489 1528 272 1471 222 1567 309 1212 384 1502 250 1476 233 1612 514 1602 534 1051 538 1063 342 1032 336 1403 256 1099 513 1198 440 1498 364 1426 276 1224 221 1359 139 1016 549 1044 546 1051 339 1250 331 1198 394 1146 542 1549 432 1208 389 1567 310 1300 264 1543 460 1023 337 1099 519 1597 490 1333 145 1103 511 1372 238 1327 260 1210 388 1150 500 1129 494 1371 239 1096 523 1575 312 1087 563 1568 448 1540 420 1535 437 1029 533 1130 335 1355 238 1077 534 1177 293 1296 269 1243 337 1459 221 1047 554 1284 156 1295 152 1357 141 1619 562 1027 562 1371 239 1258 165 1263 176 1474 329 1519 385 1131 324 1621 330 1283 169 1271 309 1581 317 1339 145 1030 542 1129 333 1204 243 1160 455 1533 411 1503 251 1557 279 1205 402 1376 243 1559 454 1583 493 1410 258 1032 537 1507 251 1234 354 1320 149 1137 324 1303 283 1132 328 1023 538 1318 252 1473 343 1479 343 1042 539 1298 278 1191 266 1232 213 1531 266 1331 125 1507 378 1618 513 1153 465 1381 145 1602 505 1053 537 1041 532 1286 283 1353 141 1293 282 1243 198 1327 123 1258 321 1536 413 1412 269 1500 391 1414 171 1206 385 1597 492 1638 547 1196 261 1580 470 1635 339 1293 147 1589 325 1377 134 1633 548 1411 275 1360 243 1047 540 1289 161 1179 283 1386 145 1338 133 1129 488 1422 276 1213 236 1051 538 1096 333 1455 311 1098 517 1009 541 1150 480 1213 375 1505 246 1635 528 1082 603 1099 331 1013 340 1310 149 1417 270 1225 216 1318 133 1011 532 1390 139 1388 239 1182 417 1621 337 1517 386 1149 321 1554 436 1545 436 1524 401 1633 548 1075 535 1063 539 1341 238 1025 337 1037 342 1139 489 1224 222 1200 254 1058 531 1132 494 1250 192 1046 531 1317 258 1144 324 1521 415 1623 338 1156 460 1593 491 1298 147 1492 358 1124 327 1162 309 1336 249 1027 340 1390 252 1635 540 1137 321 1455 315 1396 251 1054 530 1628 339 1557 294 1566 447 1039 340 1217 226 1341 139 1150 322 1624 625 1626 532 1175 294 1560 304 1105 580 1431 282 1327 142 1590 485 1336 249 1376 234 1590 482 1595 581 1621 528 1600 321 1155 312 1189 411 1580 471 1407 260 1106 503 1101 592 1253 188 1548 446 1289 125 1253 344 1395 145 1091 342 1518 390 1359 136 1559 294 1517 387 1191 276 1181 287 1153 467 1141 310 1248 193 1301 150 1588 575 1357 235 1137 313 1505 255 1600 323 1134 318 1635 624 1326 250 1080 525 1478 333 1580 310 1149 484 1312 151 1139 328 1305 280 1521 388 1364 117 1196 394 1599 321 1317 147 1424 174 1070 347 1235 209 1517 269 1334 138 1040 602 1139 306 1431 187 1466 341 1085 344 1049 534 1333 243 1524 276 1175 286 1199 389 1078 530 1122 332 1054 540 1604 331 1222 225 1585 282 1385 270 1151 474 1018 333 1452 205 1056 531 1409 274 1364 233 1388 248 1541 285 1481 236 1630 323 1471 322 1631 526 1206 416 1025 530 1047 324 1457 313 1203 454 1248 191 1381 274 1341 238 1481 355 1621 335 1245 194 1060 549 1101 513 1582 318 1403 161 1082 528 1382 148 1151 314 1347 145 1346 137 1352 145 1231 191 1576 298 1075 349 1265 319 1571 311 1268 149 1507 379 1430 284 1628 526 1066 528 1421 177 1370 235 1061 532 1274 173 1139 324 1141 490 1281 164 1617 311 1365 236 1265 167 1156 311 1511 380 1497 367 1265 172 1542 432 1174 448 1331 127 1289 287 1597 502 1009 532 1547 423 1471 373 1471 332 1179 281 1139 325 1220 229 1583 286 1087 328 1523 264 1474 332 1457 211 1120 338 1547 423 1182 245 1312 151 1421 275 1329 142 1286 301 1609 535 1541 417 1147 320 1018 333 1260 178 1194 394 1082 525 1096 525 1466 350 1536 286 1205 395 1179 428 1264 323 1094 518 1137 487 1084 530 1146 479 1336 146 1014 535 1082 525 1336 144 1334 243 1122 336 1483 344 1065 529 1538 427 1628 529 1391 240 1398 155 1592 515 1547 425 1094 347 1338 244 1281 168 1027 538 1037 541 1362 139 1409 276 1588 481 1049 540 1620 320 1338 133 1417 281 1118 496 1618 330 1124 333 1331 244 1505 240 1021 535 1350 142 1261 322 1218 221 1620 524 1071 541 1284 288 1203 254 1528 417 1089 523 1352 140 1322 285 1220 226 1473 347 1326 92 1051 310 1601 496 1576 303 1040 333 1049 534 1625 532 1455 335 1315 139 1089 526 1269 310 1509 379 1554 299 1505 376 1609 331 1556 439 1614 623 1460 223 1066 349 1374 247 1049 536 1564 306 1639 327 1052 340 1319 80 1386 243 1376 145 1623 522 1598 492 1201 459 1256 176 1543 418 1485 241 1360 142 1633 340 1192 397 1084 584 1020 546 1567 448 1277 165 1039 321 1193 399 1136 324 1371 145 1353 236 1552 432 1388 236 1395 101 1614 510 1039 330 1280 164 1459 315 1128 333 1431 292 1144 319 1329 139 1461 222 1175 268 1106 501 1198 396 1364 241 1509 234 1137 324 1156 463 1623 338 1158 466 1310 144 1324 106 1160 463 1597 328 1590 316 1322 107 1393 153 1483 345 1136 321 1324 82 1391 240 1393 245 1571 460 1594 489 1218 231 1125 329 1376 239 1168 303 1381 238 1345 122 1154 463 1046 335 1061 540 1306 261 1177 429 1099 520 1196 399 1260 170 1143 482 1365 142 1086 347 1270 167 1172 289 1042 551 1383 148 1626 341 1499 370 1263 157 1049 341 1054 536 1614 334 1367 234 1614 333 1364 133 1495 380 1016 340 1065 538 1602 325 1383 235 1381 240 1616 578 1217 380 1636 587 1303 265 1116 491 1196 267 1339 130 1409 143 1355 138 1049 340 1317 125 1168 511 1507 249 1541 430 1300 155 1438 293 1039 531 1268 167 1348 141 1625 560 1549 286 1174 290 1624 333 1485 242 1041 333 1264 137 1269 174 1179 281 1422 178 1230 216 1070 531 1046 531 1175 456 1531 405 1215 235 1196 393 1606 564 1054 530 1383 147 1566 446 1419 173 1530 273 1618 337 1187 408 1117 523 1483 387 1101 508 1047 332 1248 332 1521 394 1630 320 1134 319 1381 236 1473 225 1573 292 1402 249 1101 346 1408 166 1393 145 1028 533 1015 339 1205 251 1595 515 1483 339 1343 239 1215 376 1130 319 1353 257 1015 531 1227 217 1030 337 1073 528 1628 526 1198 260 1054 341 1599 493 1101 313 1314 149 1543 284 1585 494 1633 525 1597 494 1042 326 1288 160 1490 361 1167 306 1396 155 1056 533 1077 526 1450 209 1192 263 1341 134 1528 276 1080 525 1189 437 1388 267 1106 505 1543 441 1571 308 1319 257 1244 180 1473 330 1313 114 1523 420 1466 319 1092 519 1134 333 1628 524 1030 532 1386 140 1154 307 1132 487 1134 332 1504 232 1042 652 1032 536 1072 529 1233 214 1068 539 1042 540 1015 538 1372 238 1467 319 1340 146 1460 318 1564 307 1127 327 1132 491 1255 186 1355 240 1631 326 1186 412 1573 315 1070 563 1352 239 1037 545 1445 183 1218 371 1298 266 1101 345 1341 241 1179 426 1116 490 1177 294 1626 335 1144 322 1051 340 1626 593 1557 439 1573 309 1277 163 1414 163 1011 534 1502 377 1110 507 1287 295 1398 250 1275 163 1414 273 1383 260 1239 203 1540 288 1512 383 1191 275 1535 416 1293 158 1269 147 1438 188 1302 151 1474 331 1611 519 1436 188 1494 365 1619 542 1613 516 1526 398 1366 138 1282 161 1371 241 1566 449 1108 506 1348 242 1621 542 1222 368 1097 560 1135 489 1436 289 1398 243 1500 365 1428 175 1009 613 1106 548 1502 252 1481 234 1353 251 1092 531 1027 602 1407 164 1296 299 1151 315 1072 543 1388 255 1405 154 1258 182 1516 263 1384 244 1032 336 1018 340 1533 278 1410 264 1559 261 1194 400 1109 505 1108 499 1372 141 1191 267 1512 254 1180 291 1129 332 1346 142 1571 459 1319 149 1083 344 1103 553 1599 496 1048 335 1369 238 1178 293 1194 265 1279 169 1530 398 1127 490 1338 143 1369 126 1509 373 1028 539 1355 240 1158 459 1486 242 1241 341 1635 563 1277 293 1246 332 1063 537 1246 187 1137 326 1039 546 1633 341 1464 333 1283 161 1084 531 1613 328 1395 249 1101 514 1134 493 1393 241 1049 539 1204 387 1196 398 1574 307 1289 160 1424 165 1245 183 1545 420 1339 146 1616 512 1286 283 1372 233 1329 142 1559 440 1547 456 1364 136 1212 239 1222 227 1042 339 1025 530 1052 530 1080 344 1255 178 1433 184 1294 152 1094 523 1403 255 1061 530 1054 530 1023 537 1163 311 1097 523 1445 200 1130 332 1344 242 1284 138 1258 182 1182 415 1350 239 1288 152 1026 530 1229 355 1396 255 1331 135 1182 282 1199 257 1061 532 1063 531 1415 264 1400 157 1125 495 1129 542 1075 529 1137 487 1638 528 1545 286 1540 286 1446 302 1604 326 1438 296 1065 344 1197 390 1424 280 1542 288 1046 595 1604 524 1265 170 1212 239 1248 332 1419 274 1078 532 1229 219 1339 253 1514 381 1125 330 1037 534 1393 147 1628 523 1305 264 1244 188 1186 282 1631 538 1568 307 1545 290 1454 321 1289 158 1436 186 1168 447 1098 329 1109 500 1099 510 1556 434 1374 237 1267 174 1134 508 1376 146 1305 260 1592 324 1296 267 1324 140 1193 273 1144 497 1597 491 1628 340 1271 174 1021 535 1637 585 1187 280 1510 387 1089 525 1207 249 1571 309 1633 568 1542 288 1355 145 1295 289 1537 414 1068 529 1038 342 1530 277 1523 269 1306 138 1256 320 1118 489 1237 350 1388 245 1459 319 1556 435 1583 316 1576 314 1246 335 1040 339 1630 534 1068 534 1260 322 1604 322 1468 330 1605 503 1609 535 1011 534 1471 326 1381 240 1235 349 1115 339 1497 237 1317 257 1151 471 1499 365 1512 263 1312 131 1530 401 1514 384 1020 529 1232 206 1374 245 1429 179 1255 182 1602 498 1194 261 1638 537 1060 531 1407 270 1101 519 1485 348 1376 234 1288 157 1307 268 1009 333 1246 197 1113 496 1320 148 1042 533 1388 141 1631 531 1507 254 1156 317 1289 276 1287 158 1345 135 1118 330 1569 458 1201 389 1251 327 1567 450 1267 176 1058 531 1146 326 1637 334 1597 496 1319 140 1604 322 1255 184 1625 553 1578 472 1097 514 1427 287 1103 517 1617 523 1277 154 1381 148 1063 536 1619 328 1099 331 1405 158 1283 302 1113 498 1206 388 1633 536 1021 554 1042 534 1276 164 1593 551 1170 440 1561 452 1384 122 1547 291 1626 524 1092 526 1187 410 1032 531 1132 323 1583 510 1390 145 1274 173 1156 309 1611 546 1618 516 1575 458 1281 169 1080 526 1594 608 1381 142 1555 298 1051 339 1407 271 1058 529 1051 538 1241 339 1199 398 1191 270 1070 529 1428 280 1270 315 1289 162 1090 529 1013 531 1239 206 1372 234 1576 460 1220 369 1051 581 1046 565 1300 155 1035 537 1398 139 1089 522 1436 295 1167 445 1350 241 1500 250 1351 233 1363 236 1388 143 1386 252 1497 244 1410 276 1388 137 1312 150 1324 108 1250 329 1156 466 1365 138 1293 154 1585 477 1047 537 1104 535 1386 240 1574 460 1281 290 1621 528 1395 250 1172 436 1573 460 1614 546 1528 275 1405 260 1110 497 1526 397 1284 305 1550 430 1068 561 1528 265 1408 279 1440 187 1269 310 1414 272 1257 183 1163 502 1263 178 1170 456 1395 242 1613 516 1554 440 1248 331 1490 356 1334 139 1146 476 1289 158 1535 406 1402 157 1420 171 1569 451 1612 580 1156 467 1571 292 1422 164 1042 338 1260 172 1281 168 1175 293 1573 458 1239 189 1291 161 1426 173 1467 319 1378 238 1625 341 1039 339 1132 561 1194 269 1343 243 1400 249 1502 365 1281 125 1130 323 1351 138 1067 337 1016 534 1552 295 1324 134 1478 342 1555 298 1030 530 1051 336 1517 385 1530 272 1161 311 1483 240 1289 163 1639 337 1122 488 1635 332 1029 331 1347 249 1097 543 1370 137 1590 543 1405 162 1338 128 1101 337 1173 288 1033 333 1028 327 1630 340 1102 507 1312 146 1124 491 1413 262 1047 533 1409 163 1146 323 1604 330 1500 362 1528 274 1234 214 1246 179 1336 242 1504 373 1389 246 1296 276 1526 259 1033 340 1141 484 1135 485 1315 142 1300 157 1067 346 1405 160 1346 135 1059 532 1457 214 1090 521 1135 326 1122 490 1294 270 1609 509 1476 330 1500 369 1135 487 1635 529 1557 453 1389 144 1439 190 1632 526 1218 231 1628 533 1505 370 1481 232 1478 233 1509 257 1487 367 1595 319 1608 505 1111 495 1255 358 1053 339 1433 284 1386 131 1419 171 1600 503 1635 544 1548 289 1454 214 1454 318 1046 327 1048 530 1231 367 1204 245 1070 539 1374 145 1065 539 1555 435 1137 492 1236 210 1023 537 1262 322 1336 245 1260 181 1160 305 1225 208 1518 265 1582 468 1378 144 1630 612 1371 135 1158 460 1143 479 1312 138 1165 529 1350 273 1056 534 1150 477 1627 557 1594 489 1184 275 1013 339 1282 168 1350 234 1191 403 1123 336 1206 383 1362 235 1462 323 1573 293 1227 214 1203 396 1464 219 1108 513 1049 550 1180 422 1545 447 1381 238 1571 466 1381 240 1590 487 1465 316 1578 314 1061 531 1378 140 1618 523 1397 151 1574 458 1417 173 1023 341 1046 531 1198 263 1630 528 1538 414 1302 263 1154 461 1296 155 1441 201 1104 343 1322 148 1341 141 1502 381 1509 374 1637 336 1051 339 1127 497 1037 338 1611 547 1393 96 1569 451 1590 314 1367 134 1087 341 1194 413 1530 269 1429 282 1395 149 1362 120 1236 201 1635 593 1192 402 1045 333 1589 302 1351 240 1217 227 1067 528 1084 564 1279 156 1633 571 1423 274 1512 382 1580 466 1206 385 1153 308 1153 464 1426 279 1075 529 1170 440 1289 278 1196 392 1597 494 1555 436 1575 306 1350 140 1355 139 1533 406 1130 489 1033 531 1049 334 1299 272 1504 369 1338 145 1338 147 1291 148 1168 305 1582 308 1391 146 1592 485 1027 335 1441 298 1099 560 1108 504 1222 226 1314 256 1051 533 1208 382 1348 146 1051 342 1415 167 1193 262 1155 461 1601 500 1493 249 1174 434 1544 421 1400 156 1516 383 1270 169 1317 90 1308 140 1156 462 1471 229 1436 296 1049 537 1389 240 1262 174 1367 142 1336 143 1318 148 1637 535 1150 478 1481 355 1414 299 1153 463 1424 181 1592 593 1350 258 1607 504 1030 336 1144 484 1155 313 1578 313 1357 138 1243 195 1046 341 1419 171 1516 256 1294 139 1124 498 1608 504 1538 417 1613 513 1390 244 1060 530 1404 253 1381 146 1391 242 1239 199 1080 663 1585 474 1490 357 1616 649 1628 526 1125 333 1125 492 1279 140 1604 331 1378 239 1063 529 1104 518 1182 283 1415 286 1328 145 1639 641 1357 127 1616 514 1347 142 1028 541 1618 560 1167 297 1089 521 1205 249 1469 322 1322 140 1531 409 1061 529 1110 342 1155 461 1270 167 1362 137 1084 347 1264 177 1089 531 1310 270 1381 233 1372 141 1618 515 1264 177 1636 618 1141 506 1585 497 1396 242 1044 532 1167 518 1412 261 1320 266 1587 483 1255 177 1096 606 1284 161 1431 284 1461 314 1388 137 1313 258 1348 256 1592 485 1208 409 1365 235 1428 296 1625 520 1471 222 1203 417 1262 167 1544 418 1317 126 1620 325 1616 523 1452 308 1328 144 1434 187 1619 548 1139 487 1609 507 1609 513 1324 270 1201 431 1480 335 1075 529 1063 531 1203 254 1035 341 1120 332 1149 318 1566 489 1381 138 1267 163 1015 557 1315 101 1440 191 1481 229 1182 284 1327 127 1623 538 1251 161 1336 146 1433 182 1026 569 1345 135 1210 379 1260 158 1585 316 1447 191 1587 476 1047 338 1052 534 1282 299 1574 459 1052 539 1090 526 1481 342 1111 498 1033 595 1084 337 1092 521 1561 298 1286 157 1436 288 1177 293 1631 323 1540 444 1142 320 1092 538 1538 430 1621 520 1554 440 1630 529 1405 164 1200 410 1379 122 1450 199 1403 153 1192 408 1376 235 1127 499 1180 278 1623 540 1102 321 1547 282 1417 275 1125 487 1346 141 1639 537 1286 161 1512 390 1457 322 1578 311 1376 241 1265 178 1423 278 1268 156 1373 238 1139 501 1315 256 1364 120 1052 535 1635 553 1499 245 1457 312 1132 334 1267 156 1134 312 1217 232 1599 494 1384 149 1108 507 1526 278 1130 579 1543 267 1469 324 1419 166 1040 552 1289 315 1073 538 1196 260 1519 393 1325 98 1310 143 1318 252 1383 253 1469 344 1511 382 1386 148 1135 497 1412 268 1639 339 1184 413 1028 538 1592 323 1614 511 1287 132 1289 152 1585 305 1009 340 1611 520 1568 505 1257 179 1426 290 1102 547 1398 150 1545 281 1636 339 1538 414 1267 309 1106 510 1574 465 1597 495 1021 336 1201 395 1063 530 1459 206 1383 272 1113 332 1616 330 1379 146 1260 315 1363 246 1317 256 1465 320 1559 294 1267 159 1039 339 1419 170 1533 283 1350 233 1172 435 1225 220 1322 146 1523 270 1044 334 1137 493 1298 155 1543 417 1065 550 1236 212 1630 532 1044 537 1030 331 1374 117 1317 252 1559 443 1155 460 1559 440 1383 144 1434 181 1488 352 1149 479 1265 318 1464 321 1590 301 1177 263 1141 330 1402 263 1034 534 1528 272 1260 320 1109 343 1617 335 1597 499 1127 488 1250 338 1409 259 1605 509 1613 539 1618 655 1085 524 1473 216 1108 510 1030 540 1048 602 1580 315 1571 454 1623 534 1519 393 1104 512 1448 205 1185 408 1129 333 1561 446 1286 154 1063 571 1262 330 1604 505 1243 194 1441 307 1555 299 1044 532 1550 438 1602 498 1623 569 1588 482 1293 99 1123 498 1193 396 1224 221 1132 329 1464 325 1044 341 1153 318 1291 314 1320 249 1343 245 1585 477 1353 144 1284 290 1319 147 1115 333 1358 244 1291 279 1398 157 1098 340 1155 480 1379 248 1481 338 1464 320 1381 137 1180 423 1329 118 1265 171 1303 151 1536 408 1636 644 1623 522 1288 161 1078 529 1053 331 1383 123 1329 256 1303 273 1049 570 1576 460 1369 142 1121 325 1280 131 1303 154 1486 348 1163 306 1085 338 1079 637 1333 120 1606 512 1139 304 1033 530 1628 330 1272 171 1327 145 1509 374 1125 493 1051 564 1189 267 1616 332 1068 529 1631 527 1182 284 1327 146 1194 409 1186 280 1132 494 1074 538 1493 359 1536 285 1191 402 1331 134 1554 276 1385 128 1498 228 1018 541 1583 303 1562 303 1022 537 1115 491 1536 285 1206 383 1281 297 1111 504 1125 492 1589 322 1360 135 1357 244 1624 522 1199 434 1505 369 1123 321 1407 164 1111 334 1075 527 1623 519 1051 534 1488 354 1400 152 1025 531 1469 324 1151 476 1346 237 1307 264 1392 238 1096 516 1555 451 1291 120 1032 530 1403 145 1322 96 1051 531 1314 149 1410 158 1611 513 1220 373 1574 467 1636 334 1213 228 1296 133 1257 177 1506 389 1524 427 1378 242 1291 157 1151 482 1348 237 1609 325 1116 335 1635 312 1250 161 1384 146 1476 331 1384 245 1587 317 1301 152 1177 430 1244 337 1056 530 1334 145 1370 238 1032 340 1139 326 1198 391 1308 124 1262 149 1604 502 1583 472 1557 443 1263 167 1581 283 1034 338 1193 402 1542 421 1632 545 1597 326 1627 527 1462 317 1035 620 1052 531 1338 146 1365 106 1587 571 1593 495 1243 199 1279 291 1402 153 1308 145 1561 273 1443 203 1037 585 1234 349 1295 273 1154 304 1391 113 1543 289 1256 178 1460 317 1362 252 1441 200 1630 338 1483 236 1587 311 1488 347 1040 578 1495 243 1414 171 1636 334 1153 467 1378 238 1035 342 1296 133 1583 476 1562 472 1321 143 1441 189 1322 145 1542 419 1298 147 1274 303 1172 297 1071 532 1089 525 1262 325 1412 259 1054 535 1039 539 1343 138 1314 257 1386 268 1455 312 1192 267 1593 327 1498 411 1590 325 1639 604 1583 473 1488 359 1614 324 1115 525 1379 135 1371 135 1621 522 1231 212 1321 94 1571 308 1421 175 1569 311 1547 425 1469 323 1633 583 1222 216 1030 533 1173 291 1602 500 1165 308 1075 349 1578 317 1367 251 1135 509 1424 177 1390 149 1009 540 1439 298 1400 252 1378 140 1379 242 1571 485 1543 290 1141 319 1293 159 1037 338 1332 242 1026 338 1457 206 1122 329 1203 255 1175 273 1013 534 1037 533 1459 317 1267 309 1600 499 1222 222 1500 251 1488 351 1611 506 1122 493 1595 316 1322 144 1142 323 1267 174 1025 536 1270 152 1173 435 1604 498 1158 477 1089 337 1537 279 1339 146 1438 293 1032 333 1631 332 1253 163 1250 192 1274 160 1331 248 1495 366 1274 163 1085 540 1481 229 1137 484 1258 173 1080 527 1020 339 1343 142 1192 270 1308 264 1459 216 1203 389 1093 525 1340 144 1395 248 1011 337 1592 521 1573 464 1294 157 1025 542 1201 388 1283 127 1049 337 1507 372 1101 513 1210 384 1452 206 1497 363 1037 333 1064 530 1045 537" fill="none" stroke="none" marker-start="url(#myb)" marker-mid="url(#myb)" marker-end="url(#myb)"/>
<path d="M1003.6 332.4 1009.3 332.7 1011.1 333.0 1012.8 333.2 1014.5 333.5 1016.2 333.8 1018.0 334.0 1019.7 334.2 1021.4 334.4 1023.2 334.6 1024.9 334.7 1026.6 334.8 1028.3 334.9 1030.1 334.9 1031.8 334.9 1033.5 334.9 1035.3 334.9 1037.0 334.9 1038.7 334.9 1040.4 334.9 1042.2 334.9 1043.9 334.9 1045.6 334.9 1047.4 334.9 1049.1 334.9 1050.8 334.9 1052.5 334.9 1054.3 335.2 1056.0 336.1 1057.7 337.4 1059.4 339.0 1061.2 340.4 1062.9 341.6 1064.6 342.3 1066.4 342.4 1068.1 342.4 1069.8 342.3 1071.5 342.3 1073.3 342.2 1075.0 342.1 1076.7 342.0 1078.5 341.9 1080.2 341.7 1081.9 341.6 1083.6 341.4 1085.4 341.2 1087.1 341.0 1088.8 340.8 1090.6 340.6 1092.3 340.4 1094.0 340.1 1095.7 340.1 1097.5 339.9 1099.2 339.6 1100.9 339.2 1102.7 338.6 1104.4 338.0 1106.1 337.3 1107.8 336.6 1109.6 335.9 1111.3 335.2 1113.0 334.3 1114.8 333.5 1116.5 332.8 1118.2 332.1 1119.9 331.4 1121.7 330.8 1123.4 330.2 1125.1 329.6 1126.9 329.0 1128.6 328.4 1130.3 327.8 1132.0 327.1 1133.8 326.4 1135.5 325.7 1137.2 324.9 1139.0 324.1 1140.7 323.2 1142.4 322.1 1144.1 320.9 1145.9 319.5 1147.6 318.0 1149.3 316.5 1151.0 314.8 1152.8 313.2 1154.5 311.5 1156.2 309.9 1158.0 308.4 1159.7 306.9 1161.4 305.5 1163.1 304.1 1164.9 302.6 1166.6 300.9 1168.3 299.1 1170.1 297.2 1171.8 295.2 1173.5 293.1 1175.2 291.0 1177.0 288.8 1178.7 286.5 1180.4 284.2 1182.2 281.8 1183.9 279.4 1185.6 277.0 1187.3 274.5 1189.1 271.9 1190.8 269.2 1192.5 266.4 1194.3 263.5 1196.0 260.6 1197.7 257.6 1199.4 254.7 1201.2 251.8 1202.9 248.9 1204.6 246.1 1206.4 243.4 1208.1 240.6 1209.8 237.9 1211.5 235.1 1213.3 232.4 1215.0 229.7 1216.7 227.0 1218.5 224.4 1220.2 222.0 1221.9 219.7 1223.6 217.7 1225.4 215.8 1227.1 214.0 1228.8 212.3 1230.6 210.6 1232.3 208.8 1234.0 207.0 1235.7 205.0 1237.5 202.9 1239.2 200.5 1240.9 198.0 1242.6 195.4 1244.4 192.8 1246.1 190.2 1247.8 187.7 1249.6 185.3 1251.3 183.2 1253.0 181.3 1254.7 179.5 1256.5 177.7 1258.2 176.1 1259.9 174.6 1261.7 173.3 1263.4 172.1 1265.1 171.1 1266.8 170.1 1268.6 169.3 1270.3 168.5 1272.0 167.7 1273.8 166.9 1275.5 166.0 1277.2 165.0 1278.9 163.9 1280.7 162.8 1282.4 161.5 1284.1 160.2 1285.9 158.9 1287.6 157.5 1289.3 156.2 1291.0 155.0 1292.8 153.7 1294.5 152.6 1296.2 151.6 1298.0 150.6 1299.7 149.7 1301.4 148.7 1303.1 147.8 1304.9 146.8 1306.6 146.0 1308.3 145.1 1310.1 144.4 1311.8 143.7 1313.5 143.1 1315.2 142.6 1317.0 142.3 1318.7 142.0 1320.4 141.7 1322.2 141.4 1323.9 141.1 1325.6 140.9 1327.3 140.6 1329.1 140.4 1330.8 140.2 1332.5 140.0 1334.2 139.8 1336.0 139.6 1337.7 139.5 1339.4 139.3 1341.2 139.2 1342.9 139.1 1344.6 139.1 1346.3 139.0 1348.1 139.0 1349.8 139.0 1351.5 139.0 1353.3 139.0 1355.0 138.9 1356.7 138.9 1358.4 138.9 1360.2 138.9 1361.9 138.9 1363.6 138.9 1365.4 138.8 1367.1 138.8 1368.8 138.8 1370.5 138.8 1372.3 139.0 1374.0 139.3 1375.7 139.7 1377.5 140.2 1379.2 140.7 1380.9 141.4 1382.6 142.1 1384.4 142.8 1386.1 143.6 1387.8 144.4 1389.6 145.2 1391.3 146.1 1393.0 147.1 1394.7 148.3 1396.5 149.6 1398.2 151.0 1399.9 152.5 1401.7 154.1 1403.4 155.6 1405.1 157.2 1406.8 158.7 1408.6 160.2 1410.3 161.7 1412.0 163.2 1413.8 164.8 1415.5 166.4 1417.2 168.1 1418.9 169.7 1420.7 171.4 1422.4 173.2 1424.1 174.9 1425.8 176.7 1427.6 178.6 1429.3 180.5 1431.0 182.4 1432.8 184.4 1434.5 186.4 1436.2 188.4 1437.9 190.5 1439.7 192.6 1441.4 194.6 1443.1 196.6 1444.9 198.7 1446.6 200.9 1448.3 203.3 1450.0 206.0 1451.8 208.7 1453.5 211.1 1455.2 213.2 1457.0 214.7 1458.7 215.9 1460.4 217.0 1462.1 218.0 1463.9 218.8 1465.6 219.7 1467.3 220.6 1469.1 221.6 1470.8 222.7 1472.5 224.0 1474.2 225.3 1476.0 226.8 1477.7 228.3 1479.4 229.9 1481.2 231.5 1482.9 233.1 1484.6 234.7 1486.3 236.3 1488.1 237.9 1489.8 239.5 1491.5 241.0 1493.3 242.4 1495.0 243.8 1496.7 245.2 1498.4 246.6 1500.2 248.0 1501.9 249.4 1503.6 250.8 1505.4 252.2 1507.1 253.6 1508.8 255.1 1510.5 256.6 1512.3 258.1 1514.0 259.7 1515.7 261.3 1517.4 262.9 1519.2 264.6 1520.9 266.3 1522.6 268.0 1524.4 269.7 1526.1 271.3 1527.8 272.7 1529.5 274.1 1531.3 275.4 1533.0 276.7 1534.7 278.0 1536.5 279.3 1538.2 280.6 1539.9 281.8 1541.6 283.1 1543.4 284.3 1545.1 285.6 1546.8 286.8 1548.6 288.1 1550.3 289.3 1552.0 290.6 1553.7 291.9 1555.5 293.3 1557.2 294.6 1558.9 296.0 1560.7 297.4 1562.4 299.0 1564.1 300.5 1565.8 302.1 1567.6 303.5 1569.3 304.9 1571.0 306.3 1572.8 307.6 1574.5 308.9 1576.2 310.1 1577.9 311.4 1579.7 312.6 1581.4 313.8 1583.1 314.9 1584.9 316.0 1586.6 317.0 1588.3 318.0 1590.0 318.9 1591.8 319.7 1593.5 320.5 1595.2 321.2 1597.0 321.8 1598.7 322.4 1600.4 323.0 1602.1 323.5 1603.9 324.0 1605.6 324.6 1607.3 325.1 1609.0 325.7 1610.8 326.4 1612.5 327.1 1614.2 328.0 1616.0 329.0 1617.7 330.1 1619.4 331.2 1621.1 332.2 1622.9 333.0 1624.6 333.6 1626.3 333.9 1628.1 333.9 1629.8 333.8 1631.5 333.7 1633.2 333.6 1635.0 333.3 1636.7 332.9 1638.4 332.4 1644.5 332.4 L1644.5 534.6 1638.4 534.6 1636.7 534.2 1635.0 533.5 1633.2 532.7 1631.5 531.9 1629.8 530.9 1628.1 529.9 1626.3 528.8 1624.6 527.4 1622.9 525.9 1621.1 524.3 1619.4 522.5 1617.7 520.7 1616.0 518.8 1614.2 517.0 1612.5 515.1 1610.8 513.2 1609.0 511.3 1607.3 509.3 1605.6 507.3 1603.9 505.3 1602.1 503.1 1600.4 501.0 1598.7 498.8 1597.0 496.6 1595.2 494.3 1593.5 492.1 1591.8 489.8 1590.0 487.5 1588.3 485.1 1586.6 482.5 1584.9 480.0 1583.1 477.3 1581.4 474.7 1579.7 472.1 1577.9 469.5 1576.2 466.9 1574.5 464.4 1572.8 462.0 1571.0 459.7 1569.3 457.5 1567.6 455.3 1565.8 453.3 1564.1 451.3 1562.4 449.3 1560.7 447.3 1558.9 445.3 1557.2 443.3 1555.5 441.2 1553.7 439.1 1552.0 436.9 1550.3 434.5 1548.6 432.1 1546.8 429.5 1545.1 426.9 1543.4 424.2 1541.6 421.5 1539.9 418.9 1538.2 416.3 1536.5 413.8 1534.7 411.4 1533.0 409.1 1531.3 406.9 1529.5 404.8 1527.8 402.8 1526.1 400.8 1524.4 398.8 1522.6 396.7 1520.9 394.7 1519.2 392.7 1517.4 390.7 1515.7 388.7 1514.0 386.6 1512.3 384.5 1510.5 382.4 1508.8 380.2 1507.1 378.0 1505.4 375.8 1503.6 373.6 1501.9 371.4 1500.2 369.1 1498.4 366.9 1496.7 364.6 1495.0 362.4 1493.3 360.1 1491.5 357.8 1489.8 355.6 1488.1 353.3 1486.3 351.0 1484.6 348.7 1482.9 346.2 1481.2 343.7 1479.4 341.1 1477.7 338.5 1476.0 335.9 1474.2 333.4 1472.5 331.0 1470.8 328.8 1469.1 326.8 1467.3 324.9 1465.6 323.4 1463.9 322.1 1462.1 321.0 1460.4 319.9 1458.7 318.9 1457.0 317.7 1455.2 316.3 1453.5 314.8 1451.8 313.1 1450.0 311.3 1448.3 309.4 1446.6 307.4 1444.9 305.4 1443.1 303.3 1441.4 301.2 1439.7 299.1 1437.9 297.1 1436.2 295.1 1434.5 293.1 1432.8 291.1 1431.0 289.0 1429.3 287.0 1427.6 284.9 1425.8 282.8 1424.1 280.7 1422.4 278.6 1420.7 276.5 1418.9 274.4 1417.2 272.4 1415.5 270.3 1413.8 268.3 1412.0 266.3 1410.3 264.2 1408.6 262.2 1406.8 260.2 1405.1 258.2 1403.4 256.2 1401.7 254.2 1399.9 252.3 1398.2 250.4 1396.5 248.5 1394.7 247.1 1393.0 245.9 1391.3 244.7 1389.6 243.6 1387.8 242.5 1386.1 241.4 1384.4 240.5 1382.6 239.8 1380.9 239.3 1379.2 239.0 1377.5 238.9 1375.7 238.9 1374.0 238.9 1372.3 238.9 1370.5 238.9 1368.8 238.9 1367.1 238.9 1365.4 238.9 1363.6 238.9 1361.9 238.9 1360.2 238.9 1358.4 238.9 1356.7 238.9 1355.0 238.9 1353.3 239.0 1351.5 239.3 1349.8 239.8 1348.1 240.5 1346.3 241.3 1344.6 242.3 1342.9 243.2 1341.2 244.2 1339.4 245.2 1337.7 246.1 1336.0 247.0 1334.2 247.9 1332.5 248.8 1330.8 249.8 1329.1 250.7 1327.3 251.7 1325.6 252.7 1323.9 253.7 1322.2 254.7 1320.4 255.7 1318.7 256.8 1317.0 257.9 1315.2 259.0 1313.5 260.1 1311.8 261.2 1310.1 262.3 1308.3 263.5 1306.6 264.7 1304.9 266.0 1303.1 267.4 1301.4 268.9 1299.7 270.5 1298.0 272.2 1296.2 274.1 1294.5 276.1 1292.8 278.1 1291.0 280.2 1289.3 282.4 1287.6 284.7 1285.9 287.0 1284.1 289.2 1282.4 291.5 1280.7 293.9 1278.9 296.3 1277.2 298.9 1275.5 301.5 1273.8 304.2 1272.0 306.8 1270.3 309.4 1268.6 311.9 1266.8 314.3 1265.1 316.5 1263.4 318.7 1261.7 320.7 1259.9 322.7 1258.2 324.7 1256.5 326.7 1254.7 328.7 1253.0 330.7 1251.3 332.8 1249.6 334.9 1247.8 337.1 1246.1 339.3 1244.4 341.5 1242.6 343.7 1240.9 345.9 1239.2 348.1 1237.5 350.4 1235.7 352.6 1234.0 354.8 1232.3 357.0 1230.6 359.2 1228.8 361.4 1227.1 363.7 1225.4 366.0 1223.6 368.2 1221.9 370.5 1220.2 372.8 1218.5 375.0 1216.7 377.2 1215.0 379.3 1213.3 381.4 1211.5 383.4 1209.8 385.3 1208.1 387.1 1206.4 388.7 1204.6 390.3 1202.9 391.9 1201.2 393.4 1199.4 395.0 1197.7 396.7 1196.0 398.5 1194.3 400.4 1192.5 402.5 1190.8 404.8 1189.1 407.5 1187.3 410.8 1185.6 414.3 1183.9 418.1 1182.2 422.0 1180.4 425.9 1178.7 429.6 1177.0 433.0 1175.2 436.0 1173.5 439.0 1171.8 441.8 1170.1 444.6 1168.3 447.3 1166.6 450.0 1164.9 452.6 1163.1 455.2 1161.4 457.7 1159.7 460.2 1158.0 462.7 1156.2 465.0 1154.5 467.4 1152.8 469.7 1151.0 472.0 1149.3 474.3 1147.6 476.7 1145.9 479.1 1144.1 481.5 1142.4 483.8 1140.7 485.9 1139.0 487.7 1137.2 489.1 1135.5 490.1 1133.8 490.8 1132.0 491.4 1130.3 491.9 1128.6 492.3 1126.9 492.7 1125.1 493.1 1123.4 493.4 1121.7 493.8 1119.9 494.3 1118.2 494.9 1116.5 495.6 1114.8 496.5 1113.0 498.0 1111.3 500.0 1109.6 502.2 1107.8 504.6 1106.1 507.1 1104.4 509.7 1102.7 512.1 1100.9 514.4 1099.2 516.5 1097.5 518.8 1095.7 521.1 1094.0 523.2 1092.3 525.2 1090.6 526.6 1088.8 527.6 1087.1 528.5 1085.4 529.4 1083.6 530.2 1081.9 530.9 1080.2 531.6 1078.5 532.2 1076.7 532.7 1075.0 533.2 1073.3 533.6 1071.5 533.9 1069.8 534.2 1068.1 534.5 1066.4 534.7 1064.6 535.0 1062.9 535.2 1061.2 535.5 1059.4 535.7 1057.7 535.9 1056.0 536.0 1054.3 536.2 1052.5 536.3 1050.8 536.4 1049.1 536.5 1047.4 536.6 1045.6 536.6 1043.9 536.6 1042.2 536.6 1040.4 536.6 1038.7 536.6 1037.0 536.6 1035.3 536.6 1033.5 536.6 1031.8 536.6 1030.1 536.6 1028.3 536.6 1026.6 536.6 1024.9 536.6 1023.2 536.6 1021.4 536.6 1019.7 536.6 1018.0 536.6 1016.2 536.6 1014.5 536.6 1012.8 536.6 1011.1 536.6 1009.3 536.6 1003.6 536.6 Z" fill="#b1b1b1"/>
<path d="M1037 541 1104 509 1457 316 1556 276 1633 539 1528 402 1068 338 1386 143 1011 597 1042 539 1379 132 1495 245 1379 243 1251 332 1440 301 1289 281 1211 383 1218 224 1440 303 1301 270 1592 317 1210 237 1445 306 1627 587 1433 186 1151 475 1419 299 1600 505 1175 441 1599 321 1592 489 1547 430 1320 136 1419 171 1153 469 1032 552 1445 199 1021 537 1123 330 1409 162 1490 240 1443 182 1265 324 1540 421 1049 609 1434 295 1246 181 1075 339 1410 155 1549 437 1386 145 1073 622 1193 453 1490 357 1631 536 1013 334 1627 334 1366 125 1074 342 1348 135 1082 341 1198 401 1015 334 1277 163 1227 182 1175 290 1075 557 1094 564 1215 379 1630 530 1033 561 1461 213 1436 297 1068 342 1497 363 1286 300 1602 321 1619 522 1445 198 1533 273 1604 534 1486 227 1623 537 1248 357 1417 167 1077 534 1251 183 1191 404 1599 504 1172 442 1310 146 1025 556 1547 443 1068 537 1453 211 1276 156 1177 282 1571 458 1222 197 1554 455 1466 222 1287 292 1405 260 1464 333 1609 512 1226 198 1541 432 1303 144 1158 466 1059 562 1085 338 1082 551 1571 468 1483 390 1329 135 1363 239 1562 453 1448 199 1317 130 1089 338 1082 335 1379 138 1268 311 1013 321 1206 243 1092 340 1194 400 1600 314 1113 329 1103 520 1623 532 1213 227 1077 342 1144 487 1169 449 1336 249 1303 149 1486 349 1236 356 1623 530 1085 341 1353 125 1308 139 1205 399 1635 546 1576 466 1381 138 1375 121 1087 328 1048 332 1198 422 1464 321 1258 326 1018 539 1474 227 1137 317 1414 160 1571 302 1132 328 1281 145 1581 301 1068 534 1065 536 1028 559 1037 538 1538 419 1047 556 1619 551 1187 413 1149 311 1597 310 1625 613 1436 182 1073 341 1345 135 1331 142 1256 177 1405 258 1082 340 1639 536 1198 397 1147 481 1139 326 1488 356 1049 536 1181 424 1312 136 1447 313 1400 151 1581 312 1631 534 1472 219 1628 530 1263 169 1303 270 1595 557 1381 240 1372 135 1179 288 1590 318 1044 541 1635 550 1630 536 1149 283 1619 524 1187 412 1009 334 1329 140 1344 126 1066 536 1547 287 1599 498 1217 215 1130 327 1313 135 1283 291 1078 586 1599 499 1289 155 1293 149 1414 157 1564 454 1239 348 1301 134 1377 245 1174 295 1362 138 1034 546 1025 539 1488 353 1381 238 1111 328 1071 553 1222 218 1222 370 1388 142 1545 284 1454 316 1089 549 1054 336 1210 237 1023 538 1267 321 1583 478 1605 519 1142 320 1609 321 1540 282 1068 539 1544 286 1184 279 1305 265 1617 571 1597 323 1037 535 1575 467 1396 247 1041 581 1099 332 1080 335 1391 126 1559 467 1260 144 1583 481 1223 369 1320 256 1037 540 1562 452 1538 421 1194 265 1148 506 1033 540 1020 539 1393 122 1028 537 1400 153 1373 139 1597 556 1013 332 1398 251 1296 273 1286 150 1531 275 1344 242 1154 468 1289 289 1041 545 1525 401 1277 127 1262 167 1075 333 1140 311 1305 148 1173 439 1338 246 1265 164 1490 237 1084 529 1388 139 1231 358 1597 497 1089 337 1056 541 1155 501 1079 340 1274 165 1256 166 1429 289 1307 142 1033 574 1085 343 1587 483 1056 536 1134 325 1198 257 1628 581 1540 283 1134 308 1161 301 1597 497 1608 316 1581 477 1473 350 1080 571 1469 221 1044 536 1595 494 1129 494 1499 247 1054 552 1056 577 1554 438 1307 275 1599 529 1289 283 1638 323 1594 295 1241 189 1039 557 1306 134 1073 549 1447 196 1206 390 1104 508 1357 138 1521 399 1447 198 1524 270 1291 155 1230 361 1248 183 1512 258 1547 428 1626 530 1614 516 1066 535 1089 526 1433 160 1127 318 1493 235 1051 554 1124 493 1488 234 1199 252 1633 535 1612 553 1275 160 1027 584 1306 266 1044 538 1104 335 1360 123 1175 278 1136 495 1313 134 1523 417 1353 237 1136 304 1497 237 1049 540 1244 192 1063 539 1550 291 1613 538 1500 244 1559 451 1277 300 1484 353 1477 229 1044 556 1115 332 1184 422 1098 337 1177 283 1557 289 1192 404 1243 191 1038 541 1056 557 1350 141 1571 459 1310 128 1060 535 1563 451 1282 291 1579 302 1090 338 1288 156 1299 271 1186 274 1011 536 1025 637 1350 120 1239 200 1504 377 1464 323 1303 147 1433 186 1317 144 1621 331 1161 299 1486 351 1256 166 1355 239 1191 405 1033 535 1154 495 1542 431 1484 347 1213 228 1557 449 1281 164 1089 325 1566 457 1175 288 1633 330 1632 622 1319 141 1310 267 1267 312 1048 540 1600 506 1621 524 1255 327 1633 533 1500 370 1523 399 1618 521 1026 535 1602 508 1495 241 1346 136 1597 300 1255 169 1044 542 1500 245 1421 172 1275 302 1611 535 1246 189 1554 277 1193 401 1476 220 1618 579 1516 392 1410 163 1300 148 1455 209 1436 293 1560 273 1614 532 1392 143 1396 146 1061 543 1146 480 1633 531 1217 221 1208 241 1289 281 1479 221 1390 143 1207 240 1621 523 1383 140 1374 135 1540 421 1064 565 1618 525 1085 340 1267 143 1203 391 1270 159 1303 272 1331 105 1416 161 1619 543 1210 207 1573 461 1103 335 1056 539 1267 149 1485 235 1258 328 1125 331 1602 505 1434 292 1194 263 1350 137 1121 332 1295 147 1071 584 1165 470 1142 486 1371 130 1384 121 1503 380 1015 561 1486 231 1419 299 1590 486 1132 327 1440 185 1269 311 1203 243 1248 181 1203 249 1536 435 1291 279 1070 343 1540 283 1092 328 1512 385 1312 262 1279 306 1566 475 1220 372 1597 318 1014 537 1402 255 1540 417 1099 517 1023 542 1419 168 1630 532 1604 319 1196 398 1332 139 1578 478 1479 342 1633 556 1064 538 1092 525 1397 146 1362 126 1199 255 1604 509 1139 319 1084 558 1519 391 1256 159 1245 186 1626 329 1054 535 1065 536 1037 536 1016 552 1286 302 1115 516 1224 207 1151 550 1137 325 1151 482 1039 558 1343 138 1205 243 1559 293 1027 336 1068 343 1113 497 1493 222 1367 238 1528 261 1621 533 1265 170 1305 141 1211 229 1574 307 1355 130 1116 496 1519 264 1028 559 1051 540 1422 292 1196 399 1082 340 1108 338 1075 343 1286 289 1445 305 1619 524 1101 340 1066 540 1158 309 1070 537 1547 465 1592 521 1039 536 1488 357 1108 525 1206 243 1306 263 1175 291 1094 338 1631 609 1148 316 1276 165 1250 187 1140 322 1193 265 1376 140 1047 538 1271 166 1383 142 1188 410 1272 156 1087 340 1066 539 1609 565 1070 342 1244 369 1637 534 1616 598 1160 460 1264 317 1507 251 1637 535 1313 145 1357 138 1296 272 1571 460 1089 340 1215 380 1258 143 1310 136 1082 531 1594 492 1089 549 1583 480 1248 176 1137 312 1362 240 1066 559 1474 336 1016 536 1199 249 1201 253 1346 240 1506 249 1490 238 1514 397 1077 536 1523 269 1637 331 1509 405 1077 341 1471 224 1169 450 1206 221 1047 645 1491 242 1239 200 1172 460 1027 337 1042 536 1338 245 1246 188 1322 256 1293 278 1028 541 1314 141 1269 143 1348 141 1307 144 1625 529 1091 541 1245 190 1158 507 1318 144 1054 539 1423 284 1585 481 1103 517 1478 365 1115 505 1379 130 1070 539 1533 408 1620 527 1355 238 1624 527 1082 539 1054 554 1256 329 1486 356 1141 317 1250 185 1267 166 1614 520 1533 278 1058 535 1177 442 1044 535 1091 529 1040 557 1229 214 1612 520 1612 518 1131 497 1192 402 1625 334 1305 143 1087 329 1191 407 1089 527 1035 563 1161 460 1448 195 1253 169 1400 255 1571 296 1329 138 1056 549 1559 462 1049 538 1564 451 1419 169 1390 244 1457 215 1434 167 1632 534 1058 338 1068 536 1080 338 1037 543 1293 155 1229 178 1585 515 1557 449 1434 166 1199 418 1455 213 1011 536 1197 415 1386 144 1052 537 1560 519 1037 577 1536 418 1181 429 1630 320 1604 521 1120 331 1227 214 1299 275 1429 171 1156 465 1039 567 1035 540 1545 430 1026 538 1037 631 1488 238 1372 141 1104 517 1233 359 1032 332 1578 309 1027 333 1535 428 1051 552 1139 323 1070 532 1179 429 1011 331 1358 243 1542 426 1374 245 1151 295 1046 539 1386 241 1355 237 1110 501 1317 257 1241 346 1161 457 1270 165 1360 139 1291 156 1229 214 1040 554 1014 536 1616 523 1035 572 1625 532 1427 284 1054 538 1478 224 1072 573 1041 328 1476 228 1282 162 1046 564 1516 412 1518 395 1108 506 1509 253 1348 244 1318 121 1246 372 1632 555 1484 348 1389 146 1454 211 1127 493 1175 292 1310 131 1492 240 1255 154 1469 220 1341 125 1160 462 1040 334 1431 167 1167 454 1440 194 1072 537 1172 282 1059 538 1175 290 1398 269 1116 494 1194 265 1149 503 1072 534 1068 542 1616 522 1117 497 1095 335 1638 538 1146 481 1616 331 1205 247 1087 327 1243 183 1305 267 1089 338 1635 532 1614 521 1063 559 1552 441 1237 205 1602 506 1082 342 1084 320 1182 422 1325 252 1277 164 1512 244 1446 197 1550 280 1583 478 1559 487 1179 284 1595 532 1545 443 1042 536 1594 535 1212 235 1037 555 1215 225 1073 536 1308 265 1284 157 1424 176 1282 291 1094 337 1600 503 1329 257 1111 335 1254 179 1035 537 1118 494 1410 162 1177 432 1606 511 1590 506 1174 275 1595 299 1091 342 1455 319 1583 481 1042 336 1080 535 1319 143 1065 561 1156 305 1487 354 1305 147 1167 457 1315 140 1621 527 1118 499 1364 136 1168 456 1402 154 1391 146 1272 307 1253 162 1320 132 1215 228 1046 536 1201 395 1395 137 1541 278 1419 170 1013 560 1122 328 1582 475 1218 226 1262 167 1346 137 1153 520 1071 539 1255 329 1270 311 1467 218 1531 423 1241 366 1414 273 1571 459 1562 298 1492 238 1619 524 1357 139 1251 176 1324 140 1094 340 1599 525 1561 464 1077 536 1106 518 1156 464 1149 475 1459 349 1049 547 1635 572 1115 502 1628 590 1412 165 1333 127 1225 194 1561 449 1097 330 1334 251 1059 549 1153 310 1469 328 1308 134 1094 337 1322 138 1153 312 1312 140 1094 335 1549 284 1163 303 1160 309 1545 287 1009 538 1512 387 1602 504 1322 143 1077 333 1409 157 1289 150 1118 495 1037 548 1540 461 1061 338 1538 267 1197 397 1243 349 1168 453 1638 540 1033 566 1557 458 1161 461 1376 131 1269 169 1386 242 1356 240 1243 180 1498 243 1073 532 1568 457 1480 340 1089 552 1056 324 1419 278 1282 158 1595 495 1360 133 1184 422 1374 238 1135 494 1633 331 1267 149 1336 247 1626 536 1542 420 1590 487 1362 141 1623 526 1114 334 1540 419 1415 269 1611 518 1484 228 1540 419 1308 268 1524 404 1250 343 1490 228 1094 333 1623 526 1286 142 1260 162 1334 262 1027 541 1034 561 1094 523 1386 240 1483 346 1521 262 1552 290 1222 370 1543 426 1032 569 1305 291 1282 163 1367 139 1282 153 1450 206 1044 539 1054 538 1134 491 1141 498 1047 541 1556 291 1175 290 1084 340 1184 422 1364 126 1113 313 1353 136 1263 168 1422 278 1336 131 1075 535 1051 544 1296 278 1287 286 1554 289 1296 151 1014 538 1291 297 1123 498 1628 531 1552 286 1320 120 1314 143 1172 441 1329 142 1581 475 1326 143 1032 540 1578 469 1246 344 1013 611 1215 383 1421 285 1625 589 1556 294 1210 234 1160 461 1174 440 1600 535 1225 214 1115 495 1270 154 1063 537 1430 176 1469 328 1257 337 1225 211 1196 413 1084 529 1450 200 1358 136 1355 135 1214 219 1400 150 1079 557 1585 480 1056 548 1078 342 1194 423 1551 266 1091 339 1277 152 1510 390 1331 252 1433 295 1039 551 1497 235 1281 162 1587 532 1139 319 1303 128 1163 462 1277 310 1638 329 1552 291 1474 339 1094 334 1174 478 1248 183 1597 529 1332 267 1571 302 1077 547 1139 310 1372 136 1016 550 1486 350 1040 541 1614 521 1607 513 1521 396 1263 322 1594 492 1142 482 1464 327 1041 537 1034 541 1526 400 1566 303 1279 156 1079 335 1246 172 1545 466 1120 496 1262 320 1103 338 1277 154 1128 492 1011 536 1049 572 1621 529 1621 523 1025 535 1267 329 1163 454 1376 246 1035 574 1056 538 1324 141 1597 320 1312 261 1058 538 1042 541 1417 277 1305 147 1592 503 1089 526 1086 338 1149 309 1561 447 1096 617 1039 331 1075 341 1082 529 1040 539 1048 546 1555 453 1389 145 1424 174 1279 160 1208 240 1621 524 1139 490 1576 468 1555 448 1113 498 1619 525 1301 286 1281 163 1321 129 1243 192 1500 249 1343 138 1621 525 1030 580 1623 528 1203 246 1156 306 1258 164 1165 300 1443 197 1552 283 1626 556 1281 295 1148 478 1248 337 1609 515 1346 107 1592 321 1480 343 1052 570 1362 239 1476 360 1125 492 1151 315 1020 606 1296 274 1243 345 1594 492 1495 238 1298 278 1046 590 1091 526 1549 461 1566 453 1137 323 1616 520 1208 235 1480 230 1635 333 1009 332 1025 559 1502 372 1567 304 1030 536 1422 281 1033 536 1172 275 1493 241 1270 318 1609 516 1583 498 1213 209 1265 321 1030 337 1633 559 1238 201 1009 334 1044 330 1322 109 1376 241 1173 277 1614 521 1462 336 1241 199 1014 601 1493 361 1037 565 1549 285 1630 614 1231 359 1618 566 1574 310 1600 310 1559 445 1023 537 1398 268 1379 255 1452 199 1318 140 1402 253 1165 451 1355 139 1579 484 1018 541 1274 304 1623 536 1146 319 1218 376 1633 533 1312 125 1533 418 1435 309 1512 393 1075 534 1449 314 1089 333 1621 529 1170 444 1253 338 1419 273 1037 541 1267 171 1559 288 1284 293 1531 264 1146 480 1194 228 1030 537 1616 519 1346 123 1344 141 1300 144 1053 334 1630 530 1312 270 1139 321 1514 387 1628 536 1621 561 1367 116 1291 284 1488 226 1378 133 1537 418 1013 330 1149 314 1128 321 1574 463 1021 330 1538 280 1232 202 1059 336 1625 528 1517 389 1426 282 1635 536 1538 280 1137 315 1466 216 1421 292 1276 318 1346 140 1357 135 1595 290 1514 385 1092 324 1186 424 1612 323 1160 291 1227 363 1180 429 1637 327 1087 342 1327 139 1308 145 1056 337 1263 318 1554 456 1462 319 1621 528 1421 170 1025 535 1281 164 1045 535 1320 261 1052 556 1395 146 1594 313 1541 278 1193 406 1263 164 1414 166 1557 447 1625 532 1550 287 1142 314 1011 537 1386 145 1312 141 1319 138 1390 142 1467 326 1632 535 1073 542 1431 288 1187 433 1438 191 1305 277 1334 122 1288 156 1058 540 1623 527 1252 184 1561 452 1087 341 1620 325 1344 136 1232 210 1457 213 1326 140 1035 597 1315 141 1217 227 1454 206 1102 338 1064 325 1611 514 1510 245 1604 515 1538 419 1039 335 1163 454 1455 203 1376 135 1595 493 1051 541 1415 164 1257 175 1625 527 1436 169 1631 334 1269 160 1038 537 1199 395 1288 294 1161 295 1231 358 1071 343 1142 318 1180 440 1234 208 1281 164 1234 357 1021 614 1424 176 1445 305 1092 334 1232 357 1153 313 1134 320 1199 252 1462 325 1130 517 1060 538 1193 263 1479 345 1493 370 1526 403 1616 567 1296 273 1301 150 1208 236 1415 165 1177 433 1309 262 1016 595 1317 277 1027 590 1455 316 1616 544 1438 297 1535 429 1215 214 1019 539 1219 216 1085 326 1165 456 1310 286 1481 364 1424 286 1554 290 1381 143 1509 256 1350 130 1091 334 1460 335 1045 557 1360 140 1566 453 1319 125 1016 572 1078 531 1481 345 1178 437 1326 141 1085 531 1480 360 1213 227 1180 285 1289 151 1353 134 1632 319 1083 335 1457 320 1046 328 1548 444 1132 495 1070 539 1091 328 1298 270 1277 298 1590 490 1030 325 1047 538 1215 230 1250 354 1332 141 1542 282 1386 142 1421 172 1241 180 1172 442 1212 384 1535 279 1104 338 1333 249 1288 155 1384 143 1604 508 1030 333 1272 167 1502 370 1089 313 1252 178 1070 537 1450 206 1293 155 1144 321 1632 534 1180 279 1241 348 1023 575 1257 332 1173 287 1080 530 1039 600 1073 568 1592 489 1151 293 1032 540 1382 242 1581 488 1241 195 1453 313 1324 258 1320 142 1488 232 1422 168 1491 357 1213 231 1077 535 1018 541 1363 135 1300 270 1343 137 1098 519 1490 233 1578 473 1604 326 1613 519 1269 169 1625 526 1044 328 1010 545 1428 284 1135 302 1127 493 1232 207 1341 133 1609 510 1193 268 1265 167 1543 435 1410 161 1066 341 1471 331 1613 561 1251 335 1625 528 1158 307 1028 334 1058 536 1557 291 1239 189 1053 542 1217 377 1066 533 1540 418 1155 472 1348 240 1111 333 1595 499 1545 425 1602 523 1232 201 1182 281 1417 167 1639 534 1173 294 1428 180 1557 447 1522 402 1419 171 1042 537 1543 280 1448 203 1243 189 1063 342 1284 162 1529 406 1037 335 1033 535 1307 146 1165 456 1564 456 1013 546 1412 165 1015 325 1614 329 1087 334 1029 550 1163 290 1091 534 1265 167 1535 265 1369 140 1061 555 1284 161 1211 383 1281 161 1172 297 1084 561 1580 474 1314 133 1593 312 1210 239 1125 329 1117 526 1170 447 1249 187 1357 238 1602 324 1495 373 1611 518 1020 576 1545 427 1333 129 1040 547 1286 157 1019 535 1053 586 1015 562 1308 265 1473 339 1352 131 1075 535 1455 320 1355 243 1096 341 1026 542 1158 309 1009 636 1618 520 1054 536 1612 520 1440 309 1338 133 1356 238 1241 195 1189 406 1217 378 1269 170 1058 566 1042 538 1284 292 1594 492 1158 467 1274 303 1049 535 1317 117 1149 495 1600 500 1265 325 1512 389 1352 123 1212 235 1272 163 1419 278 1351 238 1268 165 1390 243 1118 333 1281 294 1239 201 1022 541 1127 320 1063 569 1377 247 1013 543 1295 287 1298 149 1063 343 1039 538 1604 324 1618 519 1378 238 1398 150 1018 583 1044 577 1256 171 1305 126 1403 155 1628 530 1267 171 1541 444 1260 163 1215 206 1253 349 1533 435 1087 340 1324 255 1192 264 1059 535 1625 527 1096 342 1357 134 1604 509 1211 208 1110 336 1136 323 1581 473 1217 216 1153 280 1109 337 1569 301 1595 321 1358 135 1046 537 1471 214 1047 332 1066 558 1564 509 1616 330 1517 393 1072 344 1170 296 1345 128 1457 337 1599 321 1224 204 1633 531 1507 389 1331 140 1204 391 1324 136 1042 541 1139 486 1027 539 1554 441 1257 176 1054 537 1067 537 1118 496 1351 238 1251 185 1249 183 1151 312 1208 239 1319 281 1265 317 1258 177 1485 235 1194 423 1589 493 1457 216 1248 361 1011 332 1461 325 1196 238 1046 546 1326 136 1220 196 1177 286 1431 175 1595 317 1101 335 1624 528 1268 159 1383 244 1303 273 1381 139 1457 317 1586 318 1504 236 1561 292 1466 330 1068 574 1376 141 1306 146 1213 411 1383 142 1417 165 1523 265 1471 330 1519 395 1417 278 1317 143 1625 328 1115 496 1604 323 1315 123 1521 399 1056 535 1156 466 1253 336 1090 341 1265 168 1231 199 1239 199 1073 535 1083 343 1635 532 1068 343 1352 133 1471 224 1303 271 1492 360 1087 582 1025 332 1417 168 1611 532 1039 536 1550 285 1101 513 1377 141 1176 439 1538 416 1177 437 1215 209 1301 271 1091 342 1272 163 1101 517 1438 312 1602 512 1587 490 1082 534 1141 487 1636 575 1514 257 1242 343 1502 243 1149 495 1455 319 1158 309 1620 539 1313 273 1092 525 1583 476 1025 535 1248 185 1082 533 1474 340 1163 460 1047 555 1051 542 1146 484 1533 414 1303 272 1421 277 1505 403 1543 467 1270 169 1210 386 1471 221 1080 335 1555 439 1040 537 1621 524 1155 313 1542 444 1042 550 1234 195 1555 439 1115 326 1156 489 1606 506 1343 134 1016 330 1453 211 1438 166 1144 486 1205 391 1320 143 1229 208 1415 271 1628 552 1110 502 1407 259 1421 278 1158 463 1137 323 1441 299 1573 278 1526 402 1459 212 1187 413 1599 499 1011 581 1135 326 1136 324 1443 197 1028 597 1115 511 1106 334 1510 242 1374 137 1550 448 1638 537 1511 409 1516 263 1555 441 1562 489 1075 339 1599 320 1422 164 1104 328 1441 193 1400 153 1358 106 1336 272 1488 235 1308 270 1255 173 1075 338 1023 567 1606 533 1051 332 1630 532 1588 486 1213 229 1035 557 1239 202 1134 494 1065 540 1350 136 1400 152 1360 251 1318 143 1009 541 1391 257 1350 134 1234 201 1068 533 1231 361 1633 331 1616 523 1201 251 1251 359 1334 139 1524 403 1174 288 1179 428 1098 331 1457 207 1502 238 1590 509 1104 332 1386 140 1047 561 1543 427 1082 332 1018 602 1106 336 1605 508 1334 141 1170 445 1042 567 1110 335 1034 536 1578 471 1628 329 1592 491 1153 479 1175 463 1023 535 1153 314 1134 312 1362 130 1416 148 1066 333 1628 531 1063 540 1042 321 1061 561 1472 225 1013 536 1396 250 1030 559 1028 330 1314 139 1485 348 1218 221 1232 205 1552 290 1009 535 1580 477 1567 460 1262 163 1265 171 1236 207 1096 522 1039 539 1134 326 1360 137 1436 188 1630 636 1180 285 1232 358 1540 280 1300 140 1557 295 1588 483 1353 125 1388 241 1557 443 1624 526 1544 427 1315 112 1108 338 1044 327 1220 220 1036 535 1263 332 1300 273 1025 541 1379 238 1326 141 1185 418 1485 360 1630 543 1348 141 1557 451 1417 277" fill="none" stroke="none" marker-start="url(#mgb)" marker-mid="url(#mgb)" marker-end="url(#mgb)"/>
</g>
<g clip-path="url(#ca)" fill="none" stroke-width="3.6" stroke-linejoin="round" stroke-linecap="butt">
<path d="M75.0 366.4 77.1 367.5 79.2 369.3 81.3 369.3 83.4 370.4 85.5 372.3 87.6 372.2 89.7 372.4 91.7 373.2 93.8 373.2 95.9 372.9 98.0 372.5 100.1 371.5 102.2 370.7 104.3 370.1 106.4 368.4 108.5 367.2 110.6 367.4 112.7 366.9 114.8 366.6 116.9 366.6 119.0 367.3 121.0 367.3 123.1 365.0 125.2 364.7 127.3 365.7 129.4 365.2 131.5 365.6 133.6 365.3 135.7 363.4 137.8 362.5 139.9 362.4 142.0 361.7 144.1 361.5 146.2 361.9 148.3 362.3 150.3 362.4 152.4 362.4 154.5 361.8 156.6 360.4 158.7 359.6 160.8 359.6 162.9 359.3 165.0 358.7 167.1 357.8 169.2 356.7 171.3 356.1 173.4 356.2 175.5 356.5 177.6 356.2 179.7 354.8 181.7 353.8 183.8 354.1 185.9 354.4 188.0 354.3 190.1 354.3 192.2 354.7 194.3 355.0 196.4 354.1 198.5 352.0 200.6 350.3 202.7 350.6 204.8 351.2 206.9 350.4 209.0 350.0 211.0 349.4 213.1 348.2 215.2 348.1 217.3 347.6 219.4 346.5 221.5 346.3 223.6 346.4 225.7 345.1 227.8 342.7 229.9 340.2 232.0 338.5 234.1 338.2 236.2 338.3 238.3 337.0 240.3 335.2 242.4 334.4 244.5 334.0 246.6 332.6 248.7 330.9 250.8 329.6 252.9 327.5 255.0 325.0 257.1 324.4 259.2 324.9 261.3 324.6 263.4 322.9 265.5 321.4 267.6 320.6 269.6 319.1 271.7 317.7 273.8 316.2 275.9 313.9 278.0 311.8 280.1 310.5 282.2 310.2 284.3 309.9 286.4 308.3 288.5 306.4 290.6 306.0 292.7 305.7 294.8 302.9 296.9 300.0 299.0 299.4 301.0 298.3 303.1 296.1 305.2 294.4 307.3 292.8 309.4 291.6 311.5 289.7 313.6 287.5 315.7 286.5 317.8 285.3 319.9 284.0 322.0 282.9 324.1 281.5 326.2 280.0 328.3 277.8 330.3 275.0 332.4 274.3 334.5 274.0 336.6 272.3 338.7 270.7 340.8 269.0 342.9 267.0 345.0 265.2 347.1 264.0 349.2 262.9 351.3 261.5 353.4 260.5 355.5 259.4 357.6 258.1 359.6 257.4 361.7 256.6 363.8 255.9 365.9 254.1 368.0 250.9 370.1 249.6 372.2 249.3 374.3 248.0 376.4 247.3 378.5 246.2 380.6 244.2 382.7 242.8 384.8 241.1 386.9 238.6 389.0 237.3 391.0 236.9 393.1 235.2 395.2 232.9 397.3 231.1 399.4 228.9 401.5 227.3 403.6 226.2 405.7 224.5 407.8 222.9 409.9 221.8 412.0 220.7 414.1 220.1 416.2 220.1 418.3 220.7 420.3 219.7 422.4 217.2 424.5 217.5 426.6 218.9 428.7 218.0 430.8 216.2 432.9 214.6 435.0 213.5 437.1 213.0 439.2 213.1 441.3 212.4 443.4 211.3 445.5 211.1 447.6 210.3 449.6 208.6 451.7 207.7 453.8 208.2 455.9 207.6 458.0 205.7 460.1 204.1 462.2 203.6 464.3 203.4 466.4 203.2 468.5 203.3 470.6 202.1 472.7 199.7 474.8 198.8 476.9 199.0 478.9 198.0 481.0 197.8 483.1 199.0 485.2 199.9 487.3 200.1 489.4 199.5 491.5 199.1 493.6 198.5 495.7 197.3 497.8 196.9 499.9 197.6 502.0 198.6 504.1 198.8 506.2 198.0 508.3 198.5 510.3 199.2 512.4 198.4 514.5 198.8 516.6 200.7 518.7 200.9 520.8 200.6 522.9 202.3 525.0 203.2 527.1 203.1 529.2 203.6 531.3 202.5 533.4 201.7 535.5 203.3 537.6 204.4 539.6 204.3 541.7 204.5 543.8 204.9 545.9 204.8 548.0 205.9 550.1 208.1 552.2 208.5 554.3 208.1 556.4 208.5 558.5 209.2 560.6 209.9 562.7 211.3 564.8 212.5 566.9 212.0 568.9 211.7 571.0 213.3 573.1 215.1 575.2 215.4 577.3 215.3 579.4 216.1 581.5 216.9 583.6 217.6 585.7 218.2 587.8 219.4 589.9 221.9 592.0 224.3 594.1 225.1 596.2 225.2 598.3 226.8 600.3 230.2 602.4 232.5 604.5 232.9 606.6 233.7 608.7 235.3 610.8 237.4 612.9 239.8 615.0 241.4 617.1 242.4 619.2 244.2 621.3 245.0 623.4 245.1 625.5 248.1 627.6 251.3 629.6 251.9 631.7 251.7 633.8 252.8 635.9 254.3 638.0 254.7 640.1 255.7 642.2 257.3 644.3 258.7 646.4 259.9 648.5 260.7 650.6 261.9 652.7 264.1 654.8 265.3 656.9 265.6 658.9 266.4 661.0 267.8 663.1 270.0 665.2 271.6 667.3 272.1 669.4 273.1 671.5 274.8 673.6 276.7 675.7 278.5 677.8 279.3 679.9 279.8 682.0 281.3 684.1 283.1 686.2 284.6 688.2 286.0 690.3 287.3 692.4 289.2 694.5 291.6 696.6 293.4 698.7 295.0 700.8 298.0 702.9 301.2 705.0 303.9 707.1 306.2 709.2 308.2 711.3 311.0 713.4 314.6 715.5 317.8 717.6 319.8 719.6 320.9 721.7 323.4 723.8 326.7 725.9 329.1 728.0 331.2 730.1 333.5 732.2 334.5 734.3 334.6 736.4 335.5 738.5 336.1 740.6 337.1 742.7 338.7 744.8 340.1 746.9 341.2 748.9 341.4 751.0 342.1 753.1 343.9 755.2 345.5 757.3 346.1 759.4 347.0 761.5 348.3 763.6 348.6 765.7 350.6 767.8 353.7 769.9 354.4 772.0 353.0 774.1 352.0 776.2 353.5 778.2 355.8 780.3 355.3 782.4 354.3 784.5 355.6 786.6 356.7 788.7 357.6 790.8 358.8 792.9 358.7 795.0 358.9 797.1 360.2 799.2 360.9 801.3 360.5 803.4 360.2 805.5 360.5 807.6 362.0 809.6 364.7 811.7 365.8 813.8 365.8 815.9 366.8 818.0 368.3 820.1 369.6 822.2 369.7 824.3 368.3 826.4 367.7 828.5 368.7 830.6 370.1 832.7 370.4" stroke="#0000ff"/>
<path d="M75.1 507.6 77.2 509.2 79.3 510.5 81.4 512.9 83.5 514.0 85.6 513.3 87.7 513.6 89.8 514.5 91.8 514.1 93.9 513.0 96.0 512.7 98.1 513.1 100.2 512.5 102.3 511.9 104.4 511.7 106.5 511.0 108.6 510.3 110.7 509.2 112.8 507.4 114.9 507.1 117.0 508.3 119.1 507.5 121.1 505.7 123.2 504.7 125.3 503.7 127.4 502.7 129.5 502.0 131.6 500.3 133.7 497.9 135.8 496.7 137.9 494.8 140.0 492.1 142.1 490.8 144.2 490.1 146.3 490.3 148.4 490.6 150.4 489.8 152.5 488.3 154.6 486.8 156.7 485.9 158.8 485.8 160.9 485.6 163.0 484.5 165.1 483.2 167.2 481.7 169.3 481.0 171.4 481.5 173.5 481.3 175.6 480.6 177.7 479.8 179.8 478.3 181.8 478.2 183.9 478.7 186.0 477.9 188.1 477.0 190.2 476.7 192.3 475.7 194.4 473.9 196.5 473.1 198.6 473.0 200.7 472.1 202.8 470.3 204.9 468.2 207.0 467.4 209.1 466.7 211.1 465.2 213.2 463.3 215.3 461.8 217.4 461.9 219.5 461.7 221.6 460.4 223.7 460.2 225.8 460.2 227.9 459.1 230.0 458.0 232.1 457.8 234.2 457.8 236.3 455.8 238.4 452.5 240.4 450.6 242.5 450.1 244.6 449.4 246.7 446.1 248.8 442.7 250.9 441.5 253.0 440.2 255.1 438.6 257.2 437.6 259.3 436.1 261.4 434.7 263.5 434.5 265.6 433.6 267.7 432.0 269.7 430.7 271.8 428.9 273.9 427.7 276.0 426.6 278.1 426.6 280.2 426.7 282.3 425.3 284.4 423.7 286.5 421.3 288.6 418.3 290.7 417.6 292.8 417.8 294.9 416.4 297.0 414.2 299.1 411.3 301.1 409.0 303.2 408.5 305.3 408.1 307.4 406.0 309.5 403.2 311.6 401.4 313.7 399.7 315.8 398.6 317.9 397.2 320.0 394.7 322.1 393.3 324.2 393.2 326.3 392.3 328.4 390.1 330.4 387.2 332.5 384.1 334.6 382.0 336.7 381.0 338.8 380.5 340.9 379.8 343.0 378.5 345.1 376.5 347.2 373.2 349.3 370.2 351.4 368.1 353.5 365.7 355.6 364.2 357.7 362.2 359.7 359.2 361.8 357.3 363.9 355.5 366.0 353.3 368.1 350.0 370.2 346.0 372.3 343.8 374.4 342.5 376.5 340.2 378.6 337.8 380.7 335.1 382.8 333.1 384.9 333.2 387.0 332.1 389.1 329.5 391.1 329.0 393.2 328.3 395.3 325.8 397.4 324.3 399.5 323.9 401.6 322.9 403.7 320.5 405.8 317.9 407.9 317.3 410.0 318.1 412.1 317.2 414.2 314.0 416.3 311.3 418.4 310.6 420.4 310.6 422.5 308.8 424.6 307.3 426.7 306.6 428.8 305.1 430.9 303.8 433.0 302.7 435.1 301.1 437.2 299.4 439.3 298.3 441.4 296.8 443.5 295.3 445.6 295.2 447.7 294.2 449.7 292.1 451.8 291.3 453.9 290.7 456.0 288.6 458.1 287.3 460.2 286.8 462.3 285.5 464.4 284.8 466.5 283.7 468.6 282.5 470.7 282.8 472.8 282.6 474.9 282.0 477.0 281.0 479.0 279.2 481.1 278.2 483.2 278.4 485.3 278.6 487.4 278.0 489.5 277.1 491.6 276.0 493.7 275.5 495.8 275.9 497.9 274.8 500.0 273.3 502.1 273.9 504.2 274.7 506.3 274.8 508.4 274.6 510.4 273.7 512.5 273.6 514.6 274.1 516.7 274.5 518.8 275.2 520.9 275.0 523.0 275.4 525.1 276.9 527.2 277.3 529.3 277.1 531.4 278.1 533.5 280.0 535.6 280.9 537.7 280.0 539.7 280.2 541.8 282.2 543.9 283.0 546.0 282.2 548.1 282.8 550.2 285.0 552.3 286.9 554.4 287.6 556.5 287.9 558.6 287.9 560.7 289.0 562.8 291.5 564.9 292.7 567.0 294.0 569.0 296.3 571.1 297.3 573.2 297.6 575.3 299.2 577.4 301.3 579.5 302.4 581.6 303.1 583.7 304.5 585.8 307.1 587.9 309.5 590.0 312.3 592.1 315.2 594.2 316.2 596.3 317.3 598.4 318.2 600.4 318.8 602.5 321.2 604.6 323.6 606.7 325.1 608.8 326.6 610.9 329.0 613.0 332.0 615.1 333.4 617.2 334.3 619.3 336.6 621.4 338.7 623.5 339.0 625.6 340.1 627.7 343.0 629.7 344.5 631.8 345.4 633.9 347.7 636.0 351.1 638.1 353.4 640.2 355.2 642.3 358.0 644.4 359.8 646.5 361.9 648.6 364.9 650.7 366.3 652.8 367.6 654.9 370.1 657.0 373.1 659.0 376.2 661.1 378.8 663.2 381.3 665.3 383.6 667.4 386.0 669.5 388.4 671.6 391.0 673.7 394.0 675.8 396.8 677.9 398.9 680.0 401.2 682.1 403.0 684.2 403.9 686.3 406.6 688.3 409.6 690.4 411.3 692.5 413.2 694.6 415.3 696.7 418.0 698.8 420.7 700.9 421.9 703.0 422.8 705.1 424.2 707.2 425.9 709.3 428.6 711.4 431.1 713.5 432.1 715.6 432.8 717.7 434.1 719.7 435.5 721.8 436.9 723.9 438.4 726.0 440.6 728.1 442.4 730.2 444.6 732.3 447.5 734.4 450.0 736.5 451.0 738.6 452.1 740.7 454.3 742.8 455.9 744.9 456.5 747.0 457.3 749.0 460.2 751.1 463.5 753.2 464.9 755.3 466.4 757.4 469.4 759.5 472.3 761.6 472.9 763.7 472.6 765.8 473.9 767.9 475.7 770.0 477.7 772.1 479.6 774.2 480.1 776.3 480.8 778.3 481.9 780.4 483.6 782.5 485.9 784.6 487.5 786.7 489.2 788.8 491.0 790.9 491.7 793.0 493.3 795.1 494.5 797.2 493.7 799.3 494.0 801.4 494.9 803.5 496.3 805.6 498.8 807.7 500.1 809.7 499.9 811.8 500.6 813.9 502.4 816.0 503.0 818.1 502.8 820.2 503.3 822.3 503.3 824.4 504.3 826.5 505.0 828.6 505.1 830.7 506.0 832.8 505.6" stroke="#0000ff"/>
<path d="M73.8 353.5 75.9 354.3 78.0 354.4 80.1 354.5 82.2 355.5 84.3 357.1 86.4 357.9 88.5 357.6 90.5 357.0 92.6 356.4 94.7 355.5 96.8 354.7 98.9 355.2 101.0 356.2 103.1 356.5 105.2 357.3 107.3 358.4 109.4 358.5 111.5 357.7 113.6 355.7 115.7 354.7 117.8 356.1 119.8 357.0 121.9 356.6 124.0 356.2 126.1 356.6 128.2 356.9 130.3 355.9 132.4 355.1 134.5 356.2 136.6 357.4 138.7 356.9 140.8 355.4 142.9 354.6 145.0 354.7 147.1 354.7 149.1 355.8 151.2 357.1 153.3 357.4 155.4 357.1 157.5 356.3 159.6 355.1 161.7 354.7 163.8 354.9 165.9 354.8 168.0 355.0 170.1 354.9 172.2 354.9 174.3 355.2 176.4 354.4 178.5 353.9 180.5 354.9 182.6 355.9 184.7 355.6 186.8 354.5 188.9 353.7 191.0 354.2 193.1 354.5 195.2 354.4 197.3 353.4 199.4 351.4 201.5 350.5 203.6 350.2 205.7 349.4 207.8 347.5 209.8 345.7 211.9 345.5 214.0 345.2 216.1 343.5 218.2 341.8 220.3 341.7 222.4 341.9 224.5 340.7 226.6 338.9 228.7 337.5 230.8 336.1 232.9 334.8 235.0 333.6 237.1 332.3 239.1 331.9 241.2 330.7 243.3 328.0 245.4 325.7 247.5 324.8 249.6 323.2 251.7 320.3 253.8 317.8 255.9 315.9 258.0 314.6 260.1 313.3 262.2 312.0 264.3 310.8 266.4 309.7 268.4 308.9 270.5 308.7 272.6 309.4 274.7 309.3 276.8 307.9 278.9 307.4 281.0 307.4 283.1 306.5 285.2 304.4 287.3 303.8 289.4 304.8 291.5 304.4 293.6 302.5 295.7 301.4 297.8 300.5 299.8 298.7 301.9 297.1 304.0 295.8 306.1 294.5 308.2 292.2 310.3 290.2 312.4 289.9 314.5 289.1 316.6 288.2 318.7 287.1 320.8 284.7 322.9 282.1 325.0 279.6 327.1 277.5 329.1 276.4 331.2 275.8 333.3 275.3 335.4 274.2 337.5 272.5 339.6 270.8 341.7 269.8 343.8 268.0 345.9 265.9 348.0 264.4 350.1 263.2 352.2 261.9 354.3 260.5 356.4 258.3 358.4 255.2 360.5 253.4 362.6 252.8 364.7 251.6 366.8 250.8 368.9 249.5 371.0 246.5 373.1 244.2 375.2 243.2 377.3 241.4 379.4 238.9 381.5 237.5 383.6 237.3 385.7 236.0 387.8 234.1 389.8 232.8 391.9 231.3 394.0 230.6 396.1 231.1 398.2 229.5 400.3 225.6 402.4 222.8 404.5 222.0 406.6 221.5 408.7 219.9 410.8 218.6 412.9 217.5 415.0 216.0 417.1 215.1 419.1 214.4 421.2 213.3 423.3 211.9 425.4 210.5 427.5 209.9 429.6 209.7 431.7 208.1 433.8 206.3 435.9 205.9 438.0 205.0 440.1 204.3 442.2 203.8 444.3 201.6 446.4 199.9 448.4 200.1 450.5 199.4 452.6 197.6 454.7 197.1 456.8 198.0 458.9 197.0 461.0 195.0 463.1 194.5 465.2 195.0 467.3 195.0 469.4 192.9 471.5 190.6 473.6 190.1 475.7 189.9 477.7 189.3 479.8 189.6 481.9 190.4 484.0 190.8 486.1 190.6 488.2 190.0 490.3 189.4 492.4 189.7 494.5 190.5 496.6 191.0 498.7 190.4 500.8 189.3 502.9 189.3 505.0 190.8 507.1 193.1 509.1 194.7 511.2 195.5 513.3 196.7 515.4 197.4 517.5 198.1 519.6 198.9 521.7 198.7 523.8 200.1 525.9 201.3 528.0 200.7 530.1 200.6 532.2 201.2 534.3 200.7 536.4 198.7 538.4 197.7 540.5 199.3 542.6 201.2 544.7 202.7 546.8 203.5 548.9 202.7 551.0 202.2 553.1 202.8 555.2 203.2 557.3 203.3 559.4 203.8 561.5 204.1 563.6 204.2 565.7 205.1 567.7 205.6 569.8 205.5 571.9 206.2 574.0 206.8 576.1 206.6 578.2 207.3 580.3 209.0 582.4 209.6 584.5 210.3 586.6 211.8 588.7 212.7 590.8 213.6 592.9 215.5 595.0 217.3 597.1 217.3 599.1 217.0 601.2 218.7 603.3 221.9 605.4 224.1 607.5 224.7 609.6 225.9 611.7 227.5 613.8 227.9 615.9 229.5 618.0 231.7 620.1 232.8 622.2 234.3 624.3 236.4 626.4 237.8 628.4 238.3 630.5 239.1 632.6 240.4 634.7 240.9 636.8 241.4 638.9 242.9 641.0 243.5 643.1 245.2 645.2 248.6 647.3 250.6 649.4 251.4 651.5 251.1 653.6 250.6 655.7 251.9 657.7 254.0 659.8 255.5 661.9 256.5 664.0 258.0 666.1 260.7 668.2 263.2 670.3 264.3 672.4 265.5 674.5 267.0 676.6 267.4 678.7 268.2 680.8 271.0 682.9 273.7 685.0 276.0 687.0 278.7 689.1 280.1 691.2 281.5 693.3 283.5 695.4 285.8 697.5 289.5 699.6 292.1 701.7 293.0 703.8 294.3 705.9 296.8 708.0 299.8 710.1 302.8 712.2 305.8 714.3 308.4 716.4 310.7 718.4 312.8 720.5 313.7 722.6 314.3 724.7 316.1 726.8 318.3 728.9 319.4 731.0 321.2 733.1 324.1 735.2 326.0 737.3 326.1 739.4 325.8 741.5 326.9 743.6 328.8 745.7 331.3 747.7 333.5 749.8 333.9 751.9 333.7 754.0 334.0 756.1 335.4 758.2 337.1 760.3 337.0 762.4 337.2 764.5 339.7 766.6 341.3 768.7 342.2 770.8 343.3 772.9 343.6 775.0 343.7 777.0 344.3 779.1 344.2 781.2 344.3 783.3 345.4 785.4 345.6 787.5 345.4 789.6 346.4 791.7 347.2 793.8 347.4 795.9 347.3 798.0 347.5 800.1 349.0 802.2 350.3 804.3 350.6 806.4 350.7 808.4 351.1 810.5 352.1 812.6 352.6 814.7 352.0 816.8 352.3 818.9 352.4 821.0 351.6 823.1 351.6 825.2 351.7 827.3 351.5 829.4 352.1 831.5 352.9" stroke="#ff0000"/>
<path d="M75.1 482.5 77.2 482.4 79.3 481.9 81.4 483.2 83.5 485.2 85.6 485.7 87.7 485.5 89.8 485.5 91.8 486.6 93.9 487.9 96.0 487.8 98.1 487.5 100.2 487.2 102.3 486.4 104.4 485.8 106.5 486.4 108.6 486.9 110.7 486.7 112.8 487.1 114.9 487.0 117.0 487.1 119.1 487.1 121.1 487.0 123.2 488.0 125.3 488.8 127.4 488.2 129.5 487.2 131.6 487.3 133.7 487.1 135.8 485.9 137.9 485.4 140.0 486.1 142.1 486.6 144.2 485.6 146.3 483.7 148.4 483.2 150.4 482.7 152.5 481.4 154.6 480.0 156.7 478.1 158.8 477.6 160.9 479.2 163.0 479.9 165.1 478.4 167.2 477.2 169.3 477.8 171.4 478.0 173.5 476.7 175.6 475.6 177.7 475.1 179.8 474.6 181.8 474.2 183.9 473.7 186.0 472.7 188.1 471.0 190.2 469.6 192.3 468.7 194.4 467.7 196.5 466.9 198.6 465.9 200.7 464.0 202.8 461.6 204.9 460.4 207.0 460.8 209.1 460.1 211.1 457.9 213.2 456.1 215.3 454.7 217.4 453.9 219.5 452.8 221.6 450.4 223.7 448.0 225.8 446.3 227.9 445.0 230.0 443.1 232.1 440.6 234.2 438.9 236.3 437.5 238.4 435.2 240.4 432.5 242.5 430.9 244.6 429.9 246.7 428.2 248.8 426.3 250.9 424.9 253.0 423.3 255.1 421.8 257.2 420.8 259.3 420.3 261.4 420.1 263.5 418.5 265.6 416.4 267.7 415.7 269.7 416.0 271.8 415.8 273.9 415.0 276.0 413.2 278.1 411.4 280.2 411.2 282.3 411.1 284.4 410.1 286.5 408.4 288.6 406.4 290.7 405.7 292.8 405.6 294.9 404.4 297.0 402.6 299.1 401.0 301.1 399.9 303.2 398.8 305.3 397.8 307.4 397.7 309.5 398.0 311.6 396.8 313.7 394.5 315.8 393.4 317.9 392.1 320.0 390.7 322.1 390.1 324.2 388.5 326.3 386.1 328.4 384.8 330.4 384.5 332.5 383.6 334.6 382.7 336.7 382.2 338.8 380.6 340.9 378.8 343.0 377.3 345.1 376.2 347.2 374.6 349.3 372.3 351.4 371.6 353.5 371.2 355.6 368.6 357.7 365.8 359.7 364.6 361.8 362.5 363.9 359.7 366.0 358.1 368.1 356.4 370.2 354.0 372.3 350.6 374.4 346.2 376.5 342.7 378.6 340.6 380.7 338.7 382.8 337.6 384.9 335.8 387.0 332.5 389.1 329.4 391.1 326.7 393.2 324.6 395.3 323.2 397.4 321.3 399.5 319.7 401.6 318.8 403.7 316.8 405.8 315.0 407.9 314.6 410.0 313.7 412.1 311.8 414.2 310.8 416.3 309.8 418.4 308.2 420.4 307.4 422.5 306.7 424.6 305.3 426.7 303.8 428.8 302.1 430.9 300.9 433.0 299.5 435.1 297.8 437.2 296.0 439.3 294.7 441.4 293.4 443.5 291.1 445.6 290.1 447.7 290.9 449.7 289.6 451.8 287.0 453.9 285.8 456.0 285.3 458.1 284.6 460.2 283.2 462.3 282.4 464.4 282.0 466.5 281.1 468.6 280.4 470.7 279.1 472.8 277.7 474.9 278.7 477.0 279.7 479.0 279.1 481.1 276.6 483.2 274.3 485.3 274.4 487.4 275.1 489.5 275.6 491.6 274.4 493.7 272.7 495.8 272.4 497.9 273.1 500.0 273.7 502.1 273.1 504.2 272.4 506.3 271.8 508.4 271.7 510.4 272.1 512.5 271.9 514.6 271.7 516.7 272.4 518.8 273.5 520.9 275.0 523.0 276.0 525.1 275.8 527.2 275.3 529.3 275.9 531.4 277.0 533.5 277.2 535.6 277.6 537.7 278.3 539.7 278.6 541.8 279.2 543.9 279.6 546.0 280.2 548.1 281.8 550.2 282.5 552.3 280.8 554.4 280.2 556.5 282.5 558.6 284.2 560.7 284.4 562.8 286.0 564.9 288.8 567.0 290.1 569.0 290.7 571.1 291.8 573.2 293.4 575.3 295.2 577.4 295.7 579.5 296.5 581.6 299.0 583.7 300.6 585.8 300.9 587.9 302.4 590.0 304.4 592.1 306.6 594.2 309.1 596.3 309.9 598.4 311.0 600.4 313.4 602.5 315.5 604.6 317.2 606.7 319.1 608.8 320.8 610.9 321.7 613.0 322.2 615.1 323.7 617.2 326.0 619.3 327.6 621.4 329.6 623.5 330.9 625.6 331.2 627.7 333.1 629.7 335.6 631.8 337.6 633.9 339.7 636.0 342.0 638.1 344.7 640.2 346.1 642.3 346.6 644.4 348.5 646.5 352.1 648.6 355.2 650.7 355.9 652.8 356.7 654.9 359.6 657.0 362.3 659.0 365.1 661.1 367.7 663.2 368.8 665.3 371.0 667.4 374.2 669.5 376.4 671.6 379.2 673.7 382.0 675.8 383.7 677.9 386.8 680.0 391.1 682.1 394.2 684.2 397.0 686.3 400.0 688.3 402.8 690.4 406.8 692.5 410.5 694.6 411.6 696.7 413.0 698.8 415.4 700.9 416.3 703.0 416.5 705.1 417.6 707.2 419.5 709.3 421.0 711.4 421.1 713.5 421.5 715.6 422.2 717.7 424.1 719.7 427.0 721.8 427.8 723.9 428.4 726.0 429.7 728.1 430.7 730.2 431.8 732.3 433.1 734.4 435.1 736.5 436.7 738.6 438.1 740.7 440.0 742.8 441.1 744.9 441.7 747.0 442.5 749.0 444.4 751.1 447.2 753.2 449.5 755.3 451.9 757.4 454.7 759.5 456.6 761.6 456.5 763.7 457.0 765.8 458.2 767.9 460.1 770.0 461.6 772.1 462.3 774.2 463.0 776.3 463.2 778.3 464.4 780.4 464.9 782.5 464.7 784.6 465.5 786.7 466.2 788.8 466.9 790.9 468.4 793.0 469.2 795.1 468.2 797.2 467.7 799.3 468.9 801.4 470.2 803.5 470.6 805.6 471.1 807.7 472.6 809.7 473.2 811.8 472.6 813.9 472.7 816.0 473.3 818.1 473.5 820.2 474.8 822.3 475.7 824.4 475.5 826.5 475.4 828.6 474.9 830.7 476.3 832.8 478.7" stroke="#ff0000"/>
<path d="M73.8 348.6 75.9 350.1 78.0 350.8 80.1 350.2 82.2 351.2 84.3 351.8 86.4 351.0 88.5 351.6 90.5 352.5 92.6 352.8 94.7 352.6 96.8 352.3 98.9 353.0 101.0 352.6 103.1 351.2 105.2 350.9 107.3 351.3 109.4 351.7 111.5 351.8 113.6 352.0 115.7 351.7 117.8 350.9 119.8 350.5 121.9 350.3 124.0 351.0 126.1 351.7 128.2 350.8 130.3 350.7 132.4 351.4 134.5 351.1 136.6 351.2 138.7 351.8 140.8 352.4 142.9 353.2 145.0 354.6 147.1 355.5 149.1 355.2 151.2 355.0 153.3 355.2 155.4 355.6 157.5 355.2 159.6 353.6 161.7 353.4 163.8 353.3 165.9 352.1 168.0 351.7 170.1 352.4 172.2 352.2 174.3 352.3 176.4 352.6 178.5 351.9 180.5 351.4 182.6 351.4 184.7 351.0 186.8 350.1 188.9 348.5 191.0 346.6 193.1 345.8 195.2 345.7 197.3 345.2 199.4 344.7 201.5 343.3 203.6 341.1 205.7 339.5 207.8 338.3 209.8 337.2 211.9 336.3 214.0 335.3 216.1 335.2 218.2 335.3 220.3 333.0 222.4 330.7 224.5 330.3 226.6 330.0 228.7 328.7 230.8 327.4 232.9 327.0 235.0 327.4 237.1 325.8 239.1 323.6 241.2 322.8 243.3 321.4 245.4 321.0 247.5 320.4 249.6 319.1 251.7 318.5 253.8 318.0 255.9 317.4 258.0 317.4 260.1 317.2 262.2 316.3 264.3 315.4 266.4 315.3 268.4 315.4 270.5 315.1 272.6 313.5 274.7 311.1 276.8 309.3 278.9 308.3 281.0 307.2 283.1 306.1 285.2 305.0 287.3 303.5 289.4 301.4 291.5 298.9 293.6 296.9 295.7 295.1 297.8 294.0 299.8 292.6 301.9 290.4 304.0 288.6 306.1 287.1 308.2 285.5 310.3 282.7 312.4 280.4 314.5 280.1 316.6 278.7 318.7 275.8 320.8 273.8 322.9 272.5 325.0 270.6 327.1 268.6 329.1 266.8 331.2 265.8 333.3 265.9 335.4 265.0 337.5 262.0 339.6 259.1 341.7 258.1 343.8 257.6 345.9 256.2 348.0 254.0 350.1 252.3 352.2 251.2 354.3 250.2 356.4 249.0 358.4 247.6 360.5 245.7 362.6 243.7 364.7 242.5 366.8 242.2 368.9 241.0 371.0 238.6 373.1 237.9 375.2 238.1 377.3 237.1 379.4 235.7 381.5 233.8 383.6 232.2 385.7 231.5 387.8 231.0 389.8 230.6 391.9 228.9 394.0 226.4 396.1 224.7 398.2 223.6 400.3 223.2 402.4 222.9 404.5 221.5 406.6 221.1 408.7 221.5 410.8 220.4 412.9 218.4 415.0 215.8 417.1 214.6 419.1 214.5 421.2 212.7 423.3 210.6 425.4 208.9 427.5 206.5 429.6 203.9 431.7 203.2 433.8 203.2 435.9 201.4 438.0 199.4 440.1 197.9 442.2 197.3 444.3 196.8 446.4 195.4 448.4 194.4 450.5 194.6 452.6 194.8 454.7 194.0 456.8 192.5 458.9 191.0 461.0 190.5 463.1 190.4 465.2 189.8 467.3 189.8 469.4 189.7 471.5 188.2 473.6 185.7 475.7 184.4 477.7 184.8 479.8 184.5 481.9 183.4 484.0 183.0 486.1 184.0 488.2 184.5 490.3 183.2 492.4 182.0 494.5 181.6 496.6 181.8 498.7 182.4 500.8 182.7 502.9 182.9 505.0 182.3 507.1 181.3 509.1 181.5 511.2 183.4 513.3 184.8 515.4 184.2 517.5 182.9 519.6 182.7 521.7 183.4 523.8 183.4 525.9 183.7 528.0 184.0 530.1 183.6 532.2 183.0 534.3 182.7 536.4 182.6 538.4 182.1 540.5 184.4 542.6 187.6 544.7 188.2 546.8 188.3 548.9 189.5 551.0 191.2 553.1 193.2 555.2 195.0 557.3 196.6 559.4 196.7 561.5 196.0 563.6 196.8 565.7 197.7 567.7 198.4 569.8 199.9 571.9 201.2 574.0 201.7 576.1 202.4 578.2 203.3 580.3 204.3 582.4 206.3 584.5 209.5 586.6 212.4 588.7 213.3 590.8 213.6 592.9 214.4 595.0 215.4 597.1 218.0 599.1 221.2 601.2 222.2 603.3 222.3 605.4 223.3 607.5 225.2 609.6 227.3 611.7 229.4 613.8 230.7 615.9 231.4 618.0 232.2 620.1 232.9 622.2 234.5 624.3 236.6 626.4 239.0 628.4 240.5 630.5 240.8 632.6 241.2 634.7 242.3 636.8 243.3 638.9 243.8 641.0 245.1 643.1 246.6 645.2 247.2 647.3 248.4 649.4 249.7 651.5 250.1 653.6 252.1 655.7 255.3 657.7 256.5 659.8 256.9 661.9 259.2 664.0 262.3 666.1 263.2 668.2 263.5 670.3 265.3 672.4 267.3 674.5 268.1 676.6 269.2 678.7 271.6 680.8 273.7 682.9 275.2 685.0 277.3 687.0 279.0 689.1 280.6 691.2 281.7 693.3 282.2 695.4 284.0 697.5 286.1 699.6 288.4 701.7 290.5 703.8 291.2 705.9 291.7 708.0 291.8 710.1 291.3 712.2 292.7 714.3 294.7 716.4 295.3 718.4 296.7 720.5 298.8 722.6 299.6 724.7 301.6 726.8 304.0 728.9 304.1 731.0 304.3 733.1 305.7 735.2 307.9 737.3 309.3 739.4 310.9 741.5 314.2 743.6 315.8 745.7 316.4 747.7 318.2 749.8 320.1 751.9 321.0 754.0 323.3 756.1 326.1 758.2 326.1 760.3 326.3 762.4 327.6 764.5 328.1 766.6 328.9 768.7 330.4 770.8 331.7 772.9 333.3 775.0 334.7 777.0 335.2 779.1 336.1 781.2 337.1 783.3 336.3 785.4 335.6 787.5 336.4 789.6 338.1 791.7 340.1 793.8 340.9 795.9 341.2 798.0 341.7 800.1 342.2 802.2 343.7 804.3 345.3 806.4 346.0 808.4 346.1 810.5 346.5 812.6 346.6 814.7 346.2 816.8 346.4 818.9 346.2 821.0 346.6 823.1 347.6 825.2 347.7 827.3 348.0 829.4 348.1 831.5 347.8" stroke="#000"/>
<path d="M75.1 489.4 77.2 488.8 79.3 487.7 81.4 487.1 83.5 485.6 85.6 484.3 87.7 484.2 89.8 484.2 91.8 483.5 93.9 481.2 96.0 480.0 98.1 480.1 100.2 479.9 102.3 478.9 104.4 477.4 106.5 476.6 108.6 475.7 110.7 473.8 112.8 472.5 114.9 471.7 117.0 472.0 119.1 473.1 121.1 472.5 123.2 471.9 125.3 473.1 127.4 473.3 129.5 472.9 131.6 472.4 133.7 471.4 135.8 471.0 137.9 471.6 140.0 472.0 142.1 471.7 144.2 472.7 146.3 474.4 148.4 474.0 150.4 472.1 152.5 471.6 154.6 472.5 156.7 473.1 158.8 474.5 160.9 475.7 163.0 474.7 165.1 472.6 167.2 472.0 169.3 472.5 171.4 472.6 173.5 472.9 175.6 473.5 177.7 473.5 179.8 472.4 181.8 471.3 183.9 470.0 186.0 468.2 188.1 467.0 190.2 466.3 192.3 465.0 194.4 463.2 196.5 461.5 198.6 459.3 200.7 457.4 202.8 456.3 204.9 454.7 207.0 453.4 209.1 451.1 211.1 447.6 213.2 444.5 215.3 442.4 217.4 440.7 219.5 439.2 221.6 437.1 223.7 434.4 225.8 432.3 227.9 431.1 230.0 430.1 232.1 428.6 234.2 427.2 236.3 425.7 238.4 423.7 240.4 421.9 242.5 420.7 244.6 420.0 246.7 420.1 248.8 419.6 250.9 418.6 253.0 418.2 255.1 417.8 257.2 417.4 259.3 416.3 261.4 415.2 263.5 415.2 265.6 414.8 267.7 413.1 269.7 411.2 271.8 409.8 273.9 408.4 276.0 405.9 278.1 404.1 280.2 403.7 282.3 403.6 284.4 403.9 286.5 402.8 288.6 400.7 290.7 401.1 292.8 403.1 294.9 402.6 297.0 399.1 299.1 396.6 301.1 396.4 303.2 396.4 305.3 396.3 307.4 395.9 309.5 393.6 311.6 391.4 313.7 389.6 315.8 387.0 317.9 386.1 320.0 386.0 322.1 383.6 324.2 379.5 326.3 377.2 328.4 376.6 330.4 374.5 332.5 372.0 334.6 370.3 336.7 368.5 338.8 366.4 340.9 363.9 343.0 361.4 345.1 359.6 347.2 358.4 349.3 357.2 351.4 356.1 353.5 355.4 355.6 354.4 357.7 353.3 359.7 352.2 361.8 351.1 363.9 349.3 366.0 346.1 368.1 343.8 370.2 342.5 372.3 340.0 374.4 338.0 376.5 336.7 378.6 335.7 380.7 335.0 382.8 332.7 384.9 330.3 387.0 329.2 389.1 327.1 391.1 324.6 393.2 322.9 395.3 320.9 397.4 318.7 399.5 316.7 401.6 314.8 403.7 313.6 405.8 312.5 407.9 311.1 410.0 310.4 412.1 309.7 414.2 308.9 416.3 307.5 418.4 306.2 420.4 305.0 422.5 303.4 424.6 302.6 426.7 303.1 428.8 302.9 430.9 301.1 433.0 298.4 435.1 296.1 437.2 294.6 439.3 293.3 441.4 291.9 443.5 290.3 445.6 288.3 447.7 286.4 449.7 285.3 451.8 285.5 453.9 285.2 456.0 283.6 458.1 283.0 460.2 283.2 462.3 282.5 464.4 280.9 466.5 278.7 468.6 276.8 470.7 276.4 472.8 277.6 474.9 276.7 477.0 274.4 479.0 273.9 481.1 273.8 483.2 272.4 485.3 270.1 487.4 269.2 489.5 270.0 491.6 270.5 493.7 269.9 495.8 268.9 497.9 268.6 500.0 269.0 502.1 268.7 504.2 267.7 506.3 267.1 508.4 266.7 510.4 266.2 512.5 266.7 514.6 267.2 516.7 266.9 518.8 267.3 520.9 266.6 523.0 264.6 525.1 264.1 527.2 264.6 529.3 264.2 531.4 265.2 533.5 267.4 535.6 267.5 537.7 267.5 539.7 269.1 541.8 270.5 543.9 272.1 546.0 273.9 548.1 274.1 550.2 274.0 552.3 274.8 554.4 276.4 556.5 277.8 558.6 277.7 560.7 277.2 562.8 277.8 564.9 279.4 567.0 280.8 569.0 281.4 571.1 282.2 573.2 283.2 575.3 283.7 577.4 285.1 579.5 287.2 581.6 287.9 583.7 288.6 585.8 291.2 587.9 294.0 590.0 295.5 592.1 295.8 594.2 296.6 596.3 298.4 598.4 300.0 600.4 301.3 602.5 302.8 604.6 305.0 606.7 307.3 608.8 308.5 610.9 309.4 613.0 310.5 615.1 311.0 617.2 312.8 619.3 316.2 621.4 317.4 623.5 317.1 625.6 318.0 627.7 319.4 629.7 321.6 631.8 323.1 633.9 324.0 636.0 327.5 638.1 331.0 640.2 333.2 642.3 335.9 644.4 338.3 646.5 340.5 648.6 343.1 650.7 345.3 652.8 347.0 654.9 348.4 657.0 350.8 659.0 354.6 661.1 358.5 663.2 362.5 665.3 367.5 667.4 369.9 669.5 370.7 671.6 372.0 673.7 373.7 675.8 375.8 677.9 379.0 680.0 381.9 682.1 382.4 684.2 382.9 686.3 384.8 688.3 386.4 690.4 387.4 692.5 388.7 694.6 390.3 696.7 391.9 698.8 392.9 700.9 394.7 703.0 397.1 705.1 398.9 707.2 400.7 709.3 403.6 711.4 406.1 713.5 407.0 715.6 408.8 717.7 411.4 719.7 413.1 721.8 415.1 723.9 417.0 726.0 418.3 728.1 420.6 730.2 423.0 732.3 425.0 734.4 427.1 736.5 427.8 738.6 428.2 740.7 430.3 742.8 433.6 744.9 435.8 747.0 436.2 749.0 437.9 751.1 441.9 753.2 444.6 755.3 446.2 757.4 447.5 759.5 448.8 761.6 451.3 763.7 453.0 765.8 453.3 767.9 453.4 770.0 453.7 772.1 454.0 774.2 455.2 776.3 456.4 778.3 456.5 780.4 456.9 782.5 458.2 784.6 460.7 786.7 462.7 788.8 463.4 790.9 464.0 793.0 465.0 795.1 465.3 797.2 465.9 799.3 468.5 801.4 470.2 803.5 469.7 805.6 470.5 807.7 474.5 809.7 478.5 811.8 479.3 813.9 479.8 816.0 482.0 818.1 483.5 820.2 483.7 822.3 483.5 824.4 483.4 826.5 483.8 828.6 485.0 830.7 485.9 832.8 485.9" stroke="#000"/>
</g>
<g clip-path="url(#cb)" fill="none" stroke-width="3.6" stroke-linejoin="round" stroke-linecap="butt">
<path d="M1007.6 356.3 1009.3 356.8 1011.1 356.4 1012.8 357.0 1014.5 357.8 1016.3 357.4 1018.0 357.9 1019.7 358.0 1021.5 358.0 1023.2 358.9 1024.9 358.6 1026.7 358.3 1028.4 358.9 1030.1 358.1 1031.9 356.6 1033.6 355.7 1035.3 355.9 1037.1 357.4 1038.8 357.6 1040.5 356.9 1042.2 357.1 1044.0 356.4 1045.7 354.8 1047.4 354.6 1049.2 356.0 1050.9 356.3 1052.6 355.1 1054.4 354.9 1056.1 355.3 1057.8 355.3 1059.6 355.5 1061.3 356.8 1063.0 357.5 1064.8 356.5 1066.5 356.2 1068.2 356.6 1070.0 356.7 1071.7 357.4 1073.4 357.3 1075.2 356.2 1076.9 356.4 1078.6 356.6 1080.4 356.2 1082.1 356.1 1083.8 356.5 1085.6 357.0 1087.3 356.8 1089.0 356.6 1090.8 356.9 1092.5 356.7 1094.2 356.7 1096.0 356.7 1097.7 355.9 1099.4 354.8 1101.2 354.8 1102.9 354.6 1104.6 354.3 1106.4 354.4 1108.1 353.1 1109.8 352.1 1111.5 350.7 1113.3 348.1 1115.0 346.7 1116.7 346.1 1118.5 345.4 1120.2 345.0 1121.9 344.8 1123.7 343.8 1125.4 343.3 1127.1 344.2 1128.9 343.4 1130.6 342.6 1132.3 342.0 1134.1 340.1 1135.8 339.5 1137.5 340.2 1139.3 340.0 1141.0 338.8 1142.7 336.4 1144.5 333.5 1146.2 332.8 1147.9 332.6 1149.7 330.7 1151.4 328.8 1153.1 327.8 1154.9 326.6 1156.6 325.0 1158.3 323.4 1160.1 322.3 1161.8 320.2 1163.5 317.5 1165.3 315.2 1167.0 313.3 1168.7 311.5 1170.5 309.4 1172.2 306.8 1173.9 303.9 1175.7 301.6 1177.4 299.9 1179.1 297.8 1180.8 294.3 1182.6 291.0 1184.3 288.1 1186.0 284.9 1187.8 282.4 1189.5 279.5 1191.2 276.0 1193.0 273.7 1194.7 272.3 1196.4 269.4 1198.2 266.8 1199.9 265.3 1201.6 261.8 1203.4 257.6 1205.1 256.5 1206.8 256.2 1208.6 253.2 1210.3 250.4 1212.0 248.7 1213.8 246.6 1215.5 243.9 1217.2 242.0 1219.0 240.8 1220.7 238.0 1222.4 234.5 1224.2 232.5 1225.9 231.1 1227.6 229.1 1229.4 226.6 1231.1 223.8 1232.8 221.5 1234.6 220.5 1236.3 219.1 1238.0 216.8 1239.8 215.2 1241.5 214.1 1243.2 211.9 1245.0 207.9 1246.7 203.6 1248.4 201.8 1250.1 201.3 1251.9 200.0 1253.6 197.8 1255.3 195.3 1257.1 194.0 1258.8 192.5 1260.5 189.9 1262.3 189.0 1264.0 189.3 1265.7 188.5 1267.5 187.0 1269.2 185.8 1270.9 184.8 1272.7 183.8 1274.4 182.9 1276.1 182.6 1277.9 182.0 1279.6 181.2 1281.3 180.5 1283.1 179.1 1284.8 178.0 1286.5 178.5 1288.3 179.2 1290.0 178.2 1291.7 176.5 1293.5 174.5 1295.2 173.1 1296.9 173.0 1298.7 172.7 1300.4 171.7 1302.1 171.1 1303.9 170.9 1305.6 169.4 1307.3 166.6 1309.1 165.1 1310.8 164.2 1312.5 161.8 1314.3 159.3 1316.0 158.2 1317.7 158.3 1319.4 157.3 1321.2 155.5 1322.9 154.7 1324.6 154.8 1326.4 154.5 1328.1 152.5 1329.8 151.4 1331.6 152.2 1333.3 151.8 1335.0 150.0 1336.8 149.3 1338.5 149.7 1340.2 149.8 1342.0 149.8 1343.7 149.7 1345.4 148.8 1347.2 146.6 1348.9 144.5 1350.6 144.2 1352.4 144.1 1354.1 143.2 1355.8 144.1 1357.6 146.5 1359.3 147.0 1361.0 146.3 1362.8 146.4 1364.5 146.5 1366.2 146.0 1368.0 146.4 1369.7 146.9 1371.4 145.9 1373.2 145.7 1374.9 147.2 1376.6 148.1 1378.4 147.5 1380.1 147.5 1381.8 149.0 1383.6 151.0 1385.3 152.4 1387.0 153.9 1388.7 155.6 1390.5 157.6 1392.2 159.1 1393.9 160.1 1395.7 161.6 1397.4 162.6 1399.1 163.8 1400.9 165.9 1402.6 167.6 1404.3 169.7 1406.1 171.7 1407.8 172.7 1409.5 173.8 1411.3 176.1 1413.0 178.0 1414.7 178.6 1416.5 179.5 1418.2 181.4 1419.9 182.5 1421.7 183.1 1423.4 185.1 1425.1 186.9 1426.9 187.2 1428.6 188.2 1430.3 190.1 1432.1 191.2 1433.8 191.5 1435.5 192.1 1437.3 194.0 1439.0 195.1 1440.7 194.9 1442.5 195.9 1444.2 197.6 1445.9 199.6 1447.7 203.3 1449.4 207.6 1451.1 211.9 1452.9 215.3 1454.6 217.4 1456.3 218.8 1458.0 221.5 1459.8 224.4 1461.5 225.7 1463.2 227.2 1465.0 229.5 1466.7 230.4 1468.4 230.3 1470.2 231.6 1471.9 234.4 1473.6 236.3 1475.4 237.0 1477.1 239.2 1478.8 242.1 1480.6 242.8 1482.3 243.1 1484.0 245.0 1485.8 247.2 1487.5 249.1 1489.2 251.1 1491.0 252.2 1492.7 253.1 1494.4 255.4 1496.2 256.9 1497.9 256.0 1499.6 256.1 1501.4 259.0 1503.1 262.0 1504.8 263.5 1506.6 264.4 1508.3 265.6 1510.0 266.5 1511.8 267.7 1513.5 270.0 1515.2 272.2 1517.0 272.8 1518.7 273.8 1520.4 276.2 1522.2 278.1 1523.9 279.0 1525.6 280.1 1527.3 282.2 1529.1 284.2 1530.8 285.8 1532.5 287.3 1534.3 289.7 1536.0 292.7 1537.7 294.2 1539.5 295.8 1541.2 298.1 1542.9 300.0 1544.7 301.7 1546.4 304.2 1548.1 306.6 1549.9 308.2 1551.6 310.2 1553.3 312.2 1555.1 312.2 1556.8 313.1 1558.5 316.4 1560.3 318.5 1562.0 319.3 1563.7 321.7 1565.5 324.3 1567.2 325.2 1568.9 325.4 1570.7 326.4 1572.4 327.5 1574.1 328.3 1575.9 330.1 1577.6 332.5 1579.3 334.4 1581.1 336.1 1582.8 338.0 1584.5 339.8 1586.3 341.4 1588.0 342.9 1589.7 344.0 1591.5 344.5 1593.2 345.3 1594.9 347.3 1596.6 348.7 1598.4 350.2 1600.1 352.7 1601.8 353.4 1603.6 352.5 1605.3 353.4 1607.0 355.0 1608.8 354.8 1610.5 354.8 1612.2 355.5 1614.0 355.7 1615.7 356.3 1617.4 356.1 1619.2 355.9 1620.9 355.8 1622.6 355.0 1624.4 355.6 1626.1 355.5 1627.8 354.8 1629.6 355.7 1631.3 356.2 1633.0 356.5 1634.8 356.7 1636.5 357.0 1638.2 356.9" stroke="#0000ff"/>
<path d="M1007.6 533.2 1009.3 533.2 1011.1 532.5 1012.8 532.2 1014.5 532.7 1016.3 533.0 1018.0 533.6 1019.7 533.9 1021.5 532.8 1023.2 533.2 1024.9 535.0 1026.7 534.8 1028.4 534.0 1030.1 534.1 1031.9 533.8 1033.6 532.9 1035.3 532.3 1037.1 531.9 1038.8 532.9 1040.5 533.7 1042.2 533.0 1044.0 533.6 1045.7 534.5 1047.4 532.9 1049.2 531.8 1050.9 532.8 1052.6 533.1 1054.4 532.9 1056.1 532.7 1057.8 532.0 1059.6 531.9 1061.3 532.0 1063.0 531.7 1064.8 531.7 1066.5 531.6 1068.2 531.0 1070.0 530.6 1071.7 530.0 1073.4 529.5 1075.2 529.9 1076.9 529.3 1078.6 527.6 1080.4 526.5 1082.1 526.8 1083.8 527.7 1085.6 528.2 1087.3 527.6 1089.0 525.5 1090.8 523.0 1092.5 521.0 1094.2 519.1 1096.0 517.5 1097.7 515.9 1099.4 513.6 1101.2 511.1 1102.9 508.2 1104.6 504.3 1106.4 500.9 1108.1 499.2 1109.8 496.7 1111.5 492.6 1113.3 490.5 1115.0 490.7 1116.7 490.3 1118.5 488.7 1120.2 487.5 1121.9 487.3 1123.7 487.4 1125.4 487.1 1127.1 486.0 1128.9 484.9 1130.6 484.7 1132.3 484.1 1134.1 482.7 1135.8 481.5 1137.5 481.8 1139.3 481.9 1141.0 479.7 1142.7 476.3 1144.5 473.2 1146.2 471.1 1147.9 470.2 1149.7 468.2 1151.4 465.8 1153.1 463.9 1154.9 461.0 1156.6 458.1 1158.3 455.3 1160.1 452.5 1161.8 450.0 1163.5 447.4 1165.3 444.7 1167.0 442.3 1168.7 440.4 1170.5 438.3 1172.2 435.7 1173.9 432.2 1175.7 428.7 1177.4 426.1 1179.1 422.7 1180.8 418.8 1182.6 415.8 1184.3 412.4 1186.0 408.5 1187.8 404.6 1189.5 401.7 1191.2 399.1 1193.0 396.0 1194.7 393.0 1196.4 390.3 1198.2 388.7 1199.9 388.1 1201.6 387.4 1203.4 386.3 1205.1 384.7 1206.8 382.8 1208.6 379.9 1210.3 377.8 1212.0 377.4 1213.8 376.7 1215.5 374.0 1217.2 370.6 1219.0 368.7 1220.7 367.2 1222.4 365.7 1224.2 364.1 1225.9 360.5 1227.6 357.3 1229.4 356.1 1231.1 354.1 1232.8 351.2 1234.6 348.2 1236.3 345.3 1238.0 342.8 1239.8 341.4 1241.5 340.9 1243.2 339.3 1245.0 336.9 1246.7 334.0 1248.4 330.9 1250.1 328.4 1251.9 326.6 1253.6 324.6 1255.3 322.7 1257.1 321.7 1258.8 319.7 1260.5 317.2 1262.3 315.1 1264.0 312.8 1265.7 310.7 1267.5 308.7 1269.2 306.8 1270.9 305.0 1272.7 302.0 1274.4 298.2 1276.1 295.2 1277.9 292.6 1279.6 290.9 1281.3 289.7 1283.1 286.7 1284.8 283.9 1286.5 282.6 1288.3 280.0 1290.0 277.4 1291.7 275.5 1293.5 273.2 1295.2 270.8 1296.9 268.9 1298.7 267.3 1300.4 265.5 1302.1 263.2 1303.9 260.7 1305.6 259.0 1307.3 257.2 1309.1 256.2 1310.8 255.9 1312.5 254.7 1314.3 253.1 1316.0 251.9 1317.7 251.7 1319.4 251.8 1321.2 251.3 1322.9 249.8 1324.6 248.2 1326.4 247.3 1328.1 245.9 1329.8 242.9 1331.6 240.7 1333.3 240.5 1335.0 239.2 1336.8 238.1 1338.5 238.1 1340.2 236.3 1342.0 234.6 1343.7 235.1 1345.4 234.7 1347.2 232.0 1348.9 229.6 1350.6 229.4 1352.4 228.8 1354.1 228.3 1355.8 228.6 1357.6 228.4 1359.3 229.1 1361.0 229.0 1362.8 226.6 1364.5 225.1 1366.2 226.4 1368.0 228.2 1369.7 228.2 1371.4 228.2 1373.2 229.0 1374.9 229.2 1376.6 229.1 1378.4 228.8 1380.1 229.7 1381.8 230.2 1383.6 229.4 1385.3 230.2 1387.0 232.1 1388.7 234.7 1390.5 237.8 1392.2 240.4 1393.9 241.7 1395.7 242.7 1397.4 243.9 1399.1 246.0 1400.9 248.8 1402.6 250.7 1404.3 252.3 1406.1 255.0 1407.8 257.6 1409.5 259.3 1411.3 261.1 1413.0 262.3 1414.7 263.9 1416.5 266.7 1418.2 269.1 1419.9 270.9 1421.7 271.7 1423.4 272.5 1425.1 275.2 1426.9 278.7 1428.6 280.9 1430.3 282.1 1432.1 284.5 1433.8 287.2 1435.5 288.9 1437.3 291.1 1439.0 294.6 1440.7 297.5 1442.5 298.7 1444.2 299.7 1445.9 301.7 1447.7 304.7 1449.4 306.7 1451.1 308.3 1452.9 311.3 1454.6 312.7 1456.3 313.4 1458.0 314.1 1459.8 314.7 1461.5 316.4 1463.2 318.4 1465.0 319.1 1466.7 319.3 1468.4 321.3 1470.2 324.2 1471.9 325.8 1473.6 327.4 1475.4 330.0 1477.1 331.9 1478.8 334.2 1480.6 337.9 1482.3 340.0 1484.0 341.1 1485.8 343.9 1487.5 347.1 1489.2 349.4 1491.0 352.5 1492.7 356.0 1494.4 357.8 1496.2 359.4 1497.9 361.3 1499.6 362.6 1501.4 364.6 1503.1 367.5 1504.8 369.1 1506.6 370.5 1508.3 372.9 1510.0 375.3 1511.8 378.0 1513.5 380.2 1515.2 381.9 1517.0 383.7 1518.7 384.8 1520.4 387.2 1522.2 391.0 1523.9 393.1 1525.6 394.0 1527.3 395.2 1529.1 397.3 1530.8 399.5 1532.5 401.8 1534.3 405.1 1536.0 408.1 1537.7 410.4 1539.5 412.7 1541.2 415.0 1542.9 418.2 1544.7 421.7 1546.4 424.6 1548.1 427.3 1549.9 428.7 1551.6 428.9 1553.3 430.5 1555.1 434.0 1556.8 436.8 1558.5 438.7 1560.3 441.8 1562.0 444.7 1563.7 446.1 1565.5 447.3 1567.2 448.9 1568.9 451.0 1570.7 453.1 1572.4 455.6 1574.1 458.2 1575.9 460.9 1577.6 463.7 1579.3 465.7 1581.1 467.7 1582.8 470.4 1584.5 474.3 1586.3 479.9 1588.0 483.6 1589.7 484.2 1591.5 484.8 1593.2 487.6 1594.9 491.4 1596.6 494.0 1598.4 495.6 1600.1 498.4 1601.8 501.5 1603.6 503.2 1605.3 504.9 1607.0 507.1 1608.8 507.6 1610.5 509.1 1612.2 512.2 1614.0 513.7 1615.7 514.0 1617.4 514.9 1619.2 518.8 1620.9 522.1 1622.6 522.1 1624.4 522.9 1626.1 525.1 1627.8 527.0 1629.6 528.2 1631.3 528.3 1633.0 528.0 1634.8 528.2 1636.5 530.3 1638.2 532.8" stroke="#0000ff"/>
<path d="M1007.6 351.4 1009.3 352.3 1011.1 353.9 1012.8 354.8 1014.5 354.9 1016.3 355.4 1018.0 356.7 1019.7 357.0 1021.5 355.7 1023.2 355.1 1024.9 356.2 1026.7 357.8 1028.4 358.4 1030.1 357.8 1031.9 357.4 1033.6 356.8 1035.3 357.5 1037.1 359.1 1038.8 359.1 1040.5 358.1 1042.2 358.5 1044.0 360.1 1045.7 360.0 1047.4 358.6 1049.2 358.4 1050.9 359.4 1052.6 360.3 1054.4 360.9 1056.1 361.4 1057.8 360.7 1059.6 359.1 1061.3 358.6 1063.0 359.8 1064.8 360.5 1066.5 360.3 1068.2 359.8 1070.0 359.5 1071.7 359.7 1073.4 359.2 1075.2 358.4 1076.9 359.5 1078.6 360.7 1080.4 360.4 1082.1 359.9 1083.8 359.4 1085.6 359.4 1087.3 358.7 1089.0 357.1 1090.8 356.5 1092.5 356.5 1094.2 356.9 1096.0 357.3 1097.7 357.8 1099.4 357.6 1101.2 357.0 1102.9 356.9 1104.6 356.4 1106.4 355.3 1108.1 353.8 1109.8 352.4 1111.5 351.3 1113.3 350.3 1115.0 350.4 1116.7 349.8 1118.5 347.7 1120.2 346.7 1121.9 346.1 1123.7 344.4 1125.4 343.8 1127.1 343.9 1128.9 343.3 1130.6 343.0 1132.3 342.2 1134.1 340.5 1135.8 339.2 1137.5 337.8 1139.3 335.7 1141.0 334.6 1142.7 333.8 1144.5 332.7 1146.2 331.8 1147.9 330.7 1149.7 329.6 1151.4 328.4 1153.1 326.6 1154.9 324.8 1156.6 324.1 1158.3 323.6 1160.1 321.9 1161.8 319.4 1163.5 316.7 1165.3 314.9 1167.0 314.2 1168.7 313.0 1170.5 311.6 1172.2 309.6 1173.9 306.6 1175.7 305.1 1177.4 303.7 1179.1 300.7 1180.8 298.5 1182.6 297.1 1184.3 295.0 1186.0 292.4 1187.8 289.5 1189.5 287.9 1191.2 286.3 1193.0 283.9 1194.7 282.2 1196.4 279.9 1198.2 276.7 1199.9 273.0 1201.6 269.2 1203.4 266.1 1205.1 263.8 1206.8 262.1 1208.6 260.1 1210.3 257.5 1212.0 255.1 1213.8 252.5 1215.5 248.9 1217.2 246.9 1219.0 246.4 1220.7 244.8 1222.4 242.9 1224.2 240.0 1225.9 236.1 1227.6 234.1 1229.4 233.0 1231.1 232.2 1232.8 231.4 1234.6 228.7 1236.3 225.5 1238.0 223.9 1239.8 223.4 1241.5 222.8 1243.2 221.7 1245.0 219.6 1246.7 217.2 1248.4 215.7 1250.1 214.7 1251.9 213.3 1253.6 211.6 1255.3 210.9 1257.1 210.7 1258.8 208.7 1260.5 205.7 1262.3 204.3 1264.0 203.1 1265.7 201.6 1267.5 199.7 1269.2 197.6 1270.9 197.3 1272.7 197.3 1274.4 196.1 1276.1 195.2 1277.9 194.0 1279.6 192.6 1281.3 191.6 1283.1 190.0 1284.8 188.2 1286.5 187.5 1288.3 187.0 1290.0 185.7 1291.7 183.9 1293.5 182.4 1295.2 180.8 1296.9 179.7 1298.7 178.1 1300.4 176.8 1302.1 175.8 1303.9 173.3 1305.6 170.4 1307.3 168.9 1309.1 168.8 1310.8 168.5 1312.5 167.7 1314.3 167.0 1316.0 165.7 1317.7 164.2 1319.4 164.4 1321.2 165.5 1322.9 164.7 1324.6 162.9 1326.4 161.4 1328.1 159.9 1329.8 159.2 1331.6 159.8 1333.3 160.7 1335.0 160.8 1336.8 160.0 1338.5 158.6 1340.2 158.8 1342.0 159.8 1343.7 158.2 1345.4 156.3 1347.2 156.9 1348.9 158.2 1350.6 158.3 1352.4 157.5 1354.1 157.2 1355.8 156.7 1357.6 157.0 1359.3 158.2 1361.0 158.6 1362.8 160.0 1364.5 162.0 1366.2 162.5 1368.0 162.0 1369.7 162.2 1371.4 163.5 1373.2 164.8 1374.9 166.1 1376.6 166.8 1378.4 166.1 1380.1 165.2 1381.8 166.2 1383.6 167.5 1385.3 167.8 1387.0 169.6 1388.7 170.8 1390.5 169.8 1392.2 170.1 1393.9 170.9 1395.7 171.4 1397.4 172.1 1399.1 172.4 1400.9 172.5 1402.6 174.2 1404.3 176.8 1406.1 177.6 1407.8 178.0 1409.5 178.6 1411.3 179.1 1413.0 180.5 1414.7 182.3 1416.5 183.4 1418.2 184.7 1419.9 186.8 1421.7 190.0 1423.4 192.7 1425.1 194.2 1426.9 194.8 1428.6 194.6 1430.3 195.4 1432.1 197.2 1433.8 197.8 1435.5 198.2 1437.3 201.0 1439.0 203.7 1440.7 204.8 1442.5 205.7 1444.2 206.6 1445.9 207.8 1447.7 209.4 1449.4 211.3 1451.1 213.2 1452.9 214.7 1454.6 216.3 1456.3 219.0 1458.0 221.5 1459.8 222.5 1461.5 223.7 1463.2 225.5 1465.0 226.6 1466.7 228.4 1468.4 231.2 1470.2 233.0 1471.9 234.1 1473.6 235.7 1475.4 237.8 1477.1 238.6 1478.8 238.8 1480.6 240.9 1482.3 243.2 1484.0 243.8 1485.8 244.8 1487.5 246.8 1489.2 248.7 1491.0 249.1 1492.7 249.2 1494.4 250.9 1496.2 253.1 1497.9 254.5 1499.6 255.2 1501.4 256.8 1503.1 259.6 1504.8 260.9 1506.6 262.6 1508.3 264.3 1510.0 264.5 1511.8 265.6 1513.5 267.6 1515.2 269.9 1517.0 271.3 1518.7 271.7 1520.4 273.5 1522.2 276.3 1523.9 278.6 1525.6 280.0 1527.3 281.2 1529.1 283.0 1530.8 285.1 1532.5 286.1 1534.3 286.9 1536.0 288.9 1537.7 289.8 1539.5 290.5 1541.2 292.6 1542.9 294.7 1544.7 296.9 1546.4 299.4 1548.1 300.8 1549.9 301.6 1551.6 303.2 1553.3 304.2 1555.1 304.8 1556.8 305.2 1558.5 306.2 1560.3 308.7 1562.0 310.9 1563.7 312.3 1565.5 313.7 1567.2 315.1 1568.9 316.6 1570.7 317.9 1572.4 318.6 1574.1 319.9 1575.9 322.1 1577.6 323.6 1579.3 324.7 1581.1 326.0 1582.8 327.3 1584.5 328.3 1586.3 327.9 1588.0 328.6 1589.7 330.9 1591.5 333.3 1593.2 335.2 1594.9 335.7 1596.6 335.0 1598.4 335.0 1600.1 335.7 1601.8 336.5 1603.6 337.3 1605.3 337.7 1607.0 339.2 1608.8 340.7 1610.5 341.1 1612.2 341.7 1614.0 341.7 1615.7 341.3 1617.4 342.2 1619.2 343.3 1620.9 343.5 1622.6 343.6 1624.4 343.8 1626.1 344.3 1627.8 345.3 1629.6 346.2 1631.3 347.2 1633.0 348.2 1634.8 349.1 1636.5 350.1 1638.2 350.8" stroke="#ff0000"/>
<path d="M1007.6 491.6 1009.3 492.9 1011.1 493.5 1012.8 494.6 1014.5 496.5 1016.3 498.8 1018.0 500.6 1019.7 500.3 1021.5 499.8 1023.2 499.9 1024.9 499.5 1026.7 498.5 1028.4 498.0 1030.1 499.5 1031.9 500.7 1033.6 499.9 1035.3 499.8 1037.1 499.0 1038.8 496.9 1040.5 497.5 1042.2 500.8 1044.0 503.9 1045.7 504.9 1047.4 504.5 1049.2 505.8 1050.9 508.9 1052.6 511.4 1054.4 513.0 1056.1 514.5 1057.8 515.7 1059.6 515.5 1061.3 514.5 1063.0 513.7 1064.8 512.5 1066.5 511.7 1068.2 511.3 1070.0 510.4 1071.7 511.1 1073.4 511.6 1075.2 509.9 1076.9 509.1 1078.6 508.6 1080.4 507.1 1082.1 506.3 1083.8 506.6 1085.6 506.7 1087.3 507.2 1089.0 507.7 1090.8 507.4 1092.5 508.0 1094.2 508.2 1096.0 507.8 1097.7 508.1 1099.4 507.2 1101.2 503.8 1102.9 500.7 1104.6 500.1 1106.4 500.1 1108.1 497.2 1109.8 494.6 1111.5 494.4 1113.3 493.9 1115.0 492.8 1116.7 492.6 1118.5 492.2 1120.2 490.8 1121.9 489.5 1123.7 487.7 1125.4 484.9 1127.1 482.3 1128.9 480.0 1130.6 477.5 1132.3 474.9 1134.1 472.3 1135.8 470.0 1137.5 468.7 1139.3 467.5 1141.0 465.3 1142.7 462.0 1144.5 457.6 1146.2 453.1 1147.9 449.3 1149.7 446.4 1151.4 444.0 1153.1 440.1 1154.9 434.6 1156.6 430.2 1158.3 426.4 1160.1 421.8 1161.8 418.1 1163.5 414.8 1165.3 411.5 1167.0 409.8 1168.7 408.2 1170.5 405.6 1172.2 402.8 1173.9 400.3 1175.7 398.5 1177.4 395.9 1179.1 393.2 1180.8 391.8 1182.6 389.6 1184.3 386.2 1186.0 384.6 1187.8 384.0 1189.5 383.4 1191.2 383.4 1193.0 382.4 1194.7 380.3 1196.4 378.6 1198.2 377.4 1199.9 375.8 1201.6 373.1 1203.4 370.3 1205.1 368.5 1206.8 367.6 1208.6 365.9 1210.3 363.2 1212.0 362.2 1213.8 363.1 1215.5 362.1 1217.2 359.6 1219.0 357.5 1220.7 355.4 1222.4 354.4 1224.2 353.0 1225.9 350.7 1227.6 348.2 1229.4 346.4 1231.1 345.1 1232.8 343.1 1234.6 340.7 1236.3 338.2 1238.0 336.4 1239.8 334.1 1241.5 332.0 1243.2 330.2 1245.0 327.8 1246.7 325.4 1248.4 323.3 1250.1 321.0 1251.9 318.1 1253.6 316.1 1255.3 314.5 1257.1 312.2 1258.8 310.1 1260.5 308.4 1262.3 306.4 1264.0 303.2 1265.7 301.1 1267.5 300.0 1269.2 297.9 1270.9 295.4 1272.7 293.2 1274.4 291.3 1276.1 289.8 1277.9 287.9 1279.6 285.8 1281.3 283.4 1283.1 280.7 1284.8 279.5 1286.5 278.6 1288.3 275.6 1290.0 272.4 1291.7 269.9 1293.5 267.6 1295.2 265.9 1296.9 264.8 1298.7 264.0 1300.4 262.2 1302.1 259.7 1303.9 258.0 1305.6 258.2 1307.3 258.4 1309.1 256.3 1310.8 254.0 1312.5 253.5 1314.3 253.7 1316.0 252.9 1317.7 252.5 1319.4 252.2 1321.2 249.7 1322.9 247.2 1324.6 245.6 1326.4 244.5 1328.1 243.5 1329.8 241.8 1331.6 241.0 1333.3 240.6 1335.0 239.3 1336.8 238.9 1338.5 239.2 1340.2 237.7 1342.0 235.6 1343.7 234.2 1345.4 233.7 1347.2 233.5 1348.9 233.2 1350.6 232.7 1352.4 231.6 1354.1 231.4 1355.8 232.8 1357.6 233.2 1359.3 232.0 1361.0 231.8 1362.8 232.7 1364.5 232.7 1366.2 232.7 1368.0 233.1 1369.7 232.7 1371.4 232.1 1373.2 232.5 1374.9 232.6 1376.6 232.6 1378.4 232.9 1380.1 232.8 1381.8 232.2 1383.6 231.3 1385.3 232.2 1387.0 235.2 1388.7 236.7 1390.5 237.0 1392.2 237.9 1393.9 239.5 1395.7 242.3 1397.4 244.2 1399.1 244.8 1400.9 245.5 1402.6 246.7 1404.3 247.3 1406.1 248.0 1407.8 250.3 1409.5 252.7 1411.3 254.3 1413.0 255.5 1414.7 256.5 1416.5 257.6 1418.2 259.1 1419.9 262.5 1421.7 266.4 1423.4 268.0 1425.1 268.7 1426.9 270.2 1428.6 271.7 1430.3 273.3 1432.1 276.0 1433.8 278.2 1435.5 279.7 1437.3 282.4 1439.0 285.7 1440.7 287.3 1442.5 288.1 1444.2 290.9 1445.9 294.0 1447.7 296.0 1449.4 297.2 1451.1 298.3 1452.9 299.3 1454.6 301.7 1456.3 305.0 1458.0 305.9 1459.8 307.1 1461.5 310.0 1463.2 311.3 1465.0 312.2 1466.7 314.8 1468.4 317.8 1470.2 319.2 1471.9 319.9 1473.6 321.8 1475.4 324.9 1477.1 328.0 1478.8 331.1 1480.6 333.1 1482.3 334.0 1484.0 336.0 1485.8 337.9 1487.5 339.8 1489.2 342.1 1491.0 345.0 1492.7 348.2 1494.4 350.1 1496.2 352.4 1497.9 355.0 1499.6 356.9 1501.4 358.8 1503.1 361.9 1504.8 365.9 1506.6 367.5 1508.3 368.7 1510.0 372.0 1511.8 373.9 1513.5 374.2 1515.2 376.0 1517.0 378.9 1518.7 382.5 1520.4 385.4 1522.2 387.5 1523.9 390.2 1525.6 392.5 1527.3 394.4 1529.1 396.8 1530.8 398.8 1532.5 400.7 1534.3 403.1 1536.0 405.1 1537.7 405.4 1539.5 405.7 1541.2 407.7 1542.9 408.8 1544.7 408.0 1546.4 407.3 1548.1 408.1 1549.9 409.4 1551.6 409.7 1553.3 411.8 1555.1 415.4 1556.8 418.9 1558.5 421.9 1560.3 423.3 1562.0 425.6 1563.7 429.6 1565.5 431.4 1567.2 431.6 1568.9 433.0 1570.7 434.9 1572.4 436.3 1574.1 437.2 1575.9 438.7 1577.6 440.7 1579.3 441.7 1581.1 442.5 1582.8 443.8 1584.5 445.8 1586.3 447.7 1588.0 448.8 1589.7 449.6 1591.5 451.2 1593.2 453.3 1594.9 455.1 1596.6 457.5 1598.4 459.4 1600.1 459.8 1601.8 460.9 1603.6 462.8 1605.3 464.3 1607.0 466.0 1608.8 468.7 1610.5 470.2 1612.2 470.9 1614.0 473.0 1615.7 475.5 1617.4 477.6 1619.2 479.7 1620.9 480.5 1622.6 480.8 1624.4 482.3 1626.1 483.9 1627.8 484.5 1629.6 485.0 1631.3 486.3 1633.0 487.9 1634.8 489.0 1636.5 490.2 1638.2 490.9" stroke="#ff0000"/>
<path d="M1007.6 347.9 1009.3 348.3 1011.1 348.6 1012.8 348.9 1014.5 350.8 1016.3 350.9 1018.0 348.5 1019.7 348.0 1021.5 349.8 1023.2 350.3 1024.9 350.6 1026.7 351.7 1028.4 352.1 1030.1 352.0 1031.9 351.5 1033.6 351.9 1035.3 353.1 1037.1 352.4 1038.8 350.9 1040.5 351.4 1042.2 351.9 1044.0 351.5 1045.7 351.5 1047.4 351.6 1049.2 352.1 1050.9 352.7 1052.6 351.8 1054.4 351.3 1056.1 352.4 1057.8 353.6 1059.6 355.1 1061.3 357.0 1063.0 359.5 1064.8 360.5 1066.5 358.9 1068.2 357.9 1070.0 358.0 1071.7 358.0 1073.4 357.5 1075.2 357.3 1076.9 357.5 1078.6 357.5 1080.4 357.6 1082.1 358.5 1083.8 358.1 1085.6 356.9 1087.3 356.5 1089.0 357.1 1090.8 357.9 1092.5 358.0 1094.2 357.3 1096.0 356.7 1097.7 356.6 1099.4 355.5 1101.2 353.8 1102.9 353.3 1104.6 352.8 1106.4 352.2 1108.1 351.3 1109.8 350.2 1111.5 349.4 1113.3 348.4 1115.0 347.7 1116.7 347.2 1118.5 346.3 1120.2 344.9 1121.9 343.5 1123.7 343.5 1125.4 344.4 1127.1 343.7 1128.9 342.4 1130.6 342.2 1132.3 342.2 1134.1 341.5 1135.8 340.2 1137.5 338.7 1139.3 337.2 1141.0 336.0 1142.7 335.9 1144.5 335.4 1146.2 333.3 1147.9 331.4 1149.7 330.3 1151.4 328.6 1153.1 326.0 1154.9 324.6 1156.6 323.5 1158.3 321.4 1160.1 320.2 1161.8 320.1 1163.5 319.6 1165.3 317.1 1167.0 314.2 1168.7 313.5 1170.5 313.2 1172.2 311.5 1173.9 308.3 1175.7 305.5 1177.4 303.3 1179.1 300.8 1180.8 298.8 1182.6 296.5 1184.3 293.9 1186.0 291.6 1187.8 288.4 1189.5 284.7 1191.2 282.5 1193.0 280.0 1194.7 276.8 1196.4 275.0 1198.2 272.6 1199.9 268.5 1201.6 265.8 1203.4 264.3 1205.1 261.0 1206.8 257.0 1208.6 254.3 1210.3 252.4 1212.0 249.1 1213.8 245.0 1215.5 242.8 1217.2 241.4 1219.0 239.5 1220.7 237.4 1222.4 234.7 1224.2 232.0 1225.9 230.5 1227.6 229.2 1229.4 227.0 1231.1 225.3 1232.8 224.1 1234.6 222.8 1236.3 220.8 1238.0 218.0 1239.8 215.5 1241.5 213.7 1243.2 211.4 1245.0 208.9 1246.7 206.4 1248.4 204.0 1250.1 202.0 1251.9 199.5 1253.6 197.0 1255.3 195.6 1257.1 195.8 1258.8 195.0 1260.5 192.3 1262.3 191.0 1264.0 190.7 1265.7 189.5 1267.5 187.9 1269.2 186.9 1270.9 186.2 1272.7 185.3 1274.4 184.5 1276.1 184.5 1277.9 184.7 1279.6 184.3 1281.3 183.0 1283.1 181.3 1284.8 179.4 1286.5 177.7 1288.3 176.2 1290.0 174.3 1291.7 172.8 1293.5 172.0 1295.2 171.0 1296.9 169.7 1298.7 169.7 1300.4 169.8 1302.1 168.6 1303.9 167.3 1305.6 166.6 1307.3 165.9 1309.1 164.8 1310.8 164.0 1312.5 162.5 1314.3 161.1 1316.0 160.8 1317.7 161.1 1319.4 161.0 1321.2 161.0 1322.9 161.5 1324.6 161.2 1326.4 160.3 1328.1 159.8 1329.8 159.1 1331.6 158.4 1333.3 158.6 1335.0 159.2 1336.8 158.6 1338.5 157.6 1340.2 158.0 1342.0 158.3 1343.7 158.0 1345.4 158.2 1347.2 157.9 1348.9 157.9 1350.6 158.0 1352.4 157.3 1354.1 157.5 1355.8 159.3 1357.6 160.0 1359.3 159.6 1361.0 159.9 1362.8 159.5 1364.5 157.9 1366.2 157.4 1368.0 158.3 1369.7 160.0 1371.4 160.5 1373.2 159.0 1374.9 158.5 1376.6 159.0 1378.4 159.7 1380.1 159.3 1381.8 157.7 1383.6 158.5 1385.3 160.6 1387.0 161.9 1388.7 162.9 1390.5 163.6 1392.2 164.2 1393.9 165.0 1395.7 165.8 1397.4 166.8 1399.1 168.0 1400.9 168.8 1402.6 169.5 1404.3 170.5 1406.1 171.8 1407.8 174.0 1409.5 176.3 1411.3 177.4 1413.0 177.8 1414.7 178.5 1416.5 180.4 1418.2 181.9 1419.9 183.5 1421.7 186.0 1423.4 187.3 1425.1 188.1 1426.9 189.2 1428.6 190.8 1430.3 193.5 1432.1 195.3 1433.8 196.3 1435.5 198.9 1437.3 202.0 1439.0 203.8 1440.7 204.7 1442.5 206.5 1444.2 208.9 1445.9 209.8 1447.7 211.4 1449.4 214.9 1451.1 218.2 1452.9 220.8 1454.6 222.3 1456.3 223.5 1458.0 226.0 1459.8 227.7 1461.5 227.6 1463.2 227.7 1465.0 229.1 1466.7 229.9 1468.4 231.1 1470.2 233.0 1471.9 234.8 1473.6 235.9 1475.4 236.6 1477.1 237.6 1478.8 238.2 1480.6 239.4 1482.3 242.0 1484.0 244.1 1485.8 245.1 1487.5 247.0 1489.2 249.1 1491.0 251.3 1492.7 253.2 1494.4 253.7 1496.2 254.8 1497.9 256.2 1499.6 257.1 1501.4 259.3 1503.1 261.6 1504.8 262.5 1506.6 263.2 1508.3 264.8 1510.0 266.3 1511.8 267.6 1513.5 269.5 1515.2 271.2 1517.0 272.4 1518.7 274.0 1520.4 275.4 1522.2 275.9 1523.9 277.3 1525.6 280.4 1527.3 282.4 1529.1 283.5 1530.8 285.2 1532.5 287.4 1534.3 289.6 1536.0 291.0 1537.7 291.5 1539.5 292.8 1541.2 295.4 1542.9 296.4 1544.7 296.8 1546.4 299.2 1548.1 301.9 1549.9 302.2 1551.6 302.8 1553.3 305.3 1555.1 307.6 1556.8 308.8 1558.5 309.8 1560.3 311.5 1562.0 313.4 1563.7 314.7 1565.5 316.1 1567.2 317.8 1568.9 319.9 1570.7 321.9 1572.4 323.1 1574.1 323.6 1575.9 324.2 1577.6 324.9 1579.3 325.0 1581.1 326.3 1582.8 329.6 1584.5 331.0 1586.3 330.8 1588.0 331.6 1589.7 332.5 1591.5 333.9 1593.2 336.0 1594.9 336.9 1596.6 337.1 1598.4 337.7 1600.1 337.5 1601.8 337.2 1603.6 339.1 1605.3 340.9 1607.0 341.7 1608.8 341.9 1610.5 341.6 1612.2 342.3 1614.0 343.8 1615.7 345.1 1617.4 346.3 1619.2 346.7 1620.9 346.9 1622.6 347.9 1624.4 349.0 1626.1 349.6 1627.8 350.4 1629.6 351.0 1631.3 350.7 1633.0 350.3 1634.8 350.2 1636.5 350.0 1638.2 349.3" stroke="#000"/>
<path d="M1007.6 507.4 1009.3 507.0 1011.1 507.6 1012.8 508.5 1014.5 508.1 1016.3 506.7 1018.0 505.6 1019.7 505.6 1021.5 505.5 1023.2 505.9 1024.9 507.1 1026.7 507.7 1028.4 508.4 1030.1 507.5 1031.9 505.0 1033.6 503.4 1035.3 501.2 1037.1 497.9 1038.8 496.7 1040.5 497.4 1042.2 497.0 1044.0 496.0 1045.7 495.8 1047.4 495.5 1049.2 495.8 1050.9 495.9 1052.6 496.2 1054.4 498.3 1056.1 500.5 1057.8 501.8 1059.6 503.3 1061.3 505.9 1063.0 507.7 1064.8 508.0 1066.5 508.6 1068.2 509.4 1070.0 509.8 1071.7 509.8 1073.4 510.3 1075.2 511.9 1076.9 512.7 1078.6 512.2 1080.4 511.7 1082.1 511.9 1083.8 512.7 1085.6 512.0 1087.3 509.9 1089.0 509.6 1090.8 509.9 1092.5 509.6 1094.2 510.0 1096.0 509.3 1097.7 505.5 1099.4 501.8 1101.2 498.9 1102.9 496.1 1104.6 493.4 1106.4 490.8 1108.1 489.3 1109.8 488.0 1111.5 487.4 1113.3 486.3 1115.0 483.8 1116.7 481.0 1118.5 477.9 1120.2 473.8 1121.9 470.3 1123.7 467.5 1125.4 463.1 1127.1 458.6 1128.9 456.4 1130.6 454.7 1132.3 451.6 1134.1 448.2 1135.8 445.0 1137.5 442.7 1139.3 440.5 1141.0 436.4 1142.7 433.1 1144.5 432.2 1146.2 430.5 1147.9 428.0 1149.7 427.0 1151.4 426.2 1153.1 424.6 1154.9 422.7 1156.6 421.5 1158.3 419.6 1160.1 416.0 1161.8 413.6 1163.5 411.1 1165.3 406.5 1167.0 402.4 1168.7 399.3 1170.5 396.9 1172.2 396.5 1173.9 396.7 1175.7 394.9 1177.4 392.5 1179.1 392.2 1180.8 392.1 1182.6 391.0 1184.3 390.2 1186.0 389.4 1187.8 386.8 1189.5 383.9 1191.2 382.6 1193.0 382.3 1194.7 380.7 1196.4 377.6 1198.2 375.4 1199.9 374.8 1201.6 373.2 1203.4 370.4 1205.1 369.4 1206.8 369.3 1208.6 367.8 1210.3 364.4 1212.0 361.2 1213.8 360.0 1215.5 358.5 1217.2 356.0 1219.0 353.7 1220.7 352.4 1222.4 351.4 1224.2 348.8 1225.9 345.6 1227.6 343.7 1229.4 343.5 1231.1 341.7 1232.8 338.4 1234.6 336.4 1236.3 334.7 1238.0 333.5 1239.8 332.1 1241.5 329.0 1243.2 325.9 1245.0 324.2 1246.7 323.4 1248.4 321.5 1250.1 318.7 1251.9 316.8 1253.6 314.8 1255.3 312.0 1257.1 310.0 1258.8 308.5 1260.5 305.9 1262.3 304.2 1264.0 302.4 1265.7 299.0 1267.5 296.7 1269.2 295.9 1270.9 294.2 1272.7 291.0 1274.4 288.3 1276.1 285.8 1277.9 284.1 1279.6 283.1 1281.3 281.5 1283.1 279.9 1284.8 277.2 1286.5 274.5 1288.3 273.1 1290.0 271.1 1291.7 269.2 1293.5 267.4 1295.2 265.9 1296.9 265.6 1298.7 264.2 1300.4 262.3 1302.1 261.4 1303.9 260.2 1305.6 258.8 1307.3 258.2 1309.1 257.2 1310.8 255.5 1312.5 254.7 1314.3 254.3 1316.0 253.2 1317.7 252.6 1319.4 252.7 1321.2 251.5 1322.9 250.2 1324.6 248.6 1326.4 246.1 1328.1 245.5 1329.8 245.4 1331.6 244.7 1333.3 244.6 1335.0 244.4 1336.8 243.5 1338.5 242.3 1340.2 240.9 1342.0 239.7 1343.7 239.0 1345.4 238.5 1347.2 237.4 1348.9 235.7 1350.6 235.5 1352.4 235.9 1354.1 236.0 1355.8 236.0 1357.6 234.9 1359.3 234.0 1361.0 234.1 1362.8 234.1 1364.5 234.0 1366.2 234.5 1368.0 235.6 1369.7 236.1 1371.4 234.1 1373.2 232.2 1374.9 232.6 1376.6 234.3 1378.4 236.1 1380.1 236.0 1381.8 234.8 1383.6 235.5 1385.3 236.8 1387.0 237.6 1388.7 238.6 1390.5 239.6 1392.2 240.5 1393.9 242.5 1395.7 244.2 1397.4 244.3 1399.1 245.9 1400.9 248.8 1402.6 249.6 1404.3 250.2 1406.1 252.1 1407.8 254.7 1409.5 256.7 1411.3 257.8 1413.0 259.2 1414.7 262.4 1416.5 265.1 1418.2 266.3 1419.9 268.3 1421.7 271.0 1423.4 273.4 1425.1 275.6 1426.9 277.9 1428.6 278.9 1430.3 280.1 1432.1 282.8 1433.8 285.3 1435.5 286.7 1437.3 286.7 1439.0 287.2 1440.7 289.2 1442.5 292.4 1444.2 295.9 1445.9 297.9 1447.7 298.8 1449.4 299.7 1451.1 300.4 1452.9 301.4 1454.6 304.6 1456.3 307.6 1458.0 308.3 1459.8 309.6 1461.5 311.7 1463.2 312.9 1465.0 315.0 1466.7 317.8 1468.4 320.5 1470.2 323.0 1471.9 324.8 1473.6 326.5 1475.4 328.8 1477.1 331.0 1478.8 332.5 1480.6 333.2 1482.3 334.3 1484.0 337.3 1485.8 340.6 1487.5 343.5 1489.2 346.8 1491.0 349.7 1492.7 350.8 1494.4 351.7 1496.2 353.7 1497.9 355.9 1499.6 358.5 1501.4 360.3 1503.1 362.1 1504.8 366.1 1506.6 369.9 1508.3 371.7 1510.0 373.6 1511.8 375.7 1513.5 377.1 1515.2 378.7 1517.0 380.2 1518.7 382.5 1520.4 385.4 1522.2 387.1 1523.9 389.6 1525.6 393.0 1527.3 394.4 1529.1 394.9 1530.8 396.5 1532.5 398.0 1534.3 400.3 1536.0 401.8 1537.7 401.9 1539.5 402.7 1541.2 404.0 1542.9 406.7 1544.7 409.8 1546.4 411.9 1548.1 415.2 1549.9 419.8 1551.6 423.5 1553.3 426.1 1555.1 427.7 1556.8 428.5 1558.5 430.1 1560.3 432.2 1562.0 433.9 1563.7 436.1 1565.5 438.2 1567.2 440.1 1568.9 442.5 1570.7 444.9 1572.4 446.5 1574.1 447.1 1575.9 449.2 1577.6 452.6 1579.3 454.5 1581.1 455.4 1582.8 455.9 1584.5 457.1 1586.3 459.6 1588.0 461.9 1589.7 464.0 1591.5 465.7 1593.2 467.4 1594.9 469.8 1596.6 471.9 1598.4 473.2 1600.1 474.0 1601.8 474.8 1603.6 476.3 1605.3 477.9 1607.0 479.8 1608.8 481.9 1610.5 483.5 1612.2 484.8 1614.0 486.7 1615.7 488.8 1617.4 490.2 1619.2 492.2 1620.9 495.4 1622.6 499.0 1624.4 502.3 1626.1 505.4 1627.8 507.7 1629.6 507.1 1631.3 506.5 1633.0 506.5 1634.8 506.3 1636.5 507.0 1638.2 506.9" stroke="#000"/>
</g>
<g fill="#0000ff">
<rect x="73.7" y="42.0" width="90.3" height="10.8"/>
<rect x="175.5" y="42.0" width="206.4" height="10.8"/>
<rect x="390.2" y="42.0" width="443.8" height="10.8"/>
</g>
<g fill="#ff0000">
<rect x="73.7" y="55.8" width="78.2" height="11.3"/>
<rect x="204.7" y="55.8" width="86.3" height="11.3"/>
<rect x="394.4" y="55.8" width="21.9" height="11.3"/>
<rect x="425.4" y="55.8" width="65.2" height="11.3"/>
<rect x="493.8" y="55.8" width="10.8" height="11.3"/>
<rect x="561.2" y="55.8" width="272.8" height="11.3"/>
</g>
<g fill="#7f7f7f">
<rect x="93.0" y="70.2" width="44.3" height="11.3"/>
<rect x="175.5" y="70.2" width="71.9" height="11.3"/>
<rect x="289.2" y="70.2" width="73.2" height="11.3"/>
<rect x="467.6" y="70.2" width="120.7" height="11.3"/>
<rect x="592.6" y="70.2" width="179.8" height="11.3"/>
<rect x="784.2" y="70.2" width="9.8" height="11.3"/>
</g>
<g fill="#0000ff">
<rect x="1007.6" y="35.8" width="54.4" height="10.8"/>
<rect x="1096.0" y="35.8" width="93.5" height="10.8"/>
<rect x="1203.6" y="35.8" width="25.1" height="10.8"/>
<rect x="1322.2" y="35.8" width="100.4" height="10.8"/>
<rect x="1423.6" y="35.8" width="40.7" height="10.8"/>
<rect x="1500.2" y="35.8" width="23.6" height="10.8"/>
<rect x="1546.0" y="35.8" width="10.5" height="10.8"/>
<rect x="1561.0" y="35.8" width="77.8" height="10.8"/>
</g>
<g fill="#0000ff">
<rect x="1270.0" y="36.5" width="4.5" height="10.1"/>
</g>
<circle cx="1485.6" cy="41.2" r="5.4" fill="#0000ff"/>
<g fill="#ff0000">
<rect x="1007.6" y="46.6" width="18.4" height="10.9"/>
<rect x="1128.6" y="46.6" width="81.3" height="10.9"/>
<rect x="1251.9" y="46.6" width="58.3" height="10.9"/>
<rect x="1330.7" y="46.6" width="82.0" height="10.9"/>
<rect x="1546.0" y="46.6" width="92.8" height="10.9"/>
</g>
<g fill="#7f7f7f">
<rect x="1017.5" y="58.2" width="8.0" height="9.4"/>
<rect x="1038.6" y="58.2" width="19.1" height="9.4"/>
<rect x="1104.0" y="58.2" width="18.4" height="9.4"/>
<rect x="1140.7" y="58.2" width="2.5" height="9.4"/>
<rect x="1222.4" y="58.2" width="8.1" height="9.4"/>
<rect x="1251.9" y="58.2" width="50.7" height="9.4"/>
<rect x="1329.0" y="58.2" width="25.8" height="9.4"/>
<rect x="1383.0" y="58.2" width="8.8" height="9.4"/>
<rect x="1426.5" y="58.2" width="37.8" height="9.4"/>
<rect x="1508.8" y="58.2" width="9.2" height="9.4"/>
<rect x="1558.3" y="58.2" width="49.0" height="9.4"/>
<rect x="1616.9" y="58.2" width="6.8" height="9.4"/>
</g>
<path d="M91.0 121.2H113.4" stroke="#0000ff" stroke-width="5.8" fill="none"/>
<path d="M91.0 151.3H113.4" stroke="#ff0000" stroke-width="5.8" fill="none"/>
<path d="M91.0 180.3H113.4" stroke="#000" stroke-width="5.8" fill="none"/>
<path d="M1023.0 95.8H1041.6" stroke="#0000ff" stroke-width="4.6" fill="none"/>
<path d="M1023.0 117.2H1041.6" stroke="#ff0000" stroke-width="4.6" fill="none"/>
<path d="M1023.0 138.5H1041.6" stroke="#000" stroke-width="4.6" fill="none"/>
<text transform="translate(134.00 130.55) scale(0.2399 0.2493)" font-size="100" fill="#141414" stroke="#141414" stroke-width="0.82">1790−1820, test−recent</text>
<text transform="translate(134.00 161.05) scale(0.2398 0.2493)" font-size="100" fill="#141414" stroke="#141414" stroke-width="0.82">1920−1950; test lia−20s</text>
<text transform="translate(133.81 189.35) scale(0.2393 0.2451)" font-size="100" fill="#141414" stroke="#141414" stroke-width="0.83">1980−2010, test 20s−recent</text>
<text transform="translate(1057.54 104.17) scale(0.2615 0.2282)" font-size="100" fill="#141414" stroke="#141414" stroke-width="0.82">1790−1820, test−recent</text>
<text transform="translate(1057.55 126.07) scale(0.2606 0.2296)" font-size="100" fill="#141414" stroke="#141414" stroke-width="0.82">1920−1950; test lia−20s</text>
<text transform="translate(1057.55 147.17) scale(0.2599 0.2296)" font-size="100" fill="#141414" stroke="#141414" stroke-width="0.82">1968−1998, test 20s−recent</text>
<text transform="translate(468.87 18.68) scale(0.2057 0.2211)" font-size="100" fill="#141414" stroke="#141414" stroke-width="0.94">CET</text>
<text transform="translate(1311.36 19.40) scale(0.2192 0.2014)" font-size="100" fill="#141414" stroke="#141414" stroke-width="0.95">Uppsala</text>
<text transform="translate(28.49 39.94) scale(0.3024 0.2563)" font-size="100" fill="#141414" stroke="#141414" stroke-width="0.72">30</text>
<text transform="translate(36.63 194.94) scale(0.2732 0.2563)" font-size="100" fill="#141414" stroke="#141414" stroke-width="0.76">20</text>
<text transform="translate(37.51 347.94) scale(0.2650 0.2563)" font-size="100" fill="#141414" stroke="#141414" stroke-width="0.77">10</text>
<text transform="translate(50.38 480.44) scale(0.2812 0.2563)" font-size="100" fill="#141414" stroke="#141414" stroke-width="0.74">0</text>
<text transform="translate(15.64 642.24) scale(0.3026 0.2634)" font-size="100" fill="#141414" stroke="#141414" stroke-width="0.71">-10</text>
<g clip-path="url(#c15)"><text transform="translate(43.21 715.80) scale(0.1765 0.2042)" font-size="100" fill="#141414" stroke="#141414" stroke-width="1.05">-15</text></g>
<text transform="translate(973.26 55.55) scale(0.2860 0.2549)" font-size="100" fill="#141414" stroke="#141414" stroke-width="0.74">30</text>
<text transform="translate(974.23 168.75) scale(0.2946 0.2549)" font-size="100" fill="#141414" stroke="#141414" stroke-width="0.73">20</text>
<text transform="translate(975.03 279.25) scale(0.2620 0.2535)" font-size="100" fill="#141414" stroke="#141414" stroke-width="0.78">10</text>
<text transform="translate(982.83 385.95) scale(0.2917 0.2535)" font-size="100" fill="#141414" stroke="#141414" stroke-width="0.73">0</text>
<text transform="translate(958.04 504.35) scale(0.3026 0.2535)" font-size="100" fill="#141414" stroke="#141414" stroke-width="0.72">-10</text>
<text transform="translate(958.04 611.55) scale(0.3026 0.2535)" font-size="100" fill="#141414" stroke="#141414" stroke-width="0.72">-20</text>
<text transform="translate(950.56 712.73) scale(0.2982 0.2704)" font-size="100" fill="#141414" stroke="#141414" stroke-width="0.70">-30</text>
<text transform="translate(28.43 414.73) rotate(-90) scale(0.3643 0.3369)" font-size="100" fill="#141414" stroke="#141414" stroke-width="0.57">Temperature [°C]</text>
<text transform="translate(963.04 420.85) rotate(-90) scale(0.3757 0.3412)" font-size="100" fill="#141414" stroke="#141414" stroke-width="0.56">Temperature [°C]</text>
<text transform="translate(66.56 723.96) scale(0.2050 0.2366)" font-size="100" fill="#141414" stroke="#141414" stroke-width="0.91">0</text>
<text transform="translate(165.07 723.96) scale(0.2050 0.2366)" font-size="100" fill="#141414" stroke="#141414" stroke-width="0.91">50</text>
<text transform="translate(264.52 723.96) scale(0.2050 0.2366)" font-size="100" fill="#141414" stroke="#141414" stroke-width="0.91">100</text>
<text transform="translate(369.02 723.96) scale(0.2050 0.2366)" font-size="100" fill="#141414" stroke="#141414" stroke-width="0.91">150</text>
<text transform="translate(474.58 723.96) scale(0.2050 0.2366)" font-size="100" fill="#141414" stroke="#141414" stroke-width="0.91">200</text>
<text transform="translate(577.98 723.96) scale(0.2050 0.2366)" font-size="100" fill="#141414" stroke="#141414" stroke-width="0.91">250</text>
<text transform="translate(683.68 723.96) scale(0.2050 0.2366)" font-size="100" fill="#141414" stroke="#141414" stroke-width="0.91">300</text>
<text transform="translate(787.08 723.96) scale(0.2050 0.2366)" font-size="100" fill="#141414" stroke="#141414" stroke-width="0.91">350</text>
<text transform="translate(893.19 723.96) scale(0.2050 0.2366)" font-size="100" fill="#141414" stroke="#141414" stroke-width="0.91">400</text>
<g clip-path="url(#c0b)"><text transform="translate(1003.08 730.59) scale(0.2292 0.2141)" font-size="100" fill="#141414" stroke="#141414" stroke-width="0.90">0</text></g>
<text transform="translate(1083.74 730.59) scale(0.2130 0.2141)" font-size="100" fill="#141414" stroke="#141414" stroke-width="0.94">50</text>
<text transform="translate(1163.87 730.59) scale(0.2130 0.2141)" font-size="100" fill="#141414" stroke="#141414" stroke-width="0.94">100</text>
<text transform="translate(1250.29 730.59) scale(0.2130 0.2141)" font-size="100" fill="#141414" stroke="#141414" stroke-width="0.94">150</text>
<text transform="translate(1336.97 730.59) scale(0.2130 0.2141)" font-size="100" fill="#141414" stroke="#141414" stroke-width="0.94">200</text>
<text transform="translate(1423.38 730.59) scale(0.2130 0.2141)" font-size="100" fill="#141414" stroke="#141414" stroke-width="0.94">250</text>
<text transform="translate(1509.90 730.59) scale(0.2130 0.2141)" font-size="100" fill="#141414" stroke="#141414" stroke-width="0.94">300</text>
<text transform="translate(1596.32 730.59) scale(0.2130 0.2141)" font-size="100" fill="#141414" stroke="#141414" stroke-width="0.94">350</text>
<text transform="translate(1682.95 730.59) scale(0.2130 0.2141)" font-size="100" fill="#141414" stroke="#141414" stroke-width="0.94">400</text>
<text transform="translate(462.93 784.50) scale(0.3835 0.3551)" font-size="100" fill="#141414" stroke="#141414" stroke-width="0.54">Day within year</text>
<text transform="translate(1324.85 785.20) scale(0.3818 0.3739)" font-size="100" fill="#141414" stroke="#141414" stroke-width="0.53">Day within year</text>
<text transform="translate(32.47 804.56) scale(0.3822 0.3436)" font-size="100" fill="#141414" stroke="#141414" stroke-width="0.55">a)</text>
<text transform="translate(969.06 805.25) scale(0.4066 0.3524)" font-size="100" fill="#141414" stroke="#141414" stroke-width="0.53">b)</text>
<rect x="603.5" y="736" width="1.4" height="1.4" fill="#7a1a1a"/>
<rect x="34.4" y="698.6" width="1.4" height="1.4" fill="#d2691e"/>
</g>
</svg>
</body></html>
